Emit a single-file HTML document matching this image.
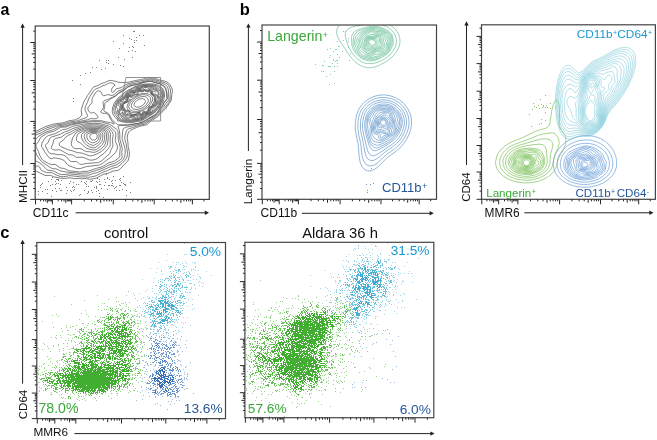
<!DOCTYPE html><html><head><meta charset="utf-8"><title>Figure</title><style>html,body{margin:0;padding:0;background:#fff;width:657px;height:440px;overflow:hidden}svg{display:block}</style></head><body><svg width="657" height="440" viewBox="0 0 657 440" font-family="'Liberation Sans', Arial, Helvetica, sans-serif"><defs><clipPath id="ca"><rect x="35.2" y="26" width="174.1" height="173.4"/></clipPath><clipPath id="cb"><rect x="262" y="25" width="174.5" height="174.3"/></clipPath><clipPath id="cr"><rect x="481.5" y="24.8" width="173.9" height="174.5"/></clipPath><clipPath id="cc"><rect x="36.8" y="242.5" width="188.7" height="176.1"/></clipPath><clipPath id="cd"><rect x="244.9" y="242.3" width="188.9" height="175.4"/></clipPath></defs><rect width="657" height="440" fill="#fff"/><text x="0.4" y="14.5" font-size="16" fill="#000" font-weight="bold" text-anchor="start" >a</text><text x="239.8" y="14.6" font-size="16.5" fill="#000" font-weight="bold" text-anchor="start" >b</text><text x="0.3" y="238.4" font-size="16.5" fill="#000" font-weight="bold" text-anchor="start" >c</text><path d="M94.7 140 92.3 140 90.7 138.9 90.2 138 89.8 136.5 90.4 134.5 92.2 133.7 94.2 133.4 95.7 133.6 97 134.5 97.3 136 96.9 138 96.2 139.1 94.7 140M94.2 142.6 92.7 142.8 91.2 142.4 89.5 141.5 88.2 140.3 87.4 139 86.8 137 86.8 135 87.3 134 89.7 132.9 94.2 132.3 97.2 132.8 98.8 134 99.1 135 99 137 98.2 139.8 96.7 141.5 94.2 142.6M94.7 145.1 93.2 145.4 91.2 145 88.2 143.4 86.1 141.5 84.8 139 84.2 136.5 84.4 134.5 85.6 133 88.7 131.8 94.7 131.4 98.3 132 100.5 133.5 100.9 134.5 100.8 136.5 100 140.5 98.2 142.8 94.7 145.1M95.2 147.6 92.7 147.8 89.9 147 86.7 145.2 84.4 143 82.4 140 81.3 137 81.6 134.5 82.9 133 85.2 131.5 87.2 130.8 93.7 130.4 99.2 131 101.2 131.8 102.2 132.7 102.9 134.5 102.5 139.5 101.8 141.5 99.7 144.1 95.2 147.6M94.7 150 92.7 149.9 86.7 148.4 84.7 147 80.7 143 77.2 141.4 76.6 140.5 76.4 138.5 77.3 135 78.2 133.6 85.2 130.1 88.2 129.4 98.7 129.7 101.7 130.4 103.7 131.7 104.6 133 104.8 134.5 104.5 139.5 103.6 142.5 102.3 144.5 100.7 146.2 96.7 149.3 94.7 150M95.7 152 93.2 152.4 89.7 151.7 86.7 151.7 85.2 151.2 81.2 148.8 79.7 148.5 75.7 148.7 74.2 148.3 73 147.5 71.6 145.5 71.3 143.5 72.5 138 75.8 133 78.2 131.5 85.2 128.8 87.7 128.3 99.7 128.6 102.8 129.5 105.2 131 106.2 132.5 106.6 134.5 106.3 140 105.2 144 104.1 146 102.2 148 98.2 150.8 95.7 152M92.7 155.5 90.7 155.9 89.2 155.7 81.7 153 77.2 152.6 73.2 151.1 68.2 149.8 60.5 146.5 59.2 145 59.4 143.5 60.2 142.3 63.2 140.2 66 137 67.7 135.7 72.2 133.5 76.2 130.8 84.7 127.8 87.7 127.2 97.7 127.3 100.7 127.7 103.7 128.6 106.8 130.5 108.2 133 108.3 138 107.4 145 104.7 148.5 101.7 151.2 97.7 153.6 92.7 155.5M93.2 160 89.7 160.1 85.2 158.1 82.2 157.2 76.7 157.4 75.2 156.7 72.7 154.9 69.7 154.8 68.2 154.4 60.2 149.9 58.7 149.7 55.2 150.1 52.6 149.5 51.4 148.5 51.2 147.5 53 143.5 53.7 140 54.6 139 55.7 138.4 61.2 137.2 65.7 134 70.5 132 74.7 129.7 85.7 126.2 88.7 126 99.2 126.2 102.2 126.8 106.7 128.5 109.1 130.5 110.5 133.5 110.1 141 110.3 144.5 110 146 108.7 148.1 104.2 153.3 100.2 156 97.2 158.6 93.2 160M81.7 164.5 79.7 164.3 77.7 162.2 76.4 161.5 71.7 161.6 70.2 161.2 66.2 156.6 63.7 155.2 61.2 154.6 57.7 154.7 54.2 153.8 51.2 153.8 49.7 153.2 48.2 151.4 45.8 147 45.4 145.5 45.8 144.5 48.2 142.4 49.7 138.5 51.7 137 60.2 134.3 64.7 131.9 68.9 130.5 72.7 128.5 85.7 125 94.7 124.7 99.7 124.9 106.7 126.9 109.2 128.2 112.4 132 113.2 134.5 112.4 140.5 113 146 111.2 149.5 109.7 153.5 102 160.5 99.2 162.2 97.2 162.7 86.2 163.5 81.7 164.5M80.2 168.6 77.2 168.7 69.2 165.8 67.2 164.4 64.2 160.5 60.7 159 55.2 157.9 53.7 158 51.2 158.7 49.7 158.3 45.8 153.5 42.1 147.5 41.5 146 41.8 143.5 44.3 139 46.1 137 48.2 135.6 54.7 133.8 59.3 131.5 62.2 129.7 66.7 129.1 72.2 126.5 84.7 123.9 93.7 123.3 99.7 123.5 108.2 125.8 110.2 126.8 115.1 131.5 115.8 133 115.9 134.5 115.2 140.5 115.6 142 117.1 145 117.5 147 117.2 149.1 115.7 152.3 112.1 156 102.7 163.3 100.7 164.5 97.7 165.3 86.7 166.5 80.2 168.6M83.2 171.5 79.7 172 68.7 170.7 64.7 168.6 60.2 167.9 55.2 164.3 51.7 164.6 48.7 163.7 43.2 160.5 41.9 159 39.8 155.5 38.4 151.5 36.3 147.5 35.9 146 36.2 144.5 38.6 141.5 40.6 137.5 46.7 133.3 48.7 132.5 53.7 131.4 60.7 127.4 62.2 127.1 66.2 127 71.2 124.9 85.2 122.3 93.2 121.7 99.2 121.7 101.7 122.1 110.2 124.5 116.7 129.3 117.6 130.5 118.1 132 118.2 139.5 120.3 147.5 119.8 152 119.8 156 119.3 157.5 114.5 161 108.2 163.1 102.2 166.8 96.2 168.4 88.2 171.2 83.2 171.5M139.2 107 136.7 107.2 134.7 106.3 134.2 105.5 134.1 104.5 134.9 102.5 136.8 100.5 139.6 99 142.2 98.6 144.2 99.1 145.4 100.5 145.4 101.5 144.9 103 142.5 105.5 139.2 107M136.2 109.5 133.2 108.9 132.1 108 131.5 107 131.3 105.5 131.7 104 133.6 101 136.7 98.4 140.7 96.7 144.4 96.5 146.1 97 147.2 97.8 148.1 99 148.3 101 147.8 102.5 146.4 104.5 144.2 106.5 141.7 108 138.7 109.2 136.2 109.5M138.2 111 135.7 111.4 133.2 111.2 131.3 110.5 130 109.5 129 108 128.8 106.5 129.3 104.5 130.4 102.5 132.5 100 134.7 98.1 137.2 96.5 139.7 95.4 142.2 94.7 144.2 94.7 146.7 95.1 148.7 96 150.2 97.5 150.8 99 150.6 101 149.4 103.5 147.2 106 144.2 108.4 141.2 110 138.2 111M137.2 112.6 134.2 112.8 131.7 112.4 129.6 111.5 127.9 110 127.1 108.5 127 106.5 127.9 104 129.4 101.5 131.9 99 134.7 96.8 137.7 95.1 141.2 93.7 143.7 93.4 146.2 93.6 149.4 94.5 151.1 95.5 152.5 97.5 152.6 100 151.9 102 149.8 105 147.2 107.7 144.7 109.6 140.7 111.5 137.2 112.6M129.7 124.6 127.2 124.9 118.7 124.8 117.2 124.4 115.7 123.2 112 119.5 108.7 113.9 107.7 113 104.7 111.6 104 111 103.8 110 104.8 106.5 104.7 103.5 105.2 102.6 108.2 101 110.9 98.5 115.7 96.1 118.7 93.3 123.7 90.5 127.7 87.3 132.2 85.5 137.2 84.7 142.2 82.9 147.2 81.7 149.7 81.4 151.7 81.7 159.7 84 163.9 86.5 165.2 88.3 166.2 91 166.9 98.5 166.4 99.5 164.1 102 162.3 106 159.7 108.8 156.8 113 154.2 115.2 149.1 118 143.2 121.7 138.2 123.3 129.7 124.6M88.7 173 84.7 173 80.2 173.4 66.2 172 60.2 170.8 56.7 169 52.6 168.5 50.2 167.5 41.7 161.8 37.2 155.9 34.7 150.1 32.3 146.5 32.2 145 33.2 142.6 37.3 137.5 39 136 46.7 131.7 52.7 130 58.7 127 60.7 126.4 65.7 126 71.2 124 75.7 123.4 83.7 121.7 91.7 120.7 101.7 120.7 106 122 110.7 122.5 114.2 124.1 113.7 123 110.7 119.5 109.1 116 108 114.5 106.2 113.5 102.2 113.1 101.2 112.6 100.8 112 101 111 102.7 109.1 103.5 107.5 103.6 106 103 102.5 103.4 101.5 104.2 100.7 108.2 99.3 115.2 96 118.7 92.8 123.2 90.5 127.2 87.3 128.7 86.4 132.7 85.1 137.2 84.4 141.2 83 146.2 81.7 149.2 81.2 152.2 81.5 160.2 83.9 164.2 86.1 165.4 87.5 166.6 90.5 167.4 97.5 167.2 99 166.7 100 164.3 102.5 162.7 106 160.2 108.7 157.5 112.5 155.7 114.4 153.7 115.8 148.8 118.5 144.7 121.4 142.7 122.2 138.7 123.4 133.2 124.4 127.7 125.2 120.3 125.5 118.3 126 117.9 126.5 119.4 130.5 119.8 134 119.8 139 122.3 148.5 121.8 152.5 122.2 157 121.3 159 115.5 163 109.2 164.9 102.7 168.2 95.2 170.8 91.7 171.7 88.7 173M89.2 175.1 81.7 175.2 69.7 173.9 61.7 174.7 58.7 173.8 53.7 171 48.2 170.2 46.7 169.5 45.2 168.1 42.6 165 39.2 162.7 35.7 161 35.1 160 33.6 153 32.7 151.5 30.2 149 29.7 148.1 29.4 146.5 29.7 144.5 32.6 137.5 33.4 136.5 34.8 135.5 41.7 132.6 46.7 129.8 57.7 125.9 65.2 124.8 70.7 122.9 75.7 122.4 83.2 120.6 87.2 119.9 90.7 118.6 95.2 118.8 97.6 118 98 117.5 97.9 116.5 95.7 113.7 93.7 112.4 91.2 113.1 90.2 112.7 88.6 111 87.8 109 88.1 107.5 88.6 106.5 91.8 103 92.1 102 91.9 99.5 92.6 97.5 95.7 92.4 97.2 91.2 98.7 90.9 100.2 91.2 101 92 102.2 94.8 103.2 95.6 105.2 95.5 107.7 94.5 110.7 95.3 112.7 95.3 114.7 94.4 117.7 91.3 122.3 89.5 126.2 86.4 128.2 85.2 133.2 83.7 137.2 83.1 148.7 80.2 151.2 80.2 153.2 80.5 161.7 83.1 164.7 84.4 166.2 85.3 167.4 87 168.5 90 168.4 94.5 168.9 98 168.8 99.5 168.1 101 165.8 103.5 163.7 106.9 161 109.5 157.5 114 154.7 116.3 149.8 119 146.2 122 144.7 122.8 133.2 125.8 125.7 127.3 124 128 123.2 129 122.7 130.9 122 138.5 124.8 147.5 125.3 152 124.6 157 122.9 160 121.2 161.6 116.2 165 111.2 166.4 96.7 172.8 92.7 173.5 89.2 175.1M90.7 177 89.2 177.3 85.7 176.9 81.7 177 69.7 175.6 63.7 176.7 60.7 176.6 56.2 175 52.7 173 51.2 172.6 46.7 172.7 41.8 170.5 40.6 169.5 39.7 167 38.7 166.2 37.2 166 34.7 166.5 33.7 166.2 31.4 164 30.2 162 30.2 160 31.4 156.5 31.6 155 30.7 153.1 28.2 150.6 27.5 148.5 27.5 144.5 28.4 141 29.4 139 31.4 136 33 134.5 46.7 127.9 56.2 124.9 64.2 123.8 70.2 121.8 76.7 121 86.6 117.5 87.3 116.5 87.4 115 85.2 110.5 85 108.5 85.9 105.5 87.6 102 88.5 99 89.9 96.5 93.7 90.7 95.2 89.2 99.2 87.7 102.2 86 105.7 84.8 108.7 83.2 110.2 82.8 112.1 83 114.1 84 114.8 85 114.5 86 112.7 87.3 111.7 89 111.6 91.5 112.2 92.2 112.7 92.4 113.7 92 116.2 88.8 121.2 87.7 124.7 85.2 126.7 84.2 134.2 82.1 142.9 80.5 147.7 79.2 150.7 79.1 153.7 79.4 165.2 82.8 167.4 84 169 86 170.7 90 170.1 94.5 170.3 99 169.4 101.5 164.6 108 156.7 116 154.7 117.5 150.3 120 146.2 123.5 144.7 124.1 138.5 125.5 132.2 127.8 128.7 128.7 127.3 129.5 126.5 130.5 124.9 136 124.6 138.5 126.1 143.5 127.6 153.5 127 157 125.4 160 122.2 163.3 117.2 167.2 112.7 168.2 107.2 170.7 101.7 172.7 96.2 175.8 90.7 177M92.2 179 89.7 179.3 85.2 178.5 81.7 178.8 78.2 178.4 74.7 178.6 70.2 177.8 65.2 178.3 60.7 178.2 53.7 176.8 50.7 175.4 45.2 175.5 36.7 171.4 31.7 170.1 29.2 167.1 26.2 165.5 25.7 164.2 26 157.5 24.4 153 24.2 151 24.8 148 25.3 143 26.5 139 31.1 134 32.2 133.2 44.7 126.9 53.2 124.2 56.7 123.5 62.5 123 69.7 120.6 75.2 119.9 79 118 80.8 116.5 81.7 115 81.8 114 81.2 111 81.5 109 83.7 102 87.6 95.5 93.2 87.3 94.2 86.7 97.8 85.5 101.2 83.6 104.7 82.6 108.2 80.9 110.2 80.4 112.2 80.5 119.2 82.4 124.2 82.6 129.7 82 134.7 80.6 141.5 79.5 146.2 78.1 148.2 77.9 154.7 78.3 158.7 79.7 165.7 81.4 168.2 82.6 169.9 84.5 171.5 87.5 172.3 89.5 172.4 91.5 171.7 95 171.4 99 170.9 101 165.7 108.7 157.2 117 151.2 120.8 147.2 124.3 145.2 125.2 140.7 126 136.5 127.5 130.1 130.5 128.6 132 127.6 135 127.2 138 127.9 142 128.2 146.9 129.3 151.5 129.5 153.5 128.7 159 127.9 161 125.2 163.5 121.2 168 118.2 170.4 113.2 171 109.2 172.9 102.7 174.6 96.7 178 92.2 179M133.2 114.5 132.2 114.5 131.4 114 130.1 112.5 129.2 110.3 128.2 110.3 126.7 110.8 126.2 110.6 124.2 108 123.2 106 123.4 104.5 124.2 103.5 127.2 102.2 130.4 100 130.5 99.5 130.2 99.1 128.4 99 128.2 98.5 128.7 97.1 129.7 96.7 131.7 97.4 132.2 97.3 134.2 95 138.2 94.6 138.1 92.5 139.2 91.6 142.2 91.8 144.7 90.8 147.2 92 150.2 91.7 151 94 153.7 96.2 154.4 97.5 154.4 100 154 102 152.8 103.5 152.2 105.3 150.7 106.4 149.2 106.3 147.5 110.5 146.7 111.4 145.7 111.8 143.7 111.3 143 111.5 142.2 114.1 141.2 114.2 139.7 112.2 138.7 111.8 136.7 113.9 133.2 114.5M132.7 115 131.2 114.5 129.4 112.5 128.7 111 126.7 111.6 123.4 108.5 122.8 106 122.8 105 124.2 103.1 126.9 102 128 101 128.2 100.5 127.6 99 128.2 97 129.2 96.3 131.7 96.7 132.2 96.5 133.3 95 134.2 94.3 137.2 94 137.2 92.5 138.7 91.3 140.2 91.1 142.2 91.3 144.7 90.4 147.7 91.6 149.7 90.8 150.8 91 151.2 91.5 151 93 151.4 94 154 96 154.5 96.5 154.8 97.5 154.8 102.5 153.6 103.5 152.7 105.5 151.2 106.7 149.2 107.6 147.8 111 147.2 111.7 145.7 112.3 143.5 112 142.7 114 142.2 114.6 141.2 114.7 139.7 112.9 138.7 112.5 136.7 114.4 132.7 115M142.2 115 141.7 115.2 140.7 114.8 139.2 113.2 138.7 113.3 137.6 114.5 136.7 114.9 131.7 115.3 130.9 115 128.2 112.7 126.2 114.5 125.7 114.4 125.4 114 126 112.5 125.8 111.5 124.7 110.2 122.6 109 122.4 105 124.2 102.7 126.7 101.7 127.5 101 127.2 98.5 128.2 96.1 131.7 96.1 133.2 94.1 137.7 91.1 139.7 90.6 142.2 90.8 144.7 90 147.2 90.8 149.7 90.3 151.2 90.5 151.7 91 151.5 93 151.9 94 155.7 96.5 155.3 98.5 155.7 103 154.2 104 152.7 106 149.2 108.4 148.3 111 147.6 112 145.7 112.9 144.2 112.6 142.2 115M142.2 115.5 140.7 115.3 139.2 114.1 137.2 115.5 134.2 115.8 131.2 115.7 128.2 114.1 126.2 115.3 125.2 115.2 124.3 114 125.2 112.3 125.2 111.5 124.2 110.4 122.6 110 122 109.5 122.2 107.5 121.9 105 123.7 102.5 127 101 127 100 126.5 99 127.7 95.8 128.2 95.5 131.4 95.5 132.7 93.5 134.7 92.6 137.2 90.7 140.2 89.9 142.7 90.1 145.2 89.2 147.2 90.1 149.7 89.7 151.7 89.9 152.4 90.5 152 92.5 152.2 93.6 154.7 95.1 156.5 95.5 157 96 157 97.5 156.2 98.5 156.4 103 155.7 103.9 154.2 104.9 153.2 106.1 149.7 108.6 149.2 109.5 149 111 148.3 112 146.2 113.3 144.2 113.6 142.2 115.5M136.2 117.2 135.7 117.4 133.7 116.4 129.2 115.8 128.2 115.2 126.2 116.1 125.2 116.1 123.6 115 123.4 114 124.5 112 124.5 111.5 123.7 110.8 122.2 110.7 121.4 110 121.7 107.5 121.1 105.5 121.3 104.5 123.2 102 126.3 101 126.5 100.5 126.4 100 124.7 99.4 124.5 99 124.7 98.5 126.6 97.5 127.2 95.6 127.7 95.1 130.7 94.7 131 93.5 131.4 93 134.2 92.3 136.4 90.5 137.7 89.9 142.7 88.9 144.7 87.5 147.2 87.4 147.9 88 148.2 89 151.2 88.7 155.5 90.5 156.1 91.5 155.8 92 155.2 92.2 153.7 91.2 153.2 91.2 152.6 92 152.5 93 153.2 93.7 155.2 94.4 156.7 94.3 157.4 95 158 99.5 156.8 103.5 153.7 106.3 150.1 109 149.6 111.5 148.5 112.5 145.7 114 144.2 114.3 142.2 116.2 141.2 116.1 139.2 115.2 136.2 117.2M135.7 118.6 132.7 116.9 130.2 116.7 128.2 117.3 124.2 117 123.2 116.1 122.4 114.5 122.3 113.5 122.9 112 122.2 112 121.2 113.6 120.2 113.5 119.5 113 119.3 112 120.3 111 121.2 107.5 120.3 105.5 120.3 104 119.6 102.5 119.7 101.9 120.2 101.4 122.2 101.3 123.2 100.6 123.8 98.5 126.2 97 127.2 94.8 129.7 94.1 130.9 92.5 134.2 91.8 136.7 89.7 140.8 88.5 143.2 87.2 147.2 86.8 148.3 87 149.7 87.7 151.7 87.6 155.7 89.7 158.1 92 158.4 97 159.1 100 157.6 103.5 154.5 106.5 151.2 109 150.8 109.5 150.9 111 150.2 112 145.7 114.6 144.2 115 142.7 116.7 141.7 116.9 139.7 116.6 135.7 118.6M136.2 119.1 134.7 119 130.7 117.4 128.2 118.4 124.2 118.1 123.2 117.5 121.2 115 119 113.5 118.1 112 120.3 107.5 119.7 106.7 118.6 106 118.4 105.5 118.9 104.5 118.7 102.5 119 101.5 119.7 100.7 122.2 100.1 123.6 98 125.7 96.6 127.2 94.2 129.2 93.5 130.7 92 134.2 91.2 136.7 89 140.2 88.2 142.7 86.7 143.7 86.4 148.2 86.3 153.2 87.2 158.5 91 159.1 92 158.9 93.5 159.2 94.4 159.7 95 161.4 96 161.2 96.6 160.7 96.7 159.7 96.2 159.2 96.8 160.1 99.5 159.9 101 157.7 104.5 153 109.5 152 111.5 151.5 112 144.7 115.6 142.7 117.4 140.2 117.6 136.2 119.1M136.2 119.6 131.7 119.5 130.2 119.1 127.7 119.6 124.2 119.2 122.2 118.5 120.8 116 117.7 113.5 117 112.5 117.8 109.5 116.7 107.8 116.5 106.5 118.6 101 119.7 99.9 121.7 99.2 123.7 97.2 125.2 96.2 126.7 93.9 128.7 93.1 130.7 91.4 134.2 90.5 136.2 88.4 139.7 87.7 142.2 86.3 143.7 86 148.7 85.8 154.1 86.5 158.4 90 160.7 91.1 161.4 92 161.3 94 162.3 96 162 97 161.1 98.5 160.7 101 160.3 102 157.2 107 152.2 112.2 147.4 114.5 143.2 117.7 136.2 119.6M132.2 120.6 127.2 120.6 121.7 119.7 120.7 119 116.5 114 116 113 115.8 110.5 115.2 109.1 115.5 106.5 117.1 102.5 118.7 99.8 121.7 98.1 125.2 95.2 126.7 93 128.2 92.4 130 91 133.7 89.9 135.7 87.9 139.7 86.9 142.2 85.7 148.7 85.2 153.7 85.6 155 86 158.7 88.8 160.7 89.4 162.4 92 162.8 96.5 161.1 102 159.7 103.9 158.5 106.5 157.7 107.6 152.7 112.5 150.7 113.8 147.7 114.9 143.2 118.3 135.7 120.2 132.2 120.6M132.7 121.5 127.2 121.7 121.7 120.7 117.7 118 115.1 114.5 114.4 113 113.7 109 114.4 106 116 102.5 118.2 99.2 124.2 94.5 126.7 92 135.2 87.4 141.7 85.1 143.7 84.8 148.7 84.6 154.2 84.9 157.7 86.4 161.2 88.3 162.1 89.5 163.2 92 163.6 94.5 163.5 96.5 161.7 102.5 158.3 108 153.2 112.9 151.2 114.3 148.4 115.5 143.7 118.7 140.7 119.8 132.7 121.5M132.7 122.5 126.7 122.7 121.2 121.6 116.1 118.5 113.7 115.5 112.9 114 112.3 111.5 112.5 108 114.1 103.5 117.6 98.5 124.6 92.5 127.2 90.7 134.7 86.8 141.7 84.4 149.2 83.8 154.2 84.1 158.2 85.3 161.7 87.5 162.9 89 163.8 91 164.5 93.5 164.5 96 163.9 99.5 162.9 102 159.2 108 156.2 111.2 153.7 113.3 144.2 119.2 140.7 120.6 132.7 122.5" fill="none" stroke="#555" stroke-width="0.75" stroke-opacity="1" clip-path="url(#ca)"/><path d="M126 77.5H160.6V121H117.4Z" fill="none" stroke="#777" stroke-width="0.8"/><path d="M38 191.5h1M38 194.5h1M40 185.5h1M40 187.5h1M41 184.5h1M42 183.5h1M42 191.5h1M45 189.5h1M47 189.5h1M47 193.5h1M48 181.5h1M50 185.5h1M51 179.5h1M51 196.5h1M52 177.5h1M52 184.5h1M52 190.5h1M55 181.5h1M55 184.5h1M55 188.5h1M56 179.5h1M56 183.5h1M56 191.5h1M57 179.5h1M58 179.5h1M58 180.5h1M58 183.5h1M59 188.5h1M60 184.5h1M60 190.5h1M61 180.5h1M61 190.5h1M66 187.5h1M66 193.5h1M67 190.5h1M69 183.5h1M70 181.5h1M70 190.5h1M71 191.5h1M72 80.5h1M72 187.5h1M73 98.5h1M73 101.5h1M73 182.5h1M73 186.5h1M73 190.5h1M74 187.5h1M74 189.5h1M76 184.5h1M78 184.5h1M79 195.5h1M80 75.5h1M80 84.5h1M80 194.5h1M81 181.5h1M84 182.5h1M84 190.5h1M85 73.5h1M85 183.5h1M86 181.5h1M86 184.5h1M86 186.5h1M87 193.5h1M88 186.5h1M88 191.5h1M88 192.5h1M90 72.5h1M90 181.5h1M91 181.5h1M91 190.5h1M92 67.5h1M92 180.5h1M92 192.5h1M94 187.5h1M96 67.5h1M96 181.5h1M96 186.5h1M96 187.5h1M96 188.5h1M96 191.5h1M97 178.5h1M97 182.5h1M98 190.5h1M99 60.5h1M99 179.5h1M99 181.5h1M99 184.5h1M99 193.5h1M99 196.5h1M100 184.5h1M101 69.5h1M101 188.5h1M103 197.5h1M104 179.5h1M104 185.5h1M105 68.5h1M105 182.5h1M106 60.5h1M106 62.5h1M106 174.5h1M107 177.5h1M107 178.5h1M107 189.5h1M108 60.5h1M108 63.5h1M108 185.5h1M109 179.5h1M109 185.5h1M111 181.5h1M111 185.5h1M112 180.5h1M112 183.5h1M112 185.5h1M113 41.5h1M113 64.5h1M113 176.5h1M113 186.5h1M114 188.5h1M115 180.5h1M115 187.5h1M116 186.5h1M116 190.5h1M118 57.5h1M119 48.5h1M119 179.5h1M119 185.5h1M119 190.5h1M120 65.5h1M120 178.5h1M120 180.5h1M120 185.5h1M121 182.5h1M122 189.5h1M123 35.5h1M123 43.5h1M123 66.5h1M123 176.5h1M123 183.5h1M124 59.5h1M124 184.5h1M125 184.5h1M125 185.5h1M126 190.5h1M126 195.5h1M128 51.5h1M129 38.5h1M129 47.5h1M130 182.5h1M130 192.5h1M131 39.5h1M132 46.5h1M132 50.5h1M132 57.5h1M133 31.5h1M133 47.5h1M134 31.5h1M134 40.5h1M134 42.5h1M135 51.5h1M136 37.5h1M136 40.5h1M139 35.5h1M143 35.5h1M144 45.5h1" stroke="#555" stroke-width="1.0" stroke-opacity="0.75" clip-path="url(#ca)"/><path d="M373 45.1 371.2 45 369.9 44 368.9 41.5 369 40.7 369.5 40.1 371 39.8 373 39.9 375.1 41 375.6 42 375.3 43.5 374.5 44.4 373 45.1M372.5 46.5 370.5 46.3 369 45 367.8 41.5 367.9 40.5 368.6 39.5 370.5 39 373.5 39.2 375.5 39.9 376.5 41 376.8 42.5 376.2 44 374.5 45.7 372.5 46.5M373.5 47.6 372 47.8 370.5 47.6 369 46.9 368.1 46 367.2 43.5 366.8 41.5 367.1 40 368 39 369.5 38.4 372 38.4 376.5 38.8 377.5 39.5 378.4 42 378.2 43.5 375 46.8 373.5 47.6M374 48.5 372 49 370.5 48.8 368.5 48 367 46.8 366.5 45.5 366 41.5 366.5 39.5 367.5 38.5 369.5 37.8 374.5 37.8 377.5 37.2 378.4 37.5 378.9 38 380.3 43.5 380.1 44.5 377.5 45.9 375.5 47.7 374 48.5M372 50.1 370.5 50 369 49.4 367 48.4 366 47.5 365.5 46.2 365.1 42.5 365.6 39.5 367 38 369 37.2 374 37 377.5 36.3 379 36.6 380.2 38 380.7 41 381.8 44 381.6 45.5 381 46.1 378 47 374.5 49.2 372 50.1M372.5 51.1 371 51.4 369.5 50.9 366.5 49.4 365.1 48 364.5 46.5 364 42.5 364.6 39.5 366 37.8 369 36.4 374 36.1 377.5 35.5 379.6 36 381.1 37 381.6 38 381.9 41 383.2 44 383 45.7 381.5 47.2 378 48.2 372.5 51.1M371.5 52.6 369.5 52.4 367.5 51.6 365.5 49.9 364 48 363.4 46.5 362.5 42 362.7 40.5 363.5 39 365.5 36.9 371 34.3 374 35 378.5 34.8 382.1 36 383.3 37.5 383.4 41 384.7 43.5 384.6 45 383.9 46.5 382 48.2 377.5 49.4 371.5 52.6M372 53.5 370.5 53.9 369 53.7 367.5 53.1 366 51.9 362 47 360.7 41.5 361.1 40 363.5 36.8 368 34 370 32.2 371 31.7 372.2 32 374.5 33.8 380 34.1 382 34.6 383.5 35.4 384.8 37 385.2 40 386.5 43 386.1 45 385.5 46.5 383 49 381.5 49.7 376.5 50.8 372 53.5M371 55.1 369 55 366.5 53.8 363.5 50.5 360.7 48 359.3 42 360 39.5 363.2 35 367.5 32.8 370.5 30.8 372.5 30.9 375.5 32.8 379.5 32.7 383.5 34.1 385 35.2 386.1 36.5 387.8 41.5 387.7 44 386.5 47.3 385.5 48.6 383.5 50.2 381.5 50.9 376.5 52 371 55.1M372 56.1 370 56.3 366.5 55.1 364.7 54 362.5 52 360.5 50.9 359.4 49 357.8 42.5 358.7 39 361.9 34.5 363.5 33.3 367 31.9 369.5 30.3 371.5 29.8 373 30.1 376 31.6 380 31.5 385.2 34 386.5 35 387.6 36.5 388.7 39.5 389 41.5 388.9 43.5 388.2 46 387 48.5 385.4 50.5 384 51.5 380.8 52.5 378 54 375 54.5 372 56.1M371.5 57.5 369.5 57.4 363.5 55.5 360.4 53.5 358.6 51 357.5 46.6 356 44 355.8 43 357.5 37.5 360.5 34 364 31.8 367 30.7 369.5 29.4 371.5 29 376 30.2 380 30.3 386.5 33.5 387.8 34.5 388.9 36 389.7 38.5 390.1 41 389.9 43.5 389.3 45.5 387.5 49.5 385.9 51.5 384.5 52.5 381 53.8 377.5 56 371.5 57.5M372.5 58.6 370 58.7 364.5 57.2 362.5 56.5 360.5 55.1 358.8 53.5 357.5 51.5 356.1 47.5 354.7 45 354.3 43 355.6 37 356.5 35.6 359 33 363.5 30.7 369.5 28.5 371.5 28.2 380 29.2 387.5 32.9 389 34.1 390.1 35.5 391.1 40 391 43 390.5 45 388.2 50 386.8 52 385 53.4 381.5 54.8 378 57.1 372.5 58.6M373.5 59.6 371 59.9 368.5 59.6 363 57.9 360.5 56.5 358 54 355.8 51 353.7 46.5 353 43.5 353.8 36.5 354.5 35 356.8 32 358.5 31 363 29.4 371 27.3 379.5 28 387 31.4 389.4 33 390.8 34.5 391.5 36 392.2 39.5 392.2 42.5 391.8 44.5 389 50.5 387.5 52.5 385.5 54.2 381.6 56 378.5 58 373.5 59.6M374 60.6 371 61 368.5 60.8 366 60.2 362 58.6 360 57.3 357.9 55.5 354.2 51 352.7 48 351.8 45 351.6 36.5 352 35 352.8 33.5 354.6 31.5 356 30.4 363 28.1 369.5 26.5 372 26.2 378.5 26.7 381 27.4 386.5 29.7 390 32.3 391.9 34.5 393.2 39 393.4 43 392.7 45.5 389.6 51.5 387.5 53.8 384.5 55.9 378.5 59.1 374 60.6M373 63.6 367.5 63.6 365 63.1 362 62 357 58.6 352.7 54 348.8 47 346.7 41.5 345.4 37 345.2 34.5 345.4 32.5 346.5 30.5 348 29 351.5 27.2 356 26 368 24 376 23.9 381.5 24.7 386.5 26.5 390.5 29.1 393.7 32.5 394.9 34.5 395.8 37 396.3 39.5 396.5 42 395.7 46 393.2 51 390 54.8 385 58.7 379 61.8 373 63.6M372.5 67.5 369.5 67.8 366.5 67.5 363.5 66.8 360.5 65.5 357.5 63.7 355 61.7 349.8 56 339.3 40 337 35 336.6 32 337 29 338.5 26.1 340.6 24 342.5 22.8 345 21.8 350 20.9 372.5 20.8 378.5 21.2 384 22.3 389 24.3 393.5 27.4 396.8 31 398.3 33.5 399.3 36 399.8 38.5 400 41.5 399.7 44 398.9 47 396.4 52 392.1 57 386 61.7 378.5 65.8 372.5 67.5" fill="none" stroke="#6cc29a" stroke-width="0.7" stroke-opacity="1" clip-path="url(#cb)"/><path d="M384.5 125 382.5 125.2 381.5 124.7 380.8 124 380.5 123 380.6 122 381.2 121 382 120.4 383 120 384 120 385.5 121.1 385.8 122 385.7 123.5 385.2 124.5 384.5 125M386 126.3 382 126.3 380.7 126 380.1 125.5 379.5 124 379.4 122.5 379.8 121 380.5 120.2 382 119.3 383.5 119 385 119.4 386 120.2 386.6 121 386.9 122.5 386.6 125.5 386 126.3M386.5 128.1 385.5 128.4 383 127.8 380 127.8 379 127.3 378.6 126 378.4 122 378.9 120.5 379.7 119.5 382 118.4 384 118.1 385.5 118.6 387.3 120 388 121.5 388 125.5 387.5 127 386.5 128.1M385.5 130.7 384.5 130.7 381.5 129.7 378.5 129.5 377.6 129 377.1 128 377.5 125 377.5 121.5 378 119.8 379.5 118.4 383.5 116.9 385.5 117.3 389 119.5 389.8 120.5 388.7 127 386.5 130 385.5 130.7M387.5 132.7 386.5 132.8 381 131.2 377 130.8 376 130 375.4 128.5 375.6 127 376.5 124.5 376.7 120.5 377.5 118.7 379 117.4 383.5 115.4 385 115 386.5 115.3 390.5 119.1 391.3 120.5 391.3 121.5 390.4 124 390.2 126.5 388.3 129.5 388.1 132 387.5 132.7M387 134 376 131.7 374.7 130.5 374.3 128 375.3 124 375.7 120 377.5 117 382.2 114 385 113.2 387.5 112.9 388.5 113 389.1 113.5 389.7 116.5 392 119.5 392.5 121.5 391.6 126.5 389.5 130 389.6 132.5 388.5 133.6 387 134M382.5 137.6 381.5 137.9 380.6 137.5 380.2 136.5 380.2 135 379.6 134 378.5 133.4 375 132.5 373.9 131.5 373.4 130 373.4 128 374.6 120 376.6 116 380 112.7 381 112.3 389 111.8 390 112.3 390.5 113 391 116.5 392.7 119 393.3 120.5 393.5 123 392.8 127 391.5 130 391.3 132 390.7 133 388 134.7 384 135.4 382.5 137.6M382.5 139 381 139.4 379.7 139 378.8 138 378.2 135.5 377.5 134.6 374 133.7 373 132.9 372.4 130.5 372.9 124.5 372.8 120 375.5 114.3 379 110.9 380.5 110.4 384 111.1 389 110.7 390.5 111.3 391.7 112.5 392.2 116 393.6 118.5 394.4 121 394.8 123.5 393.7 130.5 393.1 132 391.8 133.5 389 135.2 385.5 136.6 382.5 139M382 140.6 380.5 140.9 379.5 140.8 376 139.3 372 135 371.4 131 371.8 125 371.5 123.3 370.3 120.5 370.3 119 370.8 118 372.2 116.5 374.4 112.5 379 109.4 380.5 109.1 384 109.8 387.5 109.4 389 109.6 391.2 110.5 392.8 112 395 117.5 396.3 123.5 395.1 130.5 394.1 132.5 392.5 134.3 386 137.9 382 140.6M381 142.5 378.5 142.7 374.3 141.5 372.9 140.5 371.5 138.3 370.3 134.5 370 129.5 370.5 126 368.9 121.5 368.8 118.5 369.5 117 373.4 111.5 378.5 108.4 380.5 107.9 384 108.5 387 108.1 388.5 108.3 391 109.2 392.5 110.1 394.3 112 395.7 114 397.5 118.5 398.1 123 398 125 396.9 127.5 395.9 131.5 393.7 134.5 388.5 138.4 381 142.5M378.5 145.1 376.5 145.2 372.5 143.6 371.5 142.7 370.5 140.7 368.9 135 367.8 128.5 367.5 122.5 367.9 117.5 368.6 116 372.5 110.7 374 109.6 378 107.4 380.5 106.7 384 107.1 387 106.9 389 107.2 393 109.1 395.5 111.5 397.1 113.5 398.8 117 399.6 119.5 399.4 125.5 396.6 132.5 394 135.8 390.6 139 389 140.2 383 143.5 378.5 145.1M376.5 148.1 374.5 147.6 371.5 145.3 370.2 143.5 369.2 141 367.1 133.5 366.1 127.5 366 123 367 117 368.5 113.9 371 110.5 373 108.7 376.5 106.7 379 105.8 381 105.5 387 105.6 389.5 106.1 392 107.2 395 109.5 397.5 112 399.1 114.5 400.2 117 401 120 401 123.5 400.5 126.5 397.7 133 394.5 137.1 391.7 140 388.5 142.4 384 144.9 378.5 147.5 376.5 148.1M376.5 150.6 374 150.8 372.3 150 370 147.1 368.6 144 365.7 133.5 364.8 128 364.7 123 365.7 117 366.9 114 369 110.7 371.5 108.2 374.5 106.2 378 104.7 381 104.1 385.5 104.1 389 104.7 392 105.9 395 107.8 397.9 110.5 400 113.5 401.4 116.5 402.2 120 402.3 123.5 401.7 127 399 133.5 396.1 137.5 393.8 140 388 144.4 380.5 148.7 376.5 150.6M374.5 155.6 372 155.7 370 154.6 368.2 152 367 148.5 363.5 134 362.6 128.5 362.6 122.5 363.7 116.5 365.2 112.5 367.2 109.5 370 106.7 373.5 104.3 377 102.9 381 102 385 102 389.5 102.8 393 104.2 396.5 106.4 399.5 109.3 401.8 112.5 403.4 116 404.3 120 404.4 124 403.6 128 402.2 132 400.3 135.5 398.2 138.5 395.5 141.5 391.5 144.8 378.5 153.6 374.5 155.6M372.5 160.6 370 160.3 367.9 159 366.2 156.5 364.9 152.5 363 141.5 361.1 133 360.4 128 360.5 121.5 361.7 115.5 363.4 111.5 366 107.7 369 104.8 373 102.2 377 100.7 381.5 99.9 385.5 99.9 390 100.8 394 102.4 398 105 401.2 108 403.6 111.5 405.3 115 406.4 119.5 406.5 124 405.7 128.5 404.3 132.5 402.3 136.5 399.9 140 397 143.2 393.5 146.2 384.5 152.5 377.5 158.3 375 159.8 372.5 160.6M370.5 166 368 165.6 365.5 163.8 363.7 161 362.3 157 360.7 143.5 358.6 134 357.9 128.5 357.9 122 359.2 115 360.8 111 363.7 106.5 367.5 102.7 371.5 100.2 376.5 98.2 381 97.5 385.5 97.5 390.5 98.4 395 100.1 399 102.6 402.7 106 405.7 110 407.8 114.5 408.9 119 409.1 124 408.2 129 406.6 133.5 404.4 138 401.7 142 398.5 145.5 394.5 148.9 386.5 154.5 377 163.3 373.5 165.3 370.5 166M371.5 170.6 369.5 171 367.5 170.8 364.5 169.5 362 166.5 360.1 162 359.2 157 358.2 144.5 355.9 133.5 355.3 129 355.3 122.5 356.3 116 358.2 110.5 360.8 106 364.5 102 369 98.7 374 96.4 379 95.2 384.5 94.9 390 95.7 395.5 97.6 400 100.3 404.3 104 407.7 108.5 410.1 113.5 411.4 118.5 411.6 123.5 410.8 129 409.2 134 407.1 138.5 404.2 143 401.3 146.5 396.5 150.9 387.3 157.5 377.5 167.3 374.5 169.3 371.5 170.6" fill="none" stroke="#5a8fc8" stroke-width="0.65" stroke-opacity="1" clip-path="url(#cb)"/><path d="M315 64.5h1M321 71.5h1M322 65.5h1M323 65.5h1M323 71.5h1M324 61.5h1M326 76.5h1M327 49.5h1M328 66.5h1M329 57.5h1M329 66.5h1M329 84.5h1M330 48.5h1M330 55.5h1M330 66.5h1M330 74.5h1M332 63.5h1M333 51.5h1M333 59.5h1M333 60.5h1M334 66.5h1M334 71.5h1M334 83.5h1M335 49.5h1M335 61.5h1M336 49.5h1M336 60.5h1M337 41.5h1M337 54.5h1M337 60.5h1M337 63.5h1M337 66.5h1M338 46.5h1M339 46.5h1M339 57.5h1M342 51.5h1M343 31.5h1M343 40.5h1M345 31.5h1M348 38.5h1M348 41.5h1M348 47.5h1M349 60.5h1M350 53.5h1" stroke="#7ccaa6" stroke-width="1.0" stroke-opacity="0.9" clip-path="url(#cb)"/><path d="M366 184.5h1M367 190.5h1M367 192.5h1M370 184.5h1M371 168.5h1M373 183.5h1" stroke="#5a8fc8" stroke-width="1.0" stroke-opacity="0.9" clip-path="url(#cb)"/><path d="M527.5 165.4 525.4 165.3 524.5 164.8 523.5 163.5 523.3 162.8 523.5 161.5 525 160.1 526 159.8 527.5 160 528.5 160.5 529.3 161.3 529.6 162.3 529.4 163.8 528.6 164.8 527.5 165.4M528 166 526.5 166.2 524.7 165.8 523.5 165 522.5 163.8 522.2 162.8 522.4 161.3 523 160.1 524 159.2 525.5 158.7 527.4 158.8 529.1 159.3 530.5 160.3 530.8 161.8 530.4 163.8 529.3 165.3 528 166M529 166.3 527 166.8 525 166.6 523.5 166 522 164.8 521.1 163.3 521 161.8 521.6 160.3 522.7 158.8 524 158.1 526 157.8 529 158.3 531 159.3 531.8 160.8 531.6 162.8 530.5 165.1 529 166.3M528 167.3 525.5 167.4 523.5 166.9 521.6 165.8 520 164 519.6 162.8 519.9 160.8 520.8 159.3 522.5 157.8 525 157.1 528.5 157.4 530.9 158.3 532.3 159.8 532.7 161.8 531.9 164.3 530 166.6 528 167.3M529 167.9 526 168.1 523.5 167.8 521.5 167 519.7 165.8 518.8 164.8 518.3 163.3 518.2 160.3 518.6 159.3 522 157.1 524 156.5 529 156.9 530.5 157.3 532 158.3 533.4 160.3 533.6 161.3 533.4 162.8 531.4 166.3 530.3 167.3 529 167.9M528.5 168.8 525 168.8 522.5 168.4 519.7 167.3 518 166.1 516.9 164.3 516.4 159.8 517 158.3 522 156.1 524 155.8 529.5 156.3 531.5 157 533 158.1 534.4 160.3 534.6 161.8 534.4 162.8 532.7 165.8 531.2 167.8 530 168.6 528.5 168.8M529.5 169.8 522.5 169.3 519 168.2 516.9 166.8 516 165.8 515.5 164.3 515.3 159.3 516 157.6 517.5 156.7 521.5 155.2 523 155 530 155.5 532.1 156.3 533.7 157.3 535.3 159.8 535.8 161.3 535.8 162.8 531.7 168.8 530.5 169.6 529.5 169.8M530.5 170.8 523.5 170.3 520 169.6 518 168.9 516 167.3 515 166.2 514.5 164.8 514.3 159.3 515 157.3 517.5 155.4 521.5 153.9 532 154.6 534.5 154 535.5 154.3 536.1 155.3 536 157.3 536.4 158.8 537 160.1 538.6 161.8 538.9 162.8 538.7 163.8 538 164.9 535 166.5 532 170.1 530.5 170.8M530 171.8 522.5 171 518.5 170.3 517 169.5 514.5 167.2 513.9 166.3 513.5 164.8 513.2 159.3 513.8 157.3 515.5 155.5 518.5 153.4 521.5 152.6 526.5 153.2 529.5 152.4 534 152.2 535.5 152.5 537 153.5 537.9 155.3 538.3 158.3 540 159.9 540.6 160.8 540.8 162.8 540.4 164.8 539 166.5 535 168.9 532.5 171 530 171.8M531.5 172.4 529 172.7 519.5 171.7 517.5 171.1 516.2 170.3 513.2 167.3 511.8 162.8 511.7 161.3 512 158.8 513.3 156.3 517 152.9 519 152 521.5 151.4 526.5 151.4 530 150.7 535 151.2 537.6 152.3 538.5 153.3 540 156.5 542 159.3 542.4 161.8 541.9 164.8 541.1 166.3 539.5 167.7 533 171.8 531.5 172.4M531.5 173.3 528.5 173.7 518.5 172.6 516 171.5 512.3 168.3 511 165.2 509.7 163.3 509.5 161.8 511.4 156.8 515.5 152.7 518 151.2 521.5 150.2 529 149.4 536 150.2 538 150.9 539.5 152.2 542.6 156.8 543.5 158.8 543.7 162.3 543 165.3 541.8 167.3 539 169.6 533.5 172.6 531.5 173.3M530.5 174.4 528 174.6 524 174.4 518.5 173.6 515 172.1 512.4 170.3 510.9 168.8 508.2 163.8 508.1 161.3 509.4 157.8 510.5 155.8 513 153.3 515.5 151.4 518 150.1 522 148.9 529.5 148.1 538 149 540 150.1 541.9 152.3 543.7 155.8 544.8 159.3 544.7 162.8 543.7 166.3 542 168.6 539 171 533.5 173.5 530.5 174.4M528.5 176.3 523.5 176.3 518.5 175.4 514 173.7 510 171.2 507.1 167.8 505.7 164.3 505.6 160.8 506.7 157.3 508.6 154.3 511.5 151.5 515.5 149 519 147.6 525.5 145.9 535 144.5 540 144.2 543 144.8 544.5 145.8 545.3 146.8 546.3 149.8 547.3 160.3 547.1 163.3 546.2 166.3 545.1 168.3 543.5 170.2 539.5 173.2 534.5 175.2 528.5 176.3M531 177.8 524.5 178.1 518 177.2 512.5 175.2 508 172.4 504.8 168.8 503.1 164.8 502.9 160.8 504.4 156.3 506.5 153.1 509.5 150.2 513.5 147.6 518 145.6 540.5 139.1 545.5 138.8 548 139.2 549.8 139.8 551 140.6 552 141.8 552.6 143.3 552.8 145.3 552.4 147.8 550.6 154.3 549.8 163.8 548.6 167.3 546 170.9 542 174.1 536.5 176.6 531 177.8M532 179.8 525 180.3 518 179.4 514.5 178.5 511 177.1 506 174.1 502.3 170.3 500.8 167.8 500.1 165.8 499.7 163.3 499.8 160.8 500.3 158.3 501.2 155.8 503.4 152.3 506 149.6 509.5 146.9 514 144.5 525.8 140.3 539 135 543 134 551.5 132.8 554 133.1 556 134.6 557.8 137.3 558.9 140.3 559.1 143.3 558.1 147.8 554.5 155.8 552.9 164.3 551.9 167.3 550.8 169.3 548.9 171.8 544.5 175.4 539 178.1 532 179.8M530 182.8 523 182.9 515 181.6 508 179 503 175.9 498.9 171.8 497.3 169.3 496.3 166.8 495.7 164.3 495.6 161.8 496.6 156.8 498.2 153.3 501.2 149.3 504.5 146.3 508.5 143.6 513 141.4 523.2 137.3 535 131.6 539.5 129.9 545.6 128.3 548 126.9 549.2 125.3 550 122.9 551.6 111.3 553.2 104.8 555 100.9 556 100 557 100 558 101.3 558.5 102.6 559.3 107.3 559.5 112.8 559.1 122.8 559.4 125.8 560.5 129 564.1 133.8 565.5 136.8 566 140.8 565.2 145.3 563.3 149.8 559 157.4 558 160.2 556.8 165.3 555.7 168.3 554.2 170.8 552.2 173.3 548.5 176.5 543 179.6 537 181.7 530 182.8" fill="none" stroke="#7cc25a" stroke-width="0.7" stroke-opacity="1" clip-path="url(#cr)"/><path d="M585.5 166.9 583.5 166.9 582.3 165.8 582.2 163.8 582.7 162.8 583.5 162.2 584.5 162 586 162.3 586.8 162.8 587.5 163.8 587.5 164.8 587.1 165.8 585.5 166.9M586 167.9 583.5 167.9 581.5 166.8 581.1 165.8 581 164.3 581.3 161.8 581.9 160.8 586 160.7 588 160.3 589 160.6 589.7 161.3 590.2 162.8 590 164.3 587.9 166.8 586 167.9M586 168.8 584.1 168.8 582.2 168.3 581 167.8 580.1 166.8 579.5 161.3 579.6 160.3 580.5 159.3 581.5 159.1 585 159.6 587.5 158.9 588.5 159 590 159.7 591 160.8 591.8 163.3 591.5 165.3 588.5 168 586 168.8M588 169.8 584 169.5 579.5 168.5 578.6 167.8 577.8 161.8 578 160.3 579 158.8 581 158 584.5 158.5 588 157.9 590.2 158.8 591.9 160.3 592.9 162.8 592.9 165.3 589.5 169.1 588 169.8M588.5 171.3 587 171.2 582 169.7 578.5 169.8 577.3 169.3 576.8 168.3 576.7 165.8 576 162.3 576.1 159.8 576.9 158.8 580 157.1 584.5 157.4 587.5 156.9 589.5 157.6 592.9 159.8 593.8 161.8 594.1 164.3 594 165.8 590.4 170.3 588.5 171.3M589 172.4 586.5 172.5 582 170.5 580.5 170.5 578 171.4 576.5 170.7 575.3 168.8 574.8 165.8 573.5 162.8 573.6 159.8 574.4 158.3 576 157.3 579 156.2 587 155.6 588.5 156.1 593.9 159.3 594.7 160.3 594.9 161.3 595.2 165.8 595 167 593.2 170.3 591.7 171.3 589 172.4M589 173.4 585.5 173.4 582.9 171.8 581.5 171.5 580.3 171.8 578 173.5 577 173.3 576.4 172.8 573.3 169.3 570.9 164.3 571 161.8 572.1 159.3 573.2 157.8 575 156.4 577.5 155.2 582 154.8 586.5 153.9 588 154.4 591 156.7 595.2 158.8 596.1 160.3 596.1 163.8 597 167.3 596.9 168.3 595.8 170.3 594.5 171.6 589 173.4M579.5 175 578 175.1 576 174.3 571.5 170 569.7 165.3 569.6 162.8 570.1 160.3 571 158.8 572.5 157.1 576.5 154.4 578.5 153.7 581.2 153.3 585 151.7 587.5 151.8 589 152.8 591.5 155.7 596.6 157.8 597.8 158.8 598.1 160.3 597.4 163.8 599.1 166.8 599.1 168.3 595.9 171.8 593.5 173.2 590 174.2 586.5 174.6 584.5 174.4 582 173.4 581.5 173.5 579.5 175M580.5 176.3 578 176.2 575.6 175.3 570 170.8 569.3 169.3 568.5 166.3 568.9 160.3 569.5 158.8 570.5 157.5 575.5 153.7 582.7 150.3 585 149.6 586.5 149.6 589.5 150.9 593 154.3 598 156.6 598.8 157.3 599.5 158.8 600 162.8 601.1 166.3 601.2 168.3 600.2 169.8 595.5 173.2 592 174.9 590 175.4 580.5 176.3M585.5 177.3 582 177.6 579.5 177.4 576.5 176.7 573.5 175.3 570 172.7 568.7 171.3 567.5 168.8 567.1 165.8 567.8 159.3 568.5 157.8 569.5 156.7 572 154.6 579.5 150.1 584 148.4 586 148.1 589.5 149.1 593 150.9 594.5 151.9 596.5 154 599.5 155.9 600.3 157.3 601.2 160.8 602.3 163.8 602.9 167.8 602.6 169.3 601.5 170.6 593.5 175.7 591 176.7 585.5 177.3M585 178.8 581.5 178.8 577.5 178 573.5 176.5 571 175 568.5 173 566.9 170.8 565.8 167.8 565.5 164.8 566.8 157.8 567.7 156.3 570 153.9 579.5 148.7 584 147.2 586.5 147 590.5 147.8 593.5 149 600.5 154.7 601.7 156.8 602.5 159.8 604.1 162.8 604.3 167.8 603.8 169.8 602.7 171.3 594.5 176.7 591.5 177.8 585 178.8M586.5 179.9 582.5 180 578 179.2 574 178 570.5 176.2 567.5 173.8 565.6 171.3 564.2 168.3 563.7 164.8 564.1 161.3 565.3 157.3 566.5 155.2 569 152.3 573 150 579 147.5 583 146.3 586 145.9 590 146.4 593.5 147.4 596.9 149.3 601 152.4 602.9 154.8 604.4 158.8 606 161.3 606.3 162.8 605.4 169.3 604.3 171.3 603 172.7 597.3 176.8 595 178 592 179 586.5 179.9M589.5 181.8 585 182.2 581 182 576 181 572 179.6 568.5 177.8 565.5 175.5 563.2 172.8 561.4 169.8 560.5 166.8 560.3 163.3 560.9 159.8 562.2 156.3 564.1 153.3 566.8 150.3 570.5 147.5 574 145.7 579 144.1 584 143.3 589 143.4 594 144.5 598.5 146.5 602.5 149.3 605.8 152.8 607.8 156.3 609.2 160.8 609.5 164.8 608.7 168.8 606.8 172.3 603.7 175.8 599.5 178.6 595 180.6 589.5 181.8M588.5 184.3 583.5 184.5 578 183.9 573 182.6 568 180.5 564 177.8 561 174.8 558.7 171.3 557.3 167.3 557 163.3 557.8 158.8 559.4 154.8 562 150.8 565.5 147.3 569.5 144.5 574.5 142 579.5 140.6 585 139.9 590.5 140.2 596 141.6 600.5 143.6 604.5 146.4 608.2 150.3 610.9 154.8 612.4 159.3 612.8 163.8 612.2 168.3 610.4 172.3 607.7 175.8 604 178.9 599.5 181.5 594 183.4 588.5 184.3M591 186.8 585 187.3 579 186.9 573 185.7 567.5 183.6 562.5 180.6 558.7 177.3 555.7 173.3 553.8 168.8 553.1 164.3 553.6 159.3 555.3 154.3 558 149.8 561.5 145.7 566 142 571 139.2 576.5 137 583 135.7 589 135.6 595 136.5 600.5 138.5 605.5 141.5 610 145.6 613.3 150.3 615.7 155.8 616.7 161.3 616.5 166.8 614.8 171.8 612.2 175.8 608 179.9 603 183.1 597 185.5 591 186.8" fill="none" stroke="#6a9fd8" stroke-width="0.7" stroke-opacity="1" clip-path="url(#cr)"/><path d="M592 87.8 591.5 87.9 591 87.5 590.7 85.3 591.3 83.3 591.8 82.8 592.5 82.6 593.6 83.3 594 84.8 593.5 86.3 592 87.8M591.5 120.4 589.5 120.5 587.9 119.3 585.3 113.8 585 111.8 585.5 108.3 586.5 105.6 588.5 102.9 591 100.7 592 101.1 593.5 103.3 594.6 105.3 594.9 106.8 594.6 116.3 593.4 118.8 591.5 120.4M591 93.4 590.5 93.4 589.5 92.8 588.8 91.3 589 83.3 589.3 81.8 589.9 80.8 591 80.1 592 80.1 593.9 80.8 595 81.7 595.5 82.8 595.6 84.3 594.5 87.9 592 92.2 591 93.4M591.5 121.8 589 121.8 587.9 121.3 586.8 120.3 584.4 114.3 584 111.8 584.5 107.8 585.5 104.6 588.4 99.8 590.5 95.1 591 94.6 591.5 94.6 594 95.6 594.9 96.3 595.1 97.3 594.7 100.8 596.6 105.3 597.1 107.8 596.2 111.8 596.3 116.3 596 117.8 593.5 120.7 591.5 121.8M592 122.9 590.5 123.1 588.5 122.9 587 122.3 585.8 121.3 585.2 120.3 583.5 114.3 583.2 112.3 583.6 107.8 584.4 104.3 585.1 102.3 586.9 99.3 587.4 97.8 587.4 96.3 586.6 92.8 587.5 87.3 587.9 81.8 588.5 80.4 589.5 79.3 591.5 78.6 593 79 595 80 596.1 80.8 596.7 81.8 596.8 83.8 595.6 89.8 595.9 90.8 597.2 92.8 597.7 94.3 597.7 96.8 596.6 100.8 598.1 105.8 598.4 107.8 597.4 112.8 597.6 117.3 597.3 118.8 595.5 120.9 592 122.9M592 123.9 590 124.1 588 123.8 586 123 584.6 121.8 583.9 120.3 582.5 112.3 582.7 107.8 583.4 103.8 585.6 97.8 585.1 93.8 586.4 87.3 586.8 81.8 587.5 80.3 588.7 78.8 590 77.9 591.5 77.5 593 77.8 596.2 79.3 597.5 80.3 598 81.3 598.1 82.8 597.2 87.8 597.5 89.3 598.6 91.3 599 92.8 599.1 96.3 598.3 101.3 599.4 107.8 598.3 112.8 598.5 117.8 598 119.8 597 121.3 595.9 122.3 594 123.3 592 123.9M592 124.9 589.5 125.1 587.5 124.7 585 123.5 583.7 122.3 582.8 120.3 581.7 112.3 582.1 104.8 582.7 101.8 583.9 98.3 583.9 93.8 585.1 88.8 586 81.8 586.9 79.8 588.1 78.3 590 76.9 591.5 76.5 593 76.7 597 78.3 599 79.9 599.5 81.8 598.7 87.3 600.2 90.3 600.4 91.8 600.3 96.8 599.8 101.8 600.3 107.8 599.2 112.8 599.3 117.3 599 119.3 598 121.5 596.5 123.2 595 124.1 592 124.9M592 125.8 589.5 126.2 587.5 125.7 584.5 124.3 582.5 122.3 581.7 120.3 581 115.8 580.8 108.3 581.2 103.3 582.4 98.3 582.8 94.3 584.1 89.3 585.4 81.3 586.4 79.3 588.1 77.3 590 76 592 75.5 597.5 77 599.6 78.3 600.8 79.8 601.3 81.3 600.9 84.8 601.2 86.3 602 86.9 604.5 87.8 604.9 88.3 604.5 89.3 602.5 91.3 601.8 93.3 601.6 98.3 601 102.8 601.2 107.3 600 112.8 599.9 117.8 599.3 120.3 598 122.8 596.5 124.2 595 125 592 125.8M592 126.8 590 127.2 588.5 127.1 584 125 581.5 122.3 580.1 118.3 579.7 104.3 581.2 98.3 581.8 94.3 583.1 89.8 584.6 81.3 585.9 78.8 587.5 76.9 589.5 75.4 591.5 74.6 593 74.6 599 75.6 603 79.2 604 79.8 605 79.3 606.5 76.7 607.5 75.7 609 75.2 610.5 75.4 611.4 76.3 611.7 77.3 611.8 80.3 611 81.8 608.5 84.3 608.4 85.3 608.8 88.3 608.1 90.3 607 91.5 604.5 93.2 603.8 94.3 603.6 97.8 602.4 102.3 602 107.3 600.8 112.3 600.4 118.3 599.8 120.8 598.5 123.2 597 124.8 595 125.9 592 126.8M591.5 127.9 589.5 128.3 588 128 585 126.7 583 125.3 580.1 121.8 578.9 119.3 578.4 117.3 578.5 109.8 578 104.3 580 98.4 580.8 94.3 582.2 89.8 583.9 81.3 585.1 78.8 586.7 76.8 589 74.9 591 73.8 599 73 603 74.4 606.5 72.6 610.5 71.5 612 71.4 613 72.3 613.7 73.8 615 81.3 614.9 82.8 612 85.8 610.4 91.3 607 95.9 604 101.6 602.9 107.3 601.6 112.3 600.8 119.3 599.7 122.3 598.4 124.3 596.5 126 591.5 127.9M591.5 128.9 589.5 129.3 588 129 585 127.8 583 126.6 581.2 124.8 578.1 120.8 576.8 118.3 576.1 116.3 576.2 108.3 575.1 103.8 575.6 102.8 577.5 100.6 578.5 98.8 581 90.3 583.1 81.3 584.4 78.8 585.8 76.8 588 74.8 590.5 73.1 598.5 70.8 602 70.8 603.5 70.5 609 68.7 612.5 66.4 614.2 66.3 616 67.8 617.3 70.8 617 75.3 617.8 80.3 617.5 82.8 616.5 84.7 614.2 87.8 611.9 92.8 607 99.2 605.5 101.8 602.5 111.6 601.4 119.3 600.1 122.8 598.7 124.8 597 126.4 595 127.5 591.5 128.9M591 130 588 130 583 127.8 575.5 120.3 573 117.3 572.1 115.8 571.3 112.3 570.1 109.3 567.2 104.3 566.8 101.8 567.2 99.8 568.5 97.6 570 96.5 571.5 96.7 575 98 576 98 577 97.1 579.5 91.2 581.7 83.3 582.8 80.3 585.4 76.3 589 73.1 591.5 71.7 597 69.5 602.5 68.2 608 66.3 612.5 63.8 614.5 63.4 616.7 63.8 618 64.5 619.2 65.8 620.7 68.3 621.3 69.8 621.3 71.8 620.7 75.3 620.7 78.8 620.1 80.8 618.7 83.8 615.9 88.3 613.9 92.8 608.4 99.8 606.5 103 603.5 110.8 601.8 119.8 600.3 123.3 598.9 125.3 597 127.1 594.5 128.5 591 130M590.5 130.9 587.5 130.8 583.5 129.3 581.3 127.8 577 123.8 575 122.7 570.8 121.3 568.8 119.8 567.5 118.3 566 115.5 565.1 112.8 564.2 102.3 564.3 99.8 565.5 95.8 566.1 91.8 568 89.5 569.5 88.7 570.5 88.6 571.5 88.8 572.5 89.6 574.5 92.3 575 92.7 576 92.3 577.5 90.5 579 87.9 581.8 80.8 583.8 77.3 587 73.8 591.5 70.5 596 68.4 602.5 66.3 613 61.7 616 61.3 619 61.8 620.5 62.7 622 64.3 623.5 66.5 624.1 68.3 623.9 74.3 622.4 80.3 618 87.7 615.3 93.3 609 101.4 606.5 105.6 604 111.8 602.2 120.3 600.3 124.3 598.5 126.5 596.5 128.2 593 130.1 590.5 130.9M591.5 131.4 588.5 131.8 585 131 582 129.6 576 125.4 574 125.1 570.5 125.3 569 124.8 567.5 123.8 565.7 121.8 563.4 115.8 562.5 110.8 561.9 100.3 562.9 92.3 563.6 89.8 566 86.2 568.5 84.4 571 84.4 575.5 86.7 576.5 86.7 577.5 86.1 579 84.3 582.3 78.3 584.5 75.2 589 71 593 68.3 602.1 64.8 613.5 59.5 618.5 58.6 621.5 59.1 623.3 60.3 624.6 61.8 625.9 64.3 626.5 66.8 626.5 69.8 625.9 74.3 624 80.8 616.6 93.8 609.5 102.9 606.5 107.7 604.6 112.3 602.7 120.3 600.9 124.3 599 126.7 597 128.5 594.5 130.1 591.5 131.4M591 132.3 588.5 132.6 585.5 132.2 582.5 131 578 128.6 576 128 574 128 570.5 128.6 568.5 128.4 566.5 127.1 564.5 124.5 562.8 120.8 561.2 114.8 560.3 101.8 561.1 91.8 562 87.8 563 84.8 565.3 80.8 566.5 79.7 568 79.2 570.5 79.7 575.5 82.7 576.5 83 577.5 82.7 579.5 81 583.1 75.8 585.5 73 589.5 69.3 592.5 67.1 602 63.2 614 57.1 619.5 55.9 621.5 56 623 56.5 625.3 57.8 626.7 59.3 627.9 61.8 628.6 65.3 628.5 68.8 627.6 73.8 625.3 81.3 623.5 84.8 617.8 94.3 610 104.2 607 108.7 605.2 112.8 602.9 121.3 600.8 125.3 599 127.5 596.5 129.6 594 131.1 591 132.3M590 133.3 588 133.5 585.5 133.2 579 130.8 577 130.4 575 130.6 571 131.5 568.5 131.4 567 130.8 565.5 129.7 563 126.2 561.2 121.8 559.7 115.3 559.3 111.3 558.9 101.3 559.2 95.3 560 89.3 561 84.8 562.5 80.6 563.7 78.3 565 76.7 566.5 75.6 568 75.2 569.5 75.4 571 76.1 576 79.6 578 79.8 580 78.3 584.1 73.3 588.5 68.8 591 66.7 593.5 65.1 602.5 61.3 611.5 56.2 615 54.7 618.5 53.8 621 53.5 623 53.7 625 54.4 627.3 55.8 629 57.8 630.1 60.8 630.6 64.3 630.3 68.3 629.3 73.3 628.2 77.3 626.3 82.3 623.9 86.8 618.9 94.8 615.6 99.3 610 106.1 607.5 109.7 606 112.9 603.2 121.8 601 125.8 598.9 128.3 596 130.7 593 132.4 590 133.3M589.5 134.3 585.5 134.3 578 132.4 576 132.6 571 134.1 568 134.1 566 133.1 564.5 131.8 561.8 127.8 559.9 122.8 558.4 115.8 557.9 110.8 557.7 100.8 558 93.8 559 86.8 560.3 81.8 561.9 77.3 563.5 74.6 565 73 567 71.8 568.5 71.5 571 72.4 576.2 76.8 577.5 77.3 578.5 77.2 580.5 75.9 589.5 66.5 594 63.4 602 60 611.5 54.5 616 52.6 619.5 51.7 622 51.4 624.5 51.6 626.7 52.3 629.1 53.8 631 56.3 632 59.3 632.4 62.8 632.2 66.8 631.3 71.8 629.8 76.8 627.6 82.3 624.7 87.8 620.3 94.8 608 110.6 606.4 113.8 603.8 121.8 601.3 126.3 599 128.9 596 131.4 592.5 133.4 589.5 134.3M571.5 136.4 569 136.7 566.5 136.2 564.5 134.8 562.5 132.5 560.7 129.3 559.3 125.8 558.3 121.8 557.3 116.3 556.8 110.8 556.5 102.3 557.2 90.8 558.1 84.8 559.4 79.8 561 75.3 562.6 72.3 564 70.5 565.5 69.2 567 68.5 569 68.4 571.5 69.5 577 74.5 578 74.8 579.5 74.6 581.5 73.3 588.5 66.1 592 63.2 595 61.5 602.5 58.2 613 52.2 618 50.2 622.5 49.3 626.5 49.7 629.5 50.9 631.5 52.7 632.8 54.8 633.6 57.3 634.2 60.8 634.1 64.3 633.6 67.8 631.1 76.8 627.4 85.3 622.3 93.8 618 99.8 610.5 108.8 608 112.4 606.5 115.6 604.3 121.8 602.2 125.8 599.8 128.8 597 131.3 593.5 133.7 590.5 135 586.5 135.6 580 134.4 578 134.3 571.5 136.4M570.5 138.9 568 139 565.5 138.2 563.5 136.6 561.3 133.8 559.6 130.3 558.1 126.3 557.1 121.8 556.2 115.8 555.7 109.3 555.5 101.3 555.7 94.8 556.4 88.3 557.3 82.8 558.9 76.8 560.5 72.6 562.4 69.3 564 67.3 565.5 66.1 567 65.5 569 65.4 570.5 65.9 572 66.9 577.5 72.2 578.5 72.6 580 72.5 582.5 70.8 589 64.3 592.5 61.6 602.4 56.8 614.5 49.9 619.5 48.1 624 47.3 628 47.7 631 49.1 633 50.9 634.5 53.3 635.3 55.8 635.8 59.3 635.7 63.3 635.2 67.3 632.6 76.3 628.6 85.3 623.3 94.3 618.2 101.3 610.5 110.4 608.5 113.2 607 116.2 604.6 122.3 602.4 126.3 600.5 128.8 597.5 131.7 594 134.2 591 135.7 588.5 136.5 586.5 136.7 580.5 136 578.5 136.1 570.5 138.9" fill="none" stroke="#62bfd2" stroke-width="0.6" stroke-opacity="0.8" clip-path="url(#cr)"/><path d="M529 114.5h1M531 126.5h1M532 109.5h1M533 103.5h1M534 106.5h1M536 107.5h1M538 105.5h1M539 108.5h1M539 124.5h1M540 99.5h1M541 104.5h1M541 119.5h1M541 123.5h1M542 107.5h1M543 105.5h1M543 106.5h1M545 95.5h1M545 107.5h1M545 112.5h1M545 120.5h1M546 105.5h1M547 107.5h1M550 103.5h1M550 108.5h1M555 107.5h1" stroke="#7cc25a" stroke-width="1.0" stroke-opacity="0.9" clip-path="url(#cr)"/><path d="M6 395.5h1M13 396.5h1M14 383.5h1M16 394.5h1M17 383.5h1M17 406.5h1M21 382.5h1M23 338.5h1M26 377.5h1M27 388.5h1M28 387.5h1M28 388.5h1M30 381.5h1M30 382.5h1M31 375.5h1M31 377.5h1M32 388.5h1M32 392.5h1M33 380.5h1M33 381.5h1M34 367.5h1M34 368.5h1M34 372.5h1M34 373.5h1M34 379.5h1M34 384.5h1M35 387.5h1M36 367.5h1M36 382.5h1M36 388.5h1M37 372.5h1M37 377.5h1M37 384.5h1M37 393.5h1M38 348.5h1M38 368.5h1M38 370.5h1M38 373.5h1M38 374.5h1M38 382.5h1M39 366.5h1M39 369.5h1M39 378.5h1M39 382.5h1M39 387.5h1M39 390.5h1M39 391.5h1M40 375.5h1M41 366.5h1M41 388.5h1M42 321.5h1M42 349.5h1M42 372.5h1M42 374.5h1M43 343.5h1M43 364.5h1M43 384.5h1M43 390.5h1M44 344.5h1M44 363.5h1M44 367.5h1M44 368.5h1M44 371.5h1M44 386.5h1M46 370.5h1M46 385.5h1M46 389.5h1M47 346.5h1M47 356.5h1M47 403.5h1M48 348.5h1M48 359.5h1M48 365.5h1M49 388.5h1M50 351.5h1M50 358.5h1M50 361.5h1M50 394.5h1M51 337.5h1M51 370.5h1M51 392.5h1M51 394.5h1M52 315.5h1M52 322.5h1M52 363.5h1M52 367.5h1M53 327.5h1M53 345.5h1M53 346.5h1M53 407.5h1M54 296.5h1M55 337.5h1M55 365.5h1M55 368.5h1M56 314.5h1M56 335.5h1M56 338.5h1M56 361.5h1M56 366.5h1M56 367.5h1M56 392.5h1M57 360.5h1M57 362.5h1M57 392.5h1M58 316.5h1M58 344.5h1M58 345.5h1M58 404.5h1M59 349.5h1M59 351.5h1M59 360.5h1M59 364.5h1M59 367.5h1M59 391.5h1M59 395.5h1M59 411.5h1M60 335.5h1M61 328.5h1M61 337.5h1M61 360.5h1M61 394.5h1M61 397.5h1M62 331.5h1M62 398.5h1M63 343.5h1M63 348.5h1M63 350.5h1M63 353.5h1M63 362.5h1M63 365.5h1M63 397.5h1M63 401.5h1M65 340.5h1M65 398.5h1M66 325.5h1M66 327.5h1M66 353.5h1M67 330.5h1M67 343.5h1M67 346.5h1M67 393.5h1M68 330.5h1M68 334.5h1M68 338.5h1M68 340.5h1M69 349.5h1M69 352.5h1M70 327.5h1M70 335.5h1M70 352.5h1M70 355.5h1M70 394.5h1M71 304.5h1M71 340.5h1M71 341.5h1M71 348.5h1M72 326.5h1M72 338.5h1M72 348.5h1M73 326.5h1M73 334.5h1M73 357.5h1M73 393.5h1M74 334.5h1M74 337.5h1M74 341.5h1M74 394.5h1M75 329.5h1M75 342.5h1M75 345.5h1M76 325.5h1M77 331.5h1M77 344.5h1M77 399.5h1M78 338.5h1M78 395.5h1M78 397.5h1M79 319.5h1M79 332.5h1M79 335.5h1M79 396.5h1M79 400.5h1M80 345.5h1M81 313.5h1M81 338.5h1M81 396.5h1M82 323.5h1M82 399.5h1M83 323.5h1M83 396.5h1M84 300.5h1M84 327.5h1M84 342.5h1M84 398.5h1M85 310.5h1M85 395.5h1M85 400.5h1M86 314.5h1M86 327.5h1M86 331.5h1M87 325.5h1M88 316.5h1M88 323.5h1M88 329.5h1M91 329.5h1M92 323.5h1M94 321.5h1M94 324.5h1M94 397.5h1M95 316.5h1M95 324.5h1M95 328.5h1M95 329.5h1M95 398.5h1M96 400.5h1M97 295.5h1M98 306.5h1M98 309.5h1M98 328.5h1M99 396.5h1M100 317.5h1M100 328.5h1M101 310.5h1M101 323.5h1M102 303.5h1M102 317.5h1M102 320.5h1M102 394.5h1M103 317.5h1M104 303.5h1M104 309.5h1M106 309.5h1M107 306.5h1M107 312.5h1M108 299.5h1M108 309.5h1M108 396.5h1M109 313.5h1M110 307.5h1M110 391.5h1M111 393.5h1M111 398.5h1M112 311.5h1M112 314.5h1M115 309.5h1M116 297.5h1M116 301.5h1M116 306.5h1M116 308.5h1M116 313.5h1M116 393.5h1M117 393.5h1M117 395.5h1M118 301.5h1M118 308.5h1M119 304.5h1M120 305.5h1M120 309.5h1M120 391.5h1M121 303.5h1M121 309.5h1M121 310.5h1M122 308.5h1M122 389.5h1M123 303.5h1M124 311.5h1M125 302.5h1M125 310.5h1M125 311.5h1M126 295.5h1M126 304.5h1M126 306.5h1M127 316.5h1M127 317.5h1M127 387.5h1M127 388.5h1M128 291.5h1M128 307.5h1M128 309.5h1M128 313.5h1M128 392.5h1M129 302.5h1M129 390.5h1M130 310.5h1M130 311.5h1M130 318.5h1M130 391.5h1M131 314.5h1M131 319.5h1M132 315.5h1M132 374.5h1M132 375.5h1M132 378.5h1M132 379.5h1M132 383.5h1M132 384.5h1M133 293.5h1M133 316.5h1M133 326.5h1M133 363.5h1M133 390.5h1M134 310.5h1M134 315.5h1M134 319.5h1M134 330.5h1M134 370.5h1M134 374.5h1M134 390.5h1M135 298.5h1M135 309.5h1M135 311.5h1M135 373.5h1M135 377.5h1M135 388.5h1M136 311.5h1M136 316.5h1M136 345.5h1M136 354.5h1M136 363.5h1M136 366.5h1M136 380.5h1M137 300.5h1M137 307.5h1M137 314.5h1M137 316.5h1M137 320.5h1M137 323.5h1M137 328.5h1M137 331.5h1M137 344.5h1M137 346.5h1M137 351.5h1M137 352.5h1M137 358.5h1M137 391.5h1M138 323.5h1M138 326.5h1M138 332.5h1M138 337.5h1M138 351.5h1M138 355.5h1M138 358.5h1M138 369.5h1M139 316.5h1M139 317.5h1M139 329.5h1M139 333.5h1M139 338.5h1M139 339.5h1M139 361.5h1M140 320.5h1M140 321.5h1M140 323.5h1M140 340.5h1M140 342.5h1M140 344.5h1M140 347.5h1M140 352.5h1M140 369.5h1M140 373.5h1M140 377.5h1M140 392.5h1M141 315.5h1M141 328.5h1M141 342.5h1M141 343.5h1M141 349.5h1M141 351.5h1M141 356.5h1M141 375.5h1M141 381.5h1M141 387.5h1M142 335.5h1M142 347.5h1M142 356.5h1M142 370.5h1M142 381.5h1M143 329.5h1M143 336.5h1M143 395.5h1M144 342.5h1M144 354.5h1M144 356.5h1M144 373.5h1M145 306.5h1M145 327.5h1M146 325.5h1M146 329.5h1M148 337.5h1M148 355.5h1M149 317.5h1M149 334.5h1M150 328.5h1M150 362.5h1M150 385.5h1M151 329.5h1M153 374.5h1M154 315.5h1M154 333.5h1M155 354.5h1M159 369.5h1M165 315.5h1M177 351.5h1" stroke="#97d68b" stroke-width="1.0" stroke-opacity="1.0" clip-path="url(#cc)"/><path d="M33 379.5h1M35 381.5h1M40 379.5h1M41 378.5h1M41 379.5h1M42 378.5h1M42 381.5h1M43 374.5h1M43 378.5h1M43 380.5h1M43 382.5h1M44 378.5h1M44 380.5h1M45 373.5h1M45 375.5h1M45 376.5h1M45 381.5h1M45 384.5h1M45 388.5h1M45 389.5h1M45 390.5h1M46 373.5h1M46 377.5h1M47 374.5h1M47 377.5h1M47 381.5h1M47 382.5h1M47 386.5h1M47 388.5h1M48 372.5h1M48 377.5h1M48 382.5h1M48 385.5h1M49 373.5h1M49 375.5h1M49 377.5h1M49 385.5h1M50 372.5h1M50 373.5h1M50 374.5h1M50 377.5h1M50 378.5h1M51 372.5h1M51 376.5h1M51 385.5h1M51 386.5h1M51 387.5h1M52 372.5h1M52 375.5h1M52 379.5h1M52 385.5h1M53 380.5h1M53 388.5h1M53 390.5h1M54 367.5h1M54 373.5h1M54 375.5h1M54 376.5h1M54 379.5h1M54 380.5h1M54 391.5h1M55 372.5h1M55 384.5h1M55 388.5h1M55 391.5h1M56 384.5h1M56 387.5h1M56 388.5h1M56 389.5h1M57 371.5h1M57 372.5h1M57 387.5h1M57 389.5h1M59 369.5h1M59 370.5h1M59 371.5h1M59 385.5h1M59 388.5h1M60 386.5h1M60 388.5h1M61 359.5h1M61 367.5h1M61 370.5h1M61 390.5h1M62 357.5h1M62 359.5h1M62 368.5h1M62 369.5h1M62 389.5h1M63 354.5h1M63 356.5h1M63 357.5h1M64 354.5h1M64 356.5h1M64 360.5h1M64 367.5h1M64 368.5h1M64 372.5h1M64 385.5h1M64 386.5h1M65 356.5h1M65 358.5h1M65 361.5h1M65 363.5h1M65 368.5h1M65 389.5h1M65 390.5h1M65 391.5h1M65 392.5h1M66 359.5h1M66 361.5h1M66 365.5h1M66 390.5h1M67 360.5h1M67 361.5h1M67 362.5h1M67 366.5h1M68 358.5h1M68 359.5h1M68 364.5h1M68 390.5h1M68 396.5h1M68 397.5h1M68 398.5h1M69 354.5h1M69 358.5h1M69 361.5h1M69 364.5h1M69 365.5h1M69 366.5h1M69 389.5h1M69 396.5h1M70 356.5h1M70 358.5h1M70 363.5h1M70 365.5h1M70 397.5h1M70 398.5h1M71 355.5h1M71 360.5h1M71 361.5h1M71 366.5h1M71 390.5h1M72 359.5h1M72 361.5h1M72 390.5h1M72 391.5h1M72 392.5h1M73 347.5h1M73 348.5h1M73 352.5h1M73 353.5h1M73 354.5h1M73 366.5h1M74 349.5h1M74 351.5h1M74 352.5h1M75 336.5h1M75 349.5h1M75 352.5h1M75 358.5h1M76 336.5h1M76 337.5h1M76 348.5h1M76 349.5h1M76 352.5h1M76 392.5h1M77 349.5h1M77 353.5h1M77 355.5h1M77 356.5h1M77 359.5h1M78 337.5h1M78 355.5h1M78 356.5h1M78 357.5h1M78 393.5h1M79 329.5h1M79 331.5h1M79 343.5h1M79 349.5h1M79 353.5h1M79 356.5h1M80 329.5h1M80 333.5h1M80 338.5h1M80 342.5h1M80 349.5h1M80 350.5h1M80 351.5h1M80 353.5h1M80 358.5h1M80 359.5h1M80 393.5h1M81 328.5h1M81 329.5h1M81 330.5h1M81 336.5h1M81 341.5h1M81 342.5h1M81 343.5h1M81 346.5h1M81 348.5h1M81 354.5h1M81 357.5h1M81 359.5h1M82 331.5h1M82 335.5h1M82 337.5h1M82 339.5h1M82 343.5h1M82 354.5h1M82 360.5h1M83 329.5h1M83 331.5h1M83 334.5h1M83 344.5h1M83 345.5h1M83 346.5h1M83 354.5h1M83 360.5h1M83 393.5h1M84 333.5h1M84 334.5h1M84 336.5h1M84 338.5h1M84 339.5h1M85 333.5h1M85 393.5h1M86 337.5h1M86 338.5h1M86 342.5h1M86 345.5h1M86 351.5h1M86 354.5h1M86 362.5h1M86 394.5h1M87 334.5h1M87 335.5h1M87 338.5h1M87 340.5h1M87 341.5h1M87 343.5h1M87 345.5h1M87 351.5h1M87 354.5h1M88 332.5h1M88 335.5h1M88 337.5h1M88 339.5h1M88 340.5h1M88 342.5h1M88 344.5h1M88 394.5h1M89 332.5h1M89 333.5h1M89 336.5h1M89 395.5h1M90 332.5h1M90 343.5h1M90 345.5h1M90 347.5h1M90 394.5h1M91 330.5h1M91 331.5h1M91 332.5h1M91 333.5h1M91 336.5h1M91 340.5h1M91 341.5h1M91 344.5h1M91 345.5h1M91 395.5h1M92 332.5h1M92 335.5h1M92 340.5h1M93 331.5h1M93 336.5h1M93 337.5h1M93 338.5h1M93 345.5h1M93 346.5h1M93 393.5h1M94 333.5h1M94 335.5h1M94 339.5h1M94 342.5h1M94 343.5h1M94 346.5h1M95 334.5h1M95 338.5h1M95 339.5h1M95 393.5h1M96 331.5h1M96 333.5h1M96 334.5h1M96 338.5h1M96 342.5h1M96 343.5h1M96 346.5h1M96 394.5h1M97 320.5h1M97 321.5h1M97 330.5h1M97 333.5h1M97 336.5h1M97 337.5h1M97 341.5h1M97 343.5h1M97 393.5h1M98 320.5h1M98 322.5h1M98 332.5h1M98 334.5h1M98 338.5h1M98 339.5h1M98 360.5h1M98 363.5h1M99 319.5h1M99 321.5h1M99 332.5h1M99 334.5h1M99 342.5h1M99 360.5h1M100 322.5h1M100 331.5h1M100 342.5h1M100 362.5h1M100 363.5h1M101 321.5h1M101 331.5h1M101 361.5h1M101 363.5h1M101 393.5h1M102 328.5h1M102 331.5h1M102 342.5h1M102 343.5h1M102 393.5h1M103 324.5h1M103 331.5h1M103 361.5h1M104 317.5h1M104 320.5h1M104 321.5h1M104 323.5h1M104 324.5h1M104 325.5h1M104 327.5h1M104 328.5h1M104 329.5h1M104 330.5h1M104 331.5h1M104 360.5h1M105 319.5h1M105 324.5h1M105 325.5h1M105 334.5h1M105 349.5h1M105 351.5h1M105 357.5h1M105 392.5h1M106 316.5h1M106 318.5h1M106 322.5h1M106 329.5h1M106 354.5h1M106 358.5h1M106 361.5h1M107 314.5h1M107 318.5h1M107 322.5h1M107 325.5h1M107 328.5h1M107 330.5h1M107 332.5h1M107 352.5h1M107 361.5h1M107 390.5h1M108 314.5h1M108 316.5h1M108 319.5h1M108 322.5h1M108 329.5h1M108 332.5h1M108 349.5h1M108 350.5h1M108 362.5h1M109 322.5h1M109 329.5h1M109 361.5h1M110 308.5h1M110 310.5h1M110 325.5h1M111 309.5h1M111 315.5h1M111 318.5h1M111 321.5h1M111 322.5h1M111 325.5h1M111 362.5h1M111 388.5h1M111 390.5h1M112 308.5h1M112 310.5h1M112 316.5h1M112 317.5h1M112 356.5h1M112 359.5h1M112 360.5h1M112 387.5h1M113 317.5h1M113 319.5h1M113 322.5h1M113 323.5h1M113 356.5h1M113 363.5h1M113 390.5h1M114 320.5h1M114 324.5h1M114 325.5h1M114 361.5h1M114 362.5h1M114 389.5h1M115 317.5h1M115 319.5h1M115 359.5h1M115 386.5h1M115 387.5h1M115 388.5h1M116 311.5h1M116 317.5h1M116 321.5h1M116 322.5h1M116 323.5h1M116 362.5h1M116 391.5h1M117 310.5h1M117 311.5h1M117 316.5h1M117 317.5h1M117 318.5h1M117 322.5h1M117 359.5h1M117 389.5h1M118 312.5h1M118 318.5h1M118 321.5h1M118 322.5h1M118 323.5h1M118 359.5h1M118 383.5h1M118 384.5h1M118 388.5h1M118 390.5h1M119 319.5h1M119 324.5h1M119 381.5h1M119 388.5h1M119 389.5h1M120 314.5h1M120 315.5h1M120 317.5h1M120 318.5h1M120 324.5h1M120 386.5h1M121 313.5h1M121 316.5h1M121 320.5h1M121 384.5h1M121 385.5h1M121 386.5h1M122 313.5h1M122 314.5h1M122 322.5h1M122 380.5h1M122 381.5h1M122 383.5h1M123 313.5h1M123 316.5h1M123 317.5h1M123 318.5h1M123 321.5h1M123 322.5h1M123 356.5h1M123 384.5h1M123 386.5h1M123 387.5h1M124 314.5h1M124 315.5h1M124 317.5h1M124 318.5h1M124 319.5h1M124 322.5h1M124 358.5h1M124 384.5h1M124 386.5h1M125 347.5h1M125 358.5h1M125 361.5h1M125 383.5h1M125 387.5h1M126 314.5h1M126 321.5h1M126 332.5h1M126 354.5h1M126 355.5h1M126 357.5h1M126 375.5h1M126 383.5h1M126 384.5h1M127 313.5h1M127 321.5h1M127 326.5h1M127 354.5h1M127 355.5h1M127 356.5h1M127 358.5h1M127 383.5h1M127 386.5h1M128 315.5h1M128 320.5h1M128 321.5h1M128 322.5h1M128 323.5h1M128 325.5h1M128 328.5h1M128 349.5h1M128 353.5h1M128 354.5h1M128 358.5h1M128 359.5h1M128 360.5h1M128 374.5h1M128 375.5h1M128 378.5h1M128 379.5h1M128 380.5h1M128 382.5h1M129 324.5h1M129 327.5h1M129 331.5h1M129 346.5h1M129 349.5h1M129 352.5h1M129 355.5h1M129 360.5h1M129 362.5h1M129 363.5h1M129 373.5h1M129 375.5h1M129 376.5h1M129 378.5h1M129 379.5h1M129 384.5h1M129 385.5h1M130 319.5h1M130 325.5h1M130 327.5h1M130 330.5h1M130 333.5h1M130 339.5h1M130 346.5h1M130 352.5h1M130 359.5h1M130 360.5h1M130 364.5h1M130 366.5h1M130 383.5h1M131 317.5h1M131 322.5h1M131 323.5h1M131 325.5h1M131 327.5h1M131 329.5h1M131 331.5h1M131 336.5h1M131 339.5h1M131 342.5h1M131 351.5h1M131 355.5h1M131 356.5h1M131 359.5h1M131 366.5h1M131 369.5h1M131 370.5h1M131 371.5h1M131 379.5h1M132 322.5h1M132 330.5h1M132 333.5h1M132 336.5h1M132 337.5h1M132 338.5h1M132 342.5h1M132 345.5h1M132 346.5h1M132 349.5h1M132 351.5h1M132 352.5h1M132 355.5h1M132 356.5h1M132 363.5h1M132 366.5h1M132 371.5h1M132 377.5h1M133 321.5h1M133 325.5h1M133 334.5h1M133 345.5h1M133 346.5h1M133 352.5h1M133 353.5h1M133 355.5h1M133 357.5h1M133 365.5h1M133 368.5h1M134 321.5h1M134 322.5h1M134 324.5h1M134 333.5h1M134 334.5h1M134 338.5h1M134 343.5h1M134 348.5h1M134 349.5h1M134 356.5h1M134 358.5h1M134 359.5h1M134 378.5h1M135 323.5h1M135 332.5h1M135 335.5h1M135 336.5h1M135 337.5h1M135 338.5h1M135 339.5h1M135 341.5h1M135 342.5h1M135 347.5h1M135 348.5h1M135 361.5h1M135 367.5h1M135 368.5h1M135 369.5h1M135 375.5h1M136 335.5h1M136 340.5h1M136 341.5h1M136 342.5h1M136 350.5h1M136 359.5h1M137 334.5h1M137 336.5h1M137 341.5h1M137 363.5h1M137 364.5h1M137 368.5h1M137 373.5h1M137 375.5h1M138 363.5h1M138 371.5h1M138 373.5h1M139 362.5h1M139 363.5h1M139 372.5h1M140 370.5h1" stroke="#68c258" stroke-width="1.0" stroke-opacity="1.0" clip-path="url(#cc)"/><path d="M45 380.5h1M46 378.5h1M46 380.5h1M47 379.5h1M47 380.5h1M48 378.5h1M49 378.5h1M49 380.5h1M49 381.5h1M49 383.5h1M50 381.5h1M50 383.5h1M51 379.5h1M51 381.5h1M51 382.5h1M52 381.5h1M52 382.5h1M52 383.5h1M53 374.5h1M53 381.5h1M53 385.5h1M54 374.5h1M54 383.5h1M54 384.5h1M54 386.5h1M55 375.5h1M55 376.5h1M55 383.5h1M55 387.5h1M55 389.5h1M56 373.5h1M56 375.5h1M56 378.5h1M56 381.5h1M56 383.5h1M56 385.5h1M57 374.5h1M57 375.5h1M57 376.5h1M57 378.5h1M57 380.5h1M57 381.5h1M57 382.5h1M57 383.5h1M58 373.5h1M58 375.5h1M58 376.5h1M58 377.5h1M58 378.5h1M58 379.5h1M58 380.5h1M58 383.5h1M59 373.5h1M59 374.5h1M59 378.5h1M59 379.5h1M59 380.5h1M59 381.5h1M59 382.5h1M60 373.5h1M60 374.5h1M60 375.5h1M60 377.5h1M60 380.5h1M60 381.5h1M60 382.5h1M60 383.5h1M61 373.5h1M61 375.5h1M61 378.5h1M61 383.5h1M61 384.5h1M61 385.5h1M61 386.5h1M61 387.5h1M62 373.5h1M62 375.5h1M62 376.5h1M62 377.5h1M62 378.5h1M62 380.5h1M62 381.5h1M62 383.5h1M62 387.5h1M63 369.5h1M63 370.5h1M63 371.5h1M63 374.5h1M63 375.5h1M63 376.5h1M63 377.5h1M63 379.5h1M63 380.5h1M63 381.5h1M63 382.5h1M63 385.5h1M63 386.5h1M63 388.5h1M64 370.5h1M64 375.5h1M64 376.5h1M64 380.5h1M64 381.5h1M64 382.5h1M64 383.5h1M64 384.5h1M65 369.5h1M65 372.5h1M65 373.5h1M65 374.5h1M65 375.5h1M65 376.5h1M65 377.5h1M65 378.5h1M65 380.5h1M65 382.5h1M65 383.5h1M65 386.5h1M65 388.5h1M66 368.5h1M66 371.5h1M66 374.5h1M66 375.5h1M66 377.5h1M66 378.5h1M66 379.5h1M66 380.5h1M66 381.5h1M66 382.5h1M66 385.5h1M66 388.5h1M67 369.5h1M67 370.5h1M67 371.5h1M67 373.5h1M67 375.5h1M67 376.5h1M67 377.5h1M67 380.5h1M67 381.5h1M67 382.5h1M67 383.5h1M67 384.5h1M67 385.5h1M67 386.5h1M67 388.5h1M67 390.5h1M68 367.5h1M68 368.5h1M68 370.5h1M68 371.5h1M68 374.5h1M68 375.5h1M68 376.5h1M68 377.5h1M68 378.5h1M68 379.5h1M68 380.5h1M68 381.5h1M68 382.5h1M68 383.5h1M68 384.5h1M68 385.5h1M68 386.5h1M68 387.5h1M69 368.5h1M69 369.5h1M69 372.5h1M69 373.5h1M69 374.5h1M69 375.5h1M69 377.5h1M69 378.5h1M69 379.5h1M69 381.5h1M69 382.5h1M69 383.5h1M69 384.5h1M69 385.5h1M69 386.5h1M69 388.5h1M70 368.5h1M70 369.5h1M70 370.5h1M70 374.5h1M70 375.5h1M70 376.5h1M70 377.5h1M70 379.5h1M70 380.5h1M70 381.5h1M70 382.5h1M70 383.5h1M70 385.5h1M70 386.5h1M71 371.5h1M71 372.5h1M71 373.5h1M71 374.5h1M71 375.5h1M71 376.5h1M71 377.5h1M71 378.5h1M71 379.5h1M71 380.5h1M71 381.5h1M71 382.5h1M71 388.5h1M72 367.5h1M72 369.5h1M72 370.5h1M72 371.5h1M72 372.5h1M72 373.5h1M72 374.5h1M72 375.5h1M72 376.5h1M72 377.5h1M72 378.5h1M72 379.5h1M72 380.5h1M72 381.5h1M72 383.5h1M72 384.5h1M72 385.5h1M72 386.5h1M72 387.5h1M72 388.5h1M73 360.5h1M73 361.5h1M73 368.5h1M73 370.5h1M73 373.5h1M73 374.5h1M73 375.5h1M73 376.5h1M73 377.5h1M73 378.5h1M73 379.5h1M73 380.5h1M73 381.5h1M73 382.5h1M73 383.5h1M73 384.5h1M73 386.5h1M73 387.5h1M73 388.5h1M73 389.5h1M73 390.5h1M74 360.5h1M74 361.5h1M74 362.5h1M74 363.5h1M74 365.5h1M74 366.5h1M74 367.5h1M74 369.5h1M74 370.5h1M74 371.5h1M74 373.5h1M74 374.5h1M74 376.5h1M74 377.5h1M74 378.5h1M74 379.5h1M74 380.5h1M74 382.5h1M74 383.5h1M74 384.5h1M74 385.5h1M74 386.5h1M74 389.5h1M75 360.5h1M75 362.5h1M75 363.5h1M75 365.5h1M75 366.5h1M75 367.5h1M75 368.5h1M75 370.5h1M75 371.5h1M75 373.5h1M75 374.5h1M75 375.5h1M75 376.5h1M75 378.5h1M75 379.5h1M75 380.5h1M75 381.5h1M75 382.5h1M75 383.5h1M75 385.5h1M75 386.5h1M75 387.5h1M75 388.5h1M75 389.5h1M75 390.5h1M76 350.5h1M76 360.5h1M76 362.5h1M76 363.5h1M76 365.5h1M76 367.5h1M76 369.5h1M76 370.5h1M76 372.5h1M76 373.5h1M76 374.5h1M76 375.5h1M76 376.5h1M76 377.5h1M76 378.5h1M76 379.5h1M76 380.5h1M76 381.5h1M76 382.5h1M76 383.5h1M76 385.5h1M76 386.5h1M76 387.5h1M76 388.5h1M76 389.5h1M77 350.5h1M77 351.5h1M77 358.5h1M77 360.5h1M77 362.5h1M77 363.5h1M77 366.5h1M77 367.5h1M77 368.5h1M77 371.5h1M77 372.5h1M77 373.5h1M77 374.5h1M77 375.5h1M77 376.5h1M77 377.5h1M77 378.5h1M77 379.5h1M77 380.5h1M77 381.5h1M77 382.5h1M77 383.5h1M77 384.5h1M77 385.5h1M77 386.5h1M77 387.5h1M77 389.5h1M77 390.5h1M78 349.5h1M78 351.5h1M78 362.5h1M78 363.5h1M78 364.5h1M78 365.5h1M78 366.5h1M78 367.5h1M78 368.5h1M78 369.5h1M78 370.5h1M78 371.5h1M78 372.5h1M78 373.5h1M78 374.5h1M78 375.5h1M78 376.5h1M78 377.5h1M78 378.5h1M78 379.5h1M78 380.5h1M78 381.5h1M78 382.5h1M78 383.5h1M78 384.5h1M78 385.5h1M78 386.5h1M78 387.5h1M78 388.5h1M78 389.5h1M78 391.5h1M79 358.5h1M79 360.5h1M79 362.5h1M79 363.5h1M79 364.5h1M79 366.5h1M79 367.5h1M79 368.5h1M79 369.5h1M79 371.5h1M79 374.5h1M79 375.5h1M79 376.5h1M79 377.5h1M79 378.5h1M79 379.5h1M79 380.5h1M79 381.5h1M79 382.5h1M79 383.5h1M79 384.5h1M79 385.5h1M79 386.5h1M79 387.5h1M79 389.5h1M79 390.5h1M79 391.5h1M80 364.5h1M80 368.5h1M80 369.5h1M80 370.5h1M80 372.5h1M80 373.5h1M80 375.5h1M80 376.5h1M80 377.5h1M80 378.5h1M80 379.5h1M80 380.5h1M80 381.5h1M80 382.5h1M80 383.5h1M80 384.5h1M80 385.5h1M80 386.5h1M80 387.5h1M80 388.5h1M80 390.5h1M80 391.5h1M81 351.5h1M81 361.5h1M81 362.5h1M81 366.5h1M81 367.5h1M81 369.5h1M81 371.5h1M81 372.5h1M81 374.5h1M81 375.5h1M81 376.5h1M81 377.5h1M81 378.5h1M81 379.5h1M81 380.5h1M81 381.5h1M81 382.5h1M81 383.5h1M81 384.5h1M81 385.5h1M81 386.5h1M81 387.5h1M81 389.5h1M81 390.5h1M81 391.5h1M82 348.5h1M82 350.5h1M82 352.5h1M82 363.5h1M82 364.5h1M82 365.5h1M82 366.5h1M82 367.5h1M82 368.5h1M82 370.5h1M82 372.5h1M82 373.5h1M82 375.5h1M82 376.5h1M82 377.5h1M82 378.5h1M82 379.5h1M82 380.5h1M82 381.5h1M82 382.5h1M82 383.5h1M82 384.5h1M82 385.5h1M82 386.5h1M82 387.5h1M82 388.5h1M82 389.5h1M82 390.5h1M82 391.5h1M83 348.5h1M83 349.5h1M83 350.5h1M83 351.5h1M83 352.5h1M83 353.5h1M83 355.5h1M83 356.5h1M83 357.5h1M83 359.5h1M83 363.5h1M83 364.5h1M83 365.5h1M83 366.5h1M83 367.5h1M83 368.5h1M83 370.5h1M83 371.5h1M83 372.5h1M83 373.5h1M83 374.5h1M83 375.5h1M83 376.5h1M83 377.5h1M83 378.5h1M83 379.5h1M83 380.5h1M83 381.5h1M83 382.5h1M83 383.5h1M83 384.5h1M83 385.5h1M83 386.5h1M83 387.5h1M83 388.5h1M83 389.5h1M83 390.5h1M83 391.5h1M83 392.5h1M84 348.5h1M84 349.5h1M84 350.5h1M84 353.5h1M84 354.5h1M84 357.5h1M84 358.5h1M84 359.5h1M84 361.5h1M84 364.5h1M84 365.5h1M84 366.5h1M84 367.5h1M84 368.5h1M84 369.5h1M84 370.5h1M84 371.5h1M84 372.5h1M84 373.5h1M84 374.5h1M84 375.5h1M84 376.5h1M84 377.5h1M84 378.5h1M84 379.5h1M84 380.5h1M84 381.5h1M84 382.5h1M84 383.5h1M84 384.5h1M84 385.5h1M84 386.5h1M84 387.5h1M84 388.5h1M84 389.5h1M84 390.5h1M85 347.5h1M85 348.5h1M85 351.5h1M85 356.5h1M85 357.5h1M85 358.5h1M85 360.5h1M85 363.5h1M85 365.5h1M85 368.5h1M85 369.5h1M85 370.5h1M85 371.5h1M85 372.5h1M85 373.5h1M85 374.5h1M85 375.5h1M85 376.5h1M85 377.5h1M85 378.5h1M85 379.5h1M85 380.5h1M85 381.5h1M85 382.5h1M85 383.5h1M85 384.5h1M85 385.5h1M85 386.5h1M85 387.5h1M85 388.5h1M85 389.5h1M85 391.5h1M85 392.5h1M86 340.5h1M86 346.5h1M86 347.5h1M86 348.5h1M86 349.5h1M86 352.5h1M86 355.5h1M86 357.5h1M86 358.5h1M86 359.5h1M86 360.5h1M86 364.5h1M86 365.5h1M86 366.5h1M86 367.5h1M86 369.5h1M86 371.5h1M86 372.5h1M86 373.5h1M86 374.5h1M86 375.5h1M86 376.5h1M86 377.5h1M86 378.5h1M86 379.5h1M86 380.5h1M86 381.5h1M86 382.5h1M86 383.5h1M86 384.5h1M86 386.5h1M86 387.5h1M86 388.5h1M86 389.5h1M86 390.5h1M86 391.5h1M87 346.5h1M87 348.5h1M87 357.5h1M87 359.5h1M87 365.5h1M87 367.5h1M87 368.5h1M87 369.5h1M87 370.5h1M87 371.5h1M87 372.5h1M87 373.5h1M87 374.5h1M87 375.5h1M87 376.5h1M87 377.5h1M87 378.5h1M87 379.5h1M87 380.5h1M87 381.5h1M87 382.5h1M87 383.5h1M87 384.5h1M87 385.5h1M87 386.5h1M87 387.5h1M87 388.5h1M87 389.5h1M87 390.5h1M87 391.5h1M88 347.5h1M88 348.5h1M88 351.5h1M88 352.5h1M88 353.5h1M88 355.5h1M88 356.5h1M88 359.5h1M88 362.5h1M88 364.5h1M88 365.5h1M88 366.5h1M88 368.5h1M88 369.5h1M88 370.5h1M88 371.5h1M88 372.5h1M88 373.5h1M88 374.5h1M88 375.5h1M88 376.5h1M88 377.5h1M88 378.5h1M88 379.5h1M88 380.5h1M88 381.5h1M88 382.5h1M88 383.5h1M88 384.5h1M88 385.5h1M88 386.5h1M88 387.5h1M88 388.5h1M88 389.5h1M88 390.5h1M88 391.5h1M88 392.5h1M89 342.5h1M89 347.5h1M89 348.5h1M89 350.5h1M89 351.5h1M89 355.5h1M89 358.5h1M89 359.5h1M89 361.5h1M89 362.5h1M89 363.5h1M89 366.5h1M89 368.5h1M89 370.5h1M89 371.5h1M89 372.5h1M89 373.5h1M89 374.5h1M89 375.5h1M89 376.5h1M89 377.5h1M89 378.5h1M89 379.5h1M89 380.5h1M89 381.5h1M89 382.5h1M89 383.5h1M89 384.5h1M89 385.5h1M89 386.5h1M89 387.5h1M89 388.5h1M89 389.5h1M89 390.5h1M89 392.5h1M90 349.5h1M90 350.5h1M90 352.5h1M90 354.5h1M90 356.5h1M90 357.5h1M90 359.5h1M90 360.5h1M90 361.5h1M90 362.5h1M90 364.5h1M90 365.5h1M90 368.5h1M90 369.5h1M90 370.5h1M90 371.5h1M90 372.5h1M90 373.5h1M90 374.5h1M90 375.5h1M90 376.5h1M90 377.5h1M90 378.5h1M90 379.5h1M90 380.5h1M90 381.5h1M90 382.5h1M90 383.5h1M90 384.5h1M90 385.5h1M90 386.5h1M90 387.5h1M90 388.5h1M90 390.5h1M90 391.5h1M90 393.5h1M91 334.5h1M91 343.5h1M91 346.5h1M91 348.5h1M91 349.5h1M91 351.5h1M91 352.5h1M91 354.5h1M91 356.5h1M91 357.5h1M91 358.5h1M91 361.5h1M91 362.5h1M91 363.5h1M91 364.5h1M91 365.5h1M91 366.5h1M91 367.5h1M91 368.5h1M91 369.5h1M91 370.5h1M91 371.5h1M91 372.5h1M91 373.5h1M91 374.5h1M91 375.5h1M91 376.5h1M91 377.5h1M91 378.5h1M91 379.5h1M91 380.5h1M91 381.5h1M91 382.5h1M91 383.5h1M91 384.5h1M91 385.5h1M91 386.5h1M91 387.5h1M91 388.5h1M91 389.5h1M91 390.5h1M91 392.5h1M91 393.5h1M92 341.5h1M92 350.5h1M92 351.5h1M92 352.5h1M92 353.5h1M92 355.5h1M92 357.5h1M92 358.5h1M92 360.5h1M92 361.5h1M92 362.5h1M92 363.5h1M92 364.5h1M92 365.5h1M92 366.5h1M92 367.5h1M92 368.5h1M92 369.5h1M92 370.5h1M92 372.5h1M92 373.5h1M92 374.5h1M92 375.5h1M92 376.5h1M92 377.5h1M92 378.5h1M92 379.5h1M92 380.5h1M92 381.5h1M92 382.5h1M92 383.5h1M92 384.5h1M92 385.5h1M92 386.5h1M92 387.5h1M92 388.5h1M92 389.5h1M92 390.5h1M92 391.5h1M92 393.5h1M93 333.5h1M93 341.5h1M93 342.5h1M93 344.5h1M93 348.5h1M93 350.5h1M93 351.5h1M93 353.5h1M93 356.5h1M93 360.5h1M93 363.5h1M93 364.5h1M93 365.5h1M93 366.5h1M93 367.5h1M93 368.5h1M93 370.5h1M93 371.5h1M93 372.5h1M93 373.5h1M93 374.5h1M93 375.5h1M93 376.5h1M93 377.5h1M93 378.5h1M93 379.5h1M93 380.5h1M93 381.5h1M93 382.5h1M93 383.5h1M93 384.5h1M93 385.5h1M93 386.5h1M93 387.5h1M93 388.5h1M93 390.5h1M93 391.5h1M93 392.5h1M94 340.5h1M94 349.5h1M94 350.5h1M94 353.5h1M94 354.5h1M94 355.5h1M94 356.5h1M94 357.5h1M94 358.5h1M94 361.5h1M94 362.5h1M94 364.5h1M94 366.5h1M94 367.5h1M94 369.5h1M94 370.5h1M94 371.5h1M94 372.5h1M94 373.5h1M94 374.5h1M94 375.5h1M94 376.5h1M94 377.5h1M94 378.5h1M94 379.5h1M94 380.5h1M94 381.5h1M94 382.5h1M94 383.5h1M94 384.5h1M94 385.5h1M94 386.5h1M94 387.5h1M94 388.5h1M94 389.5h1M94 390.5h1M94 391.5h1M95 335.5h1M95 341.5h1M95 345.5h1M95 348.5h1M95 349.5h1M95 351.5h1M95 353.5h1M95 354.5h1M95 355.5h1M95 356.5h1M95 357.5h1M95 358.5h1M95 359.5h1M95 360.5h1M95 361.5h1M95 363.5h1M95 364.5h1M95 365.5h1M95 366.5h1M95 367.5h1M95 368.5h1M95 369.5h1M95 370.5h1M95 371.5h1M95 372.5h1M95 373.5h1M95 374.5h1M95 375.5h1M95 376.5h1M95 377.5h1M95 378.5h1M95 379.5h1M95 380.5h1M95 381.5h1M95 382.5h1M95 383.5h1M95 384.5h1M95 385.5h1M95 386.5h1M95 387.5h1M95 388.5h1M95 389.5h1M95 390.5h1M95 392.5h1M96 347.5h1M96 349.5h1M96 351.5h1M96 352.5h1M96 357.5h1M96 360.5h1M96 361.5h1M96 364.5h1M96 365.5h1M96 366.5h1M96 367.5h1M96 369.5h1M96 371.5h1M96 372.5h1M96 373.5h1M96 374.5h1M96 375.5h1M96 376.5h1M96 377.5h1M96 378.5h1M96 379.5h1M96 380.5h1M96 381.5h1M96 382.5h1M96 383.5h1M96 384.5h1M96 385.5h1M96 386.5h1M96 387.5h1M96 388.5h1M96 392.5h1M97 346.5h1M97 347.5h1M97 348.5h1M97 349.5h1M97 351.5h1M97 352.5h1M97 353.5h1M97 355.5h1M97 356.5h1M97 357.5h1M97 360.5h1M97 362.5h1M97 364.5h1M97 365.5h1M97 368.5h1M97 369.5h1M97 370.5h1M97 371.5h1M97 372.5h1M97 373.5h1M97 374.5h1M97 375.5h1M97 376.5h1M97 377.5h1M97 378.5h1M97 379.5h1M97 380.5h1M97 381.5h1M97 382.5h1M97 383.5h1M97 384.5h1M97 385.5h1M97 386.5h1M97 387.5h1M97 390.5h1M97 391.5h1M97 392.5h1M98 341.5h1M98 346.5h1M98 347.5h1M98 348.5h1M98 350.5h1M98 352.5h1M98 353.5h1M98 355.5h1M98 357.5h1M98 358.5h1M98 366.5h1M98 367.5h1M98 368.5h1M98 369.5h1M98 370.5h1M98 371.5h1M98 372.5h1M98 373.5h1M98 374.5h1M98 375.5h1M98 376.5h1M98 377.5h1M98 378.5h1M98 379.5h1M98 380.5h1M98 381.5h1M98 382.5h1M98 383.5h1M98 384.5h1M98 385.5h1M98 386.5h1M98 387.5h1M98 388.5h1M98 389.5h1M98 390.5h1M99 339.5h1M99 341.5h1M99 345.5h1M99 346.5h1M99 348.5h1M99 350.5h1M99 351.5h1M99 352.5h1M99 353.5h1M99 354.5h1M99 355.5h1M99 356.5h1M99 358.5h1M99 367.5h1M99 368.5h1M99 369.5h1M99 370.5h1M99 371.5h1M99 372.5h1M99 373.5h1M99 375.5h1M99 376.5h1M99 377.5h1M99 378.5h1M99 379.5h1M99 380.5h1M99 381.5h1M99 382.5h1M99 383.5h1M99 384.5h1M99 385.5h1M99 386.5h1M99 387.5h1M99 388.5h1M99 389.5h1M99 390.5h1M99 391.5h1M99 392.5h1M100 335.5h1M100 336.5h1M100 337.5h1M100 338.5h1M100 339.5h1M100 343.5h1M100 346.5h1M100 347.5h1M100 348.5h1M100 349.5h1M100 350.5h1M100 352.5h1M100 353.5h1M100 355.5h1M100 356.5h1M100 357.5h1M100 358.5h1M100 359.5h1M100 366.5h1M100 367.5h1M100 368.5h1M100 369.5h1M100 370.5h1M100 371.5h1M100 372.5h1M100 373.5h1M100 374.5h1M100 375.5h1M100 376.5h1M100 377.5h1M100 378.5h1M100 379.5h1M100 380.5h1M100 381.5h1M100 382.5h1M100 383.5h1M100 384.5h1M100 385.5h1M100 386.5h1M100 387.5h1M100 389.5h1M100 390.5h1M101 332.5h1M101 334.5h1M101 336.5h1M101 337.5h1M101 338.5h1M101 339.5h1M101 341.5h1M101 342.5h1M101 345.5h1M101 346.5h1M101 347.5h1M101 348.5h1M101 349.5h1M101 351.5h1M101 354.5h1M101 357.5h1M101 358.5h1M101 364.5h1M101 365.5h1M101 366.5h1M101 367.5h1M101 368.5h1M101 370.5h1M101 371.5h1M101 373.5h1M101 374.5h1M101 375.5h1M101 376.5h1M101 377.5h1M101 378.5h1M101 379.5h1M101 380.5h1M101 381.5h1M101 382.5h1M101 383.5h1M101 384.5h1M101 385.5h1M101 387.5h1M101 388.5h1M101 389.5h1M101 390.5h1M101 391.5h1M102 330.5h1M102 332.5h1M102 333.5h1M102 334.5h1M102 335.5h1M102 337.5h1M102 341.5h1M102 346.5h1M102 348.5h1M102 349.5h1M102 350.5h1M102 351.5h1M102 353.5h1M102 355.5h1M102 356.5h1M102 357.5h1M102 358.5h1M102 362.5h1M102 363.5h1M102 367.5h1M102 369.5h1M102 370.5h1M102 371.5h1M102 372.5h1M102 373.5h1M102 374.5h1M102 375.5h1M102 376.5h1M102 377.5h1M102 378.5h1M102 379.5h1M102 380.5h1M102 381.5h1M102 382.5h1M102 383.5h1M102 384.5h1M102 385.5h1M102 386.5h1M102 387.5h1M102 389.5h1M102 390.5h1M102 391.5h1M103 336.5h1M103 339.5h1M103 340.5h1M103 341.5h1M103 344.5h1M103 345.5h1M103 346.5h1M103 349.5h1M103 350.5h1M103 351.5h1M103 353.5h1M103 354.5h1M103 355.5h1M103 356.5h1M103 357.5h1M103 362.5h1M103 364.5h1M103 366.5h1M103 369.5h1M103 370.5h1M103 371.5h1M103 372.5h1M103 373.5h1M103 374.5h1M103 375.5h1M103 376.5h1M103 377.5h1M103 378.5h1M103 379.5h1M103 380.5h1M103 381.5h1M103 382.5h1M103 383.5h1M103 384.5h1M103 385.5h1M103 386.5h1M103 387.5h1M103 388.5h1M103 389.5h1M103 390.5h1M103 391.5h1M103 392.5h1M104 334.5h1M104 335.5h1M104 336.5h1M104 337.5h1M104 338.5h1M104 340.5h1M104 346.5h1M104 348.5h1M104 349.5h1M104 350.5h1M104 353.5h1M104 354.5h1M104 358.5h1M104 362.5h1M104 364.5h1M104 365.5h1M104 366.5h1M104 367.5h1M104 369.5h1M104 370.5h1M104 371.5h1M104 372.5h1M104 373.5h1M104 374.5h1M104 375.5h1M104 376.5h1M104 377.5h1M104 378.5h1M104 379.5h1M104 380.5h1M104 381.5h1M104 382.5h1M104 383.5h1M104 384.5h1M104 385.5h1M104 386.5h1M104 387.5h1M104 388.5h1M104 390.5h1M104 391.5h1M105 335.5h1M105 337.5h1M105 338.5h1M105 341.5h1M105 342.5h1M105 343.5h1M105 344.5h1M105 345.5h1M105 346.5h1M105 347.5h1M105 348.5h1M105 355.5h1M105 356.5h1M105 363.5h1M105 364.5h1M105 365.5h1M105 367.5h1M105 369.5h1M105 371.5h1M105 372.5h1M105 373.5h1M105 374.5h1M105 375.5h1M105 376.5h1M105 377.5h1M105 378.5h1M105 379.5h1M105 380.5h1M105 381.5h1M105 382.5h1M105 383.5h1M105 384.5h1M105 386.5h1M105 387.5h1M105 388.5h1M105 389.5h1M105 391.5h1M106 325.5h1M106 327.5h1M106 333.5h1M106 334.5h1M106 336.5h1M106 339.5h1M106 340.5h1M106 342.5h1M106 343.5h1M106 345.5h1M106 346.5h1M106 359.5h1M106 360.5h1M106 365.5h1M106 367.5h1M106 368.5h1M106 369.5h1M106 371.5h1M106 372.5h1M106 373.5h1M106 374.5h1M106 375.5h1M106 377.5h1M106 378.5h1M106 379.5h1M106 380.5h1M106 381.5h1M106 382.5h1M106 383.5h1M106 384.5h1M106 385.5h1M106 387.5h1M106 388.5h1M106 389.5h1M107 326.5h1M107 336.5h1M107 337.5h1M107 341.5h1M107 343.5h1M107 346.5h1M107 354.5h1M107 355.5h1M107 357.5h1M107 362.5h1M107 364.5h1M107 365.5h1M107 367.5h1M107 368.5h1M107 369.5h1M107 370.5h1M107 371.5h1M107 372.5h1M107 373.5h1M107 374.5h1M107 376.5h1M107 377.5h1M107 378.5h1M107 379.5h1M107 380.5h1M107 381.5h1M107 382.5h1M107 383.5h1M107 384.5h1M107 385.5h1M107 386.5h1M107 387.5h1M107 388.5h1M107 389.5h1M108 317.5h1M108 318.5h1M108 320.5h1M108 326.5h1M108 327.5h1M108 333.5h1M108 334.5h1M108 335.5h1M108 336.5h1M108 338.5h1M108 341.5h1M108 342.5h1M108 344.5h1M108 345.5h1M108 347.5h1M108 348.5h1M108 354.5h1M108 355.5h1M108 356.5h1M108 357.5h1M108 358.5h1M108 361.5h1M108 364.5h1M108 365.5h1M108 366.5h1M108 367.5h1M108 368.5h1M108 369.5h1M108 371.5h1M108 373.5h1M108 374.5h1M108 375.5h1M108 377.5h1M108 378.5h1M108 379.5h1M108 380.5h1M108 381.5h1M108 382.5h1M108 383.5h1M108 384.5h1M108 385.5h1M108 386.5h1M108 387.5h1M109 319.5h1M109 324.5h1M109 326.5h1M109 328.5h1M109 333.5h1M109 335.5h1M109 337.5h1M109 338.5h1M109 339.5h1M109 341.5h1M109 342.5h1M109 343.5h1M109 345.5h1M109 346.5h1M109 347.5h1M109 348.5h1M109 349.5h1M109 351.5h1M109 352.5h1M109 353.5h1M109 354.5h1M109 355.5h1M109 356.5h1M109 357.5h1M109 358.5h1M109 359.5h1M109 363.5h1M109 365.5h1M109 367.5h1M109 368.5h1M109 370.5h1M109 371.5h1M109 373.5h1M109 374.5h1M109 375.5h1M109 376.5h1M109 377.5h1M109 378.5h1M109 379.5h1M109 380.5h1M109 381.5h1M109 382.5h1M109 383.5h1M109 384.5h1M109 385.5h1M109 386.5h1M109 387.5h1M109 388.5h1M110 316.5h1M110 317.5h1M110 318.5h1M110 319.5h1M110 328.5h1M110 329.5h1M110 332.5h1M110 333.5h1M110 334.5h1M110 336.5h1M110 337.5h1M110 338.5h1M110 339.5h1M110 340.5h1M110 343.5h1M110 344.5h1M110 345.5h1M110 347.5h1M110 348.5h1M110 350.5h1M110 353.5h1M110 356.5h1M110 357.5h1M110 358.5h1M110 359.5h1M110 363.5h1M110 365.5h1M110 366.5h1M110 367.5h1M110 368.5h1M110 369.5h1M110 370.5h1M110 371.5h1M110 372.5h1M110 373.5h1M110 374.5h1M110 375.5h1M110 376.5h1M110 377.5h1M110 378.5h1M110 379.5h1M110 380.5h1M110 382.5h1M110 383.5h1M111 317.5h1M111 324.5h1M111 326.5h1M111 328.5h1M111 330.5h1M111 331.5h1M111 333.5h1M111 334.5h1M111 337.5h1M111 339.5h1M111 340.5h1M111 341.5h1M111 342.5h1M111 344.5h1M111 345.5h1M111 346.5h1M111 348.5h1M111 349.5h1M111 350.5h1M111 352.5h1M111 353.5h1M111 365.5h1M111 367.5h1M111 368.5h1M111 370.5h1M111 371.5h1M111 373.5h1M111 374.5h1M111 375.5h1M111 377.5h1M111 378.5h1M111 379.5h1M111 380.5h1M111 381.5h1M111 382.5h1M111 383.5h1M111 384.5h1M111 385.5h1M111 386.5h1M111 387.5h1M112 324.5h1M112 326.5h1M112 328.5h1M112 330.5h1M112 331.5h1M112 332.5h1M112 334.5h1M112 335.5h1M112 337.5h1M112 340.5h1M112 342.5h1M112 343.5h1M112 346.5h1M112 347.5h1M112 348.5h1M112 349.5h1M112 350.5h1M112 353.5h1M112 355.5h1M112 357.5h1M112 358.5h1M112 365.5h1M112 367.5h1M112 368.5h1M112 369.5h1M112 370.5h1M112 371.5h1M112 372.5h1M112 373.5h1M112 374.5h1M112 375.5h1M112 376.5h1M112 377.5h1M112 378.5h1M112 380.5h1M112 381.5h1M112 382.5h1M112 383.5h1M112 384.5h1M112 385.5h1M113 326.5h1M113 327.5h1M113 331.5h1M113 333.5h1M113 336.5h1M113 337.5h1M113 338.5h1M113 341.5h1M113 342.5h1M113 344.5h1M113 346.5h1M113 348.5h1M113 350.5h1M113 351.5h1M113 352.5h1M113 353.5h1M113 354.5h1M113 364.5h1M113 365.5h1M113 366.5h1M113 367.5h1M113 368.5h1M113 369.5h1M113 370.5h1M113 371.5h1M113 372.5h1M113 373.5h1M113 374.5h1M113 378.5h1M113 379.5h1M113 380.5h1M113 381.5h1M113 383.5h1M113 384.5h1M113 386.5h1M113 388.5h1M114 328.5h1M114 329.5h1M114 330.5h1M114 333.5h1M114 334.5h1M114 337.5h1M114 338.5h1M114 340.5h1M114 342.5h1M114 343.5h1M114 346.5h1M114 348.5h1M114 350.5h1M114 351.5h1M114 352.5h1M114 353.5h1M114 357.5h1M114 358.5h1M114 359.5h1M114 365.5h1M114 366.5h1M114 369.5h1M114 371.5h1M114 372.5h1M114 374.5h1M114 375.5h1M114 376.5h1M114 377.5h1M114 378.5h1M114 380.5h1M114 381.5h1M114 382.5h1M114 383.5h1M114 384.5h1M114 386.5h1M115 327.5h1M115 328.5h1M115 329.5h1M115 331.5h1M115 332.5h1M115 334.5h1M115 335.5h1M115 337.5h1M115 338.5h1M115 340.5h1M115 341.5h1M115 342.5h1M115 344.5h1M115 346.5h1M115 347.5h1M115 350.5h1M115 351.5h1M115 352.5h1M115 353.5h1M115 355.5h1M115 357.5h1M115 358.5h1M115 363.5h1M115 365.5h1M115 366.5h1M115 368.5h1M115 370.5h1M115 371.5h1M115 372.5h1M115 373.5h1M115 374.5h1M115 375.5h1M115 376.5h1M115 377.5h1M115 379.5h1M115 380.5h1M115 381.5h1M115 382.5h1M115 383.5h1M115 384.5h1M116 326.5h1M116 327.5h1M116 330.5h1M116 331.5h1M116 332.5h1M116 336.5h1M116 337.5h1M116 339.5h1M116 340.5h1M116 341.5h1M116 342.5h1M116 343.5h1M116 344.5h1M116 345.5h1M116 346.5h1M116 347.5h1M116 348.5h1M116 349.5h1M116 350.5h1M116 351.5h1M116 353.5h1M116 354.5h1M116 356.5h1M116 358.5h1M116 364.5h1M116 367.5h1M116 368.5h1M116 370.5h1M116 371.5h1M116 372.5h1M116 373.5h1M116 375.5h1M116 376.5h1M116 380.5h1M116 381.5h1M116 382.5h1M117 319.5h1M117 320.5h1M117 325.5h1M117 326.5h1M117 327.5h1M117 328.5h1M117 329.5h1M117 330.5h1M117 331.5h1M117 332.5h1M117 334.5h1M117 335.5h1M117 338.5h1M117 339.5h1M117 341.5h1M117 342.5h1M117 343.5h1M117 346.5h1M117 348.5h1M117 349.5h1M117 352.5h1M117 355.5h1M117 356.5h1M117 358.5h1M117 361.5h1M117 362.5h1M117 363.5h1M117 364.5h1M117 367.5h1M117 368.5h1M117 369.5h1M117 370.5h1M117 371.5h1M117 372.5h1M117 373.5h1M117 374.5h1M117 375.5h1M117 376.5h1M117 377.5h1M117 378.5h1M117 379.5h1M117 380.5h1M117 383.5h1M117 385.5h1M117 386.5h1M118 326.5h1M118 328.5h1M118 331.5h1M118 332.5h1M118 333.5h1M118 335.5h1M118 337.5h1M118 338.5h1M118 340.5h1M118 342.5h1M118 343.5h1M118 344.5h1M118 345.5h1M118 346.5h1M118 347.5h1M118 349.5h1M118 350.5h1M118 351.5h1M118 352.5h1M118 354.5h1M118 356.5h1M118 362.5h1M118 364.5h1M118 365.5h1M118 366.5h1M118 368.5h1M118 376.5h1M118 379.5h1M118 380.5h1M118 381.5h1M118 382.5h1M119 318.5h1M119 326.5h1M119 327.5h1M119 329.5h1M119 331.5h1M119 332.5h1M119 333.5h1M119 334.5h1M119 335.5h1M119 336.5h1M119 337.5h1M119 338.5h1M119 340.5h1M119 342.5h1M119 343.5h1M119 344.5h1M119 345.5h1M119 349.5h1M119 350.5h1M119 351.5h1M119 352.5h1M119 353.5h1M119 355.5h1M119 357.5h1M119 359.5h1M119 361.5h1M119 362.5h1M119 363.5h1M119 364.5h1M119 367.5h1M119 368.5h1M119 369.5h1M119 371.5h1M119 373.5h1M119 374.5h1M119 375.5h1M119 376.5h1M119 378.5h1M119 379.5h1M119 385.5h1M119 386.5h1M119 387.5h1M120 326.5h1M120 327.5h1M120 331.5h1M120 333.5h1M120 334.5h1M120 336.5h1M120 338.5h1M120 343.5h1M120 345.5h1M120 346.5h1M120 347.5h1M120 349.5h1M120 350.5h1M120 351.5h1M120 352.5h1M120 353.5h1M120 354.5h1M120 355.5h1M120 356.5h1M120 358.5h1M120 359.5h1M120 361.5h1M120 364.5h1M120 367.5h1M120 369.5h1M120 371.5h1M120 372.5h1M120 373.5h1M120 374.5h1M120 375.5h1M120 376.5h1M120 378.5h1M120 380.5h1M121 325.5h1M121 329.5h1M121 330.5h1M121 331.5h1M121 332.5h1M121 333.5h1M121 334.5h1M121 335.5h1M121 336.5h1M121 337.5h1M121 339.5h1M121 341.5h1M121 342.5h1M121 343.5h1M121 345.5h1M121 346.5h1M121 348.5h1M121 349.5h1M121 350.5h1M121 351.5h1M121 353.5h1M121 355.5h1M121 356.5h1M121 358.5h1M121 360.5h1M121 363.5h1M121 364.5h1M121 366.5h1M121 367.5h1M121 370.5h1M121 372.5h1M121 374.5h1M121 377.5h1M121 378.5h1M122 325.5h1M122 326.5h1M122 327.5h1M122 328.5h1M122 329.5h1M122 330.5h1M122 331.5h1M122 333.5h1M122 335.5h1M122 336.5h1M122 337.5h1M122 338.5h1M122 339.5h1M122 341.5h1M122 343.5h1M122 344.5h1M122 346.5h1M122 347.5h1M122 348.5h1M122 349.5h1M122 350.5h1M122 352.5h1M122 353.5h1M122 354.5h1M122 355.5h1M122 356.5h1M122 359.5h1M122 360.5h1M122 361.5h1M122 363.5h1M122 364.5h1M122 365.5h1M122 367.5h1M122 369.5h1M122 370.5h1M122 371.5h1M122 373.5h1M122 375.5h1M122 376.5h1M122 377.5h1M122 378.5h1M122 379.5h1M123 315.5h1M123 323.5h1M123 325.5h1M123 327.5h1M123 329.5h1M123 330.5h1M123 331.5h1M123 333.5h1M123 334.5h1M123 335.5h1M123 336.5h1M123 340.5h1M123 341.5h1M123 342.5h1M123 345.5h1M123 346.5h1M123 350.5h1M123 353.5h1M123 354.5h1M123 355.5h1M123 361.5h1M123 362.5h1M123 365.5h1M123 367.5h1M123 369.5h1M123 370.5h1M123 371.5h1M123 373.5h1M123 374.5h1M123 375.5h1M123 376.5h1M123 377.5h1M123 380.5h1M124 324.5h1M124 325.5h1M124 326.5h1M124 327.5h1M124 328.5h1M124 329.5h1M124 332.5h1M124 335.5h1M124 336.5h1M124 337.5h1M124 339.5h1M124 341.5h1M124 343.5h1M124 348.5h1M124 350.5h1M124 351.5h1M124 352.5h1M124 353.5h1M124 359.5h1M124 360.5h1M124 362.5h1M124 364.5h1M124 365.5h1M124 368.5h1M124 369.5h1M124 370.5h1M124 371.5h1M124 375.5h1M124 378.5h1M124 379.5h1M124 380.5h1M124 385.5h1M125 315.5h1M125 323.5h1M125 324.5h1M125 325.5h1M125 328.5h1M125 329.5h1M125 330.5h1M125 332.5h1M125 333.5h1M125 334.5h1M125 335.5h1M125 336.5h1M125 337.5h1M125 338.5h1M125 340.5h1M125 341.5h1M125 342.5h1M125 343.5h1M125 344.5h1M125 346.5h1M125 349.5h1M125 350.5h1M125 351.5h1M125 353.5h1M125 360.5h1M125 362.5h1M125 364.5h1M125 365.5h1M125 366.5h1M125 367.5h1M125 369.5h1M125 371.5h1M125 375.5h1M125 376.5h1M125 378.5h1M125 379.5h1M125 380.5h1M125 381.5h1M125 384.5h1M126 323.5h1M126 327.5h1M126 328.5h1M126 329.5h1M126 330.5h1M126 333.5h1M126 336.5h1M126 340.5h1M126 342.5h1M126 344.5h1M126 345.5h1M126 346.5h1M126 347.5h1M126 350.5h1M126 351.5h1M126 360.5h1M126 364.5h1M126 365.5h1M126 366.5h1M126 368.5h1M126 369.5h1M126 370.5h1M126 371.5h1M126 373.5h1M126 376.5h1M126 378.5h1M127 322.5h1M127 333.5h1M127 334.5h1M127 335.5h1M127 336.5h1M127 337.5h1M127 339.5h1M127 340.5h1M127 343.5h1M127 344.5h1M127 346.5h1M127 349.5h1M127 351.5h1M127 363.5h1M127 364.5h1M127 367.5h1M127 368.5h1M127 370.5h1M127 371.5h1M127 373.5h1M127 375.5h1M127 379.5h1M127 381.5h1M127 382.5h1M128 329.5h1M128 334.5h1M128 335.5h1M128 336.5h1M128 340.5h1M128 341.5h1M128 342.5h1M128 343.5h1M128 347.5h1M128 348.5h1M128 361.5h1M128 363.5h1M128 365.5h1M128 367.5h1M128 369.5h1M128 370.5h1M128 371.5h1M128 373.5h1M129 323.5h1M129 332.5h1M129 334.5h1M129 336.5h1M129 339.5h1M129 341.5h1M129 343.5h1M129 344.5h1M129 366.5h1M129 367.5h1M129 368.5h1M129 370.5h1M130 329.5h1M130 331.5h1M130 334.5h1M130 336.5h1M130 338.5h1M130 340.5h1M130 341.5h1M130 342.5h1M130 343.5h1M130 344.5h1M130 349.5h1M130 361.5h1M130 365.5h1M130 369.5h1M130 371.5h1M131 332.5h1M131 343.5h1M131 347.5h1M131 348.5h1M131 350.5h1M131 354.5h1M132 347.5h1M132 357.5h1M133 348.5h1" stroke="#41ae32" stroke-width="1.0" stroke-opacity="1.0" clip-path="url(#cc)"/><path d="M130 311.5h1M131 320.5h1M132 316.5h1M134 295.5h1M139 293.5h1M139 305.5h1M139 313.5h1M140 307.5h1M140 321.5h1M141 298.5h1M141 314.5h1M142 279.5h1M142 307.5h1M142 311.5h1M143 297.5h1M143 303.5h1M143 309.5h1M143 316.5h1M144 302.5h1M144 315.5h1M144 316.5h1M145 291.5h1M145 312.5h1M145 317.5h1M145 322.5h1M146 305.5h1M146 308.5h1M146 321.5h1M146 328.5h1M147 289.5h1M147 296.5h1M148 298.5h1M149 297.5h1M149 298.5h1M149 301.5h1M150 268.5h1M150 319.5h1M150 322.5h1M150 326.5h1M150 329.5h1M150 333.5h1M150 339.5h1M152 288.5h1M152 291.5h1M152 297.5h1M153 282.5h1M153 329.5h1M153 338.5h1M154 278.5h1M154 293.5h1M154 329.5h1M154 333.5h1M155 285.5h1M155 298.5h1M156 272.5h1M156 285.5h1M156 293.5h1M156 296.5h1M156 297.5h1M156 335.5h1M157 268.5h1M157 330.5h1M158 262.5h1M158 280.5h1M158 282.5h1M158 290.5h1M158 294.5h1M158 333.5h1M159 337.5h1M160 279.5h1M160 339.5h1M161 270.5h1M161 271.5h1M161 281.5h1M162 274.5h1M162 279.5h1M162 292.5h1M163 289.5h1M163 333.5h1M164 288.5h1M164 326.5h1M164 329.5h1M164 336.5h1M165 278.5h1M165 279.5h1M165 328.5h1M165 329.5h1M165 330.5h1M165 337.5h1M166 260.5h1M166 284.5h1M166 285.5h1M166 325.5h1M166 340.5h1M167 254.5h1M167 325.5h1M167 332.5h1M167 337.5h1M168 266.5h1M168 329.5h1M168 330.5h1M168 335.5h1M169 286.5h1M170 271.5h1M170 275.5h1M170 285.5h1M171 266.5h1M171 267.5h1M171 282.5h1M171 299.5h1M171 324.5h1M172 324.5h1M173 262.5h1M173 271.5h1M173 316.5h1M173 321.5h1M173 325.5h1M173 334.5h1M173 338.5h1M174 269.5h1M174 298.5h1M174 299.5h1M174 341.5h1M175 267.5h1M175 270.5h1M175 297.5h1M175 326.5h1M175 330.5h1M176 262.5h1M176 264.5h1M176 293.5h1M176 295.5h1M176 315.5h1M176 319.5h1M176 320.5h1M176 327.5h1M177 322.5h1M178 262.5h1M178 273.5h1M178 277.5h1M178 319.5h1M178 330.5h1M178 332.5h1M179 290.5h1M179 305.5h1M179 316.5h1M179 331.5h1M180 264.5h1M180 275.5h1M180 305.5h1M180 308.5h1M181 276.5h1M181 308.5h1M181 322.5h1M182 263.5h1M182 269.5h1M182 278.5h1M182 279.5h1M182 282.5h1M182 291.5h1M182 313.5h1M182 327.5h1M183 265.5h1M183 267.5h1M183 273.5h1M183 279.5h1M183 301.5h1M183 304.5h1M183 308.5h1M183 317.5h1M183 323.5h1M184 243.5h1M184 254.5h1M184 266.5h1M184 269.5h1M184 272.5h1M185 261.5h1M185 282.5h1M185 291.5h1M185 292.5h1M185 298.5h1M185 322.5h1M186 254.5h1M186 263.5h1M186 266.5h1M186 272.5h1M186 286.5h1M186 302.5h1M187 280.5h1M187 287.5h1M187 292.5h1M187 306.5h1M187 317.5h1M188 271.5h1M188 280.5h1M188 299.5h1M189 272.5h1M189 283.5h1M189 292.5h1M190 274.5h1M190 277.5h1M190 280.5h1M190 283.5h1M190 289.5h1M190 292.5h1M191 269.5h1M191 270.5h1M191 283.5h1M191 287.5h1M191 288.5h1M192 262.5h1M192 299.5h1M192 304.5h1M192 309.5h1M193 251.5h1M193 269.5h1M193 275.5h1M193 279.5h1M194 263.5h1M194 284.5h1M194 285.5h1M194 308.5h1M195 262.5h1M195 266.5h1M195 267.5h1M195 270.5h1M195 288.5h1M196 253.5h1M196 279.5h1M197 274.5h1M198 270.5h1M198 282.5h1M198 295.5h1M199 276.5h1M199 281.5h1M199 285.5h1M200 277.5h1M200 278.5h1M201 256.5h1M201 282.5h1M202 286.5h1M203 283.5h1M206 271.5h1M211 275.5h1" stroke="#9dd5e8" stroke-width="1.0" stroke-opacity="1.0" clip-path="url(#cc)"/><path d="M144 311.5h1M144 313.5h1M145 303.5h1M145 310.5h1M146 312.5h1M147 303.5h1M147 305.5h1M148 307.5h1M148 309.5h1M148 311.5h1M148 314.5h1M149 304.5h1M149 306.5h1M149 308.5h1M149 314.5h1M150 306.5h1M150 309.5h1M150 311.5h1M150 312.5h1M150 314.5h1M150 315.5h1M150 316.5h1M151 300.5h1M151 301.5h1M151 304.5h1M151 305.5h1M151 322.5h1M151 325.5h1M152 300.5h1M152 302.5h1M152 306.5h1M152 307.5h1M152 309.5h1M152 310.5h1M152 315.5h1M152 320.5h1M152 321.5h1M152 325.5h1M153 302.5h1M153 304.5h1M153 309.5h1M153 310.5h1M153 312.5h1M153 313.5h1M153 314.5h1M153 315.5h1M153 316.5h1M153 318.5h1M153 321.5h1M153 326.5h1M154 301.5h1M154 302.5h1M154 305.5h1M154 318.5h1M154 321.5h1M154 326.5h1M154 327.5h1M155 305.5h1M155 306.5h1M155 316.5h1M155 319.5h1M155 321.5h1M155 325.5h1M155 326.5h1M156 299.5h1M156 304.5h1M156 308.5h1M156 313.5h1M156 314.5h1M156 318.5h1M156 321.5h1M156 326.5h1M156 333.5h1M157 303.5h1M157 305.5h1M157 317.5h1M157 321.5h1M157 323.5h1M157 329.5h1M157 331.5h1M158 298.5h1M158 300.5h1M158 301.5h1M158 304.5h1M158 309.5h1M158 316.5h1M158 317.5h1M158 322.5h1M158 323.5h1M158 331.5h1M159 286.5h1M159 288.5h1M159 292.5h1M159 298.5h1M159 307.5h1M159 319.5h1M159 322.5h1M159 323.5h1M159 327.5h1M159 329.5h1M160 281.5h1M160 284.5h1M160 286.5h1M160 287.5h1M160 289.5h1M160 291.5h1M160 297.5h1M160 308.5h1M160 319.5h1M160 323.5h1M160 325.5h1M160 327.5h1M160 328.5h1M161 285.5h1M161 286.5h1M161 290.5h1M161 294.5h1M161 307.5h1M161 310.5h1M161 316.5h1M161 326.5h1M161 328.5h1M162 282.5h1M162 285.5h1M162 295.5h1M162 296.5h1M162 297.5h1M162 307.5h1M162 316.5h1M163 295.5h1M163 315.5h1M163 323.5h1M163 325.5h1M164 280.5h1M164 284.5h1M164 286.5h1M164 291.5h1M164 313.5h1M164 323.5h1M165 291.5h1M165 295.5h1M165 296.5h1M165 297.5h1M165 298.5h1M165 316.5h1M166 278.5h1M166 287.5h1M166 289.5h1M166 291.5h1M166 292.5h1M166 293.5h1M166 294.5h1M166 312.5h1M166 315.5h1M167 278.5h1M167 288.5h1M167 290.5h1M167 294.5h1M167 314.5h1M167 321.5h1M167 322.5h1M167 323.5h1M168 278.5h1M168 280.5h1M168 291.5h1M168 293.5h1M168 295.5h1M168 296.5h1M168 298.5h1M168 300.5h1M168 308.5h1M168 309.5h1M168 313.5h1M168 314.5h1M169 268.5h1M169 276.5h1M169 279.5h1M169 289.5h1M169 290.5h1M169 291.5h1M169 297.5h1M169 309.5h1M169 312.5h1M169 317.5h1M169 318.5h1M169 321.5h1M170 266.5h1M170 267.5h1M170 277.5h1M170 280.5h1M170 292.5h1M170 297.5h1M170 301.5h1M170 310.5h1M170 314.5h1M170 315.5h1M170 319.5h1M170 321.5h1M170 322.5h1M171 273.5h1M171 276.5h1M171 278.5h1M171 284.5h1M171 288.5h1M171 291.5h1M171 292.5h1M171 293.5h1M171 296.5h1M171 302.5h1M171 309.5h1M171 313.5h1M171 317.5h1M171 318.5h1M172 285.5h1M172 286.5h1M172 289.5h1M172 294.5h1M172 302.5h1M172 309.5h1M172 311.5h1M172 313.5h1M172 319.5h1M172 321.5h1M173 274.5h1M173 275.5h1M173 277.5h1M173 285.5h1M173 290.5h1M173 291.5h1M173 292.5h1M173 294.5h1M173 296.5h1M173 301.5h1M173 309.5h1M173 313.5h1M173 314.5h1M173 315.5h1M174 276.5h1M174 277.5h1M174 280.5h1M174 282.5h1M174 284.5h1M174 287.5h1M174 288.5h1M174 290.5h1M174 291.5h1M174 292.5h1M174 305.5h1M174 319.5h1M175 275.5h1M175 278.5h1M175 279.5h1M175 281.5h1M175 282.5h1M175 284.5h1M175 286.5h1M175 301.5h1M175 302.5h1M175 304.5h1M175 310.5h1M175 312.5h1M176 270.5h1M176 272.5h1M176 280.5h1M176 285.5h1M176 288.5h1M176 290.5h1M176 291.5h1M176 303.5h1M176 307.5h1M176 308.5h1M176 311.5h1M176 314.5h1M177 277.5h1M177 300.5h1M177 301.5h1M177 303.5h1M177 305.5h1M177 308.5h1M177 315.5h1M177 317.5h1M178 269.5h1M178 270.5h1M178 271.5h1M178 281.5h1M178 283.5h1M178 284.5h1M178 285.5h1M178 288.5h1M178 289.5h1M178 300.5h1M178 302.5h1M178 311.5h1M179 269.5h1M179 270.5h1M179 277.5h1M179 279.5h1M179 281.5h1M179 285.5h1M179 286.5h1M179 297.5h1M179 300.5h1M179 302.5h1M179 312.5h1M179 313.5h1M180 271.5h1M180 283.5h1M180 284.5h1M180 288.5h1M180 291.5h1M180 295.5h1M180 296.5h1M180 297.5h1M180 300.5h1M180 302.5h1M180 303.5h1M180 311.5h1M180 312.5h1M180 314.5h1M181 287.5h1M181 293.5h1M181 295.5h1M181 298.5h1M181 302.5h1M181 313.5h1M182 285.5h1M182 286.5h1M182 287.5h1M182 293.5h1M182 296.5h1M182 297.5h1M182 305.5h1M182 310.5h1M183 280.5h1M183 295.5h1M183 296.5h1M183 303.5h1M184 287.5h1M184 296.5h1M184 298.5h1M184 303.5h1M185 275.5h1M185 287.5h1M186 274.5h1M186 276.5h1M186 277.5h1M186 287.5h1M186 289.5h1M187 275.5h1M188 275.5h1M188 276.5h1M189 273.5h1" stroke="#72c3de" stroke-width="1.0" stroke-opacity="1.0" clip-path="url(#cc)"/><path d="M150 307.5h1M151 306.5h1M151 313.5h1M151 314.5h1M152 313.5h1M152 324.5h1M153 307.5h1M153 322.5h1M153 323.5h1M154 310.5h1M154 311.5h1M154 320.5h1M154 324.5h1M154 325.5h1M155 308.5h1M155 309.5h1M155 311.5h1M155 323.5h1M156 307.5h1M156 309.5h1M157 307.5h1M157 309.5h1M157 311.5h1M157 312.5h1M157 313.5h1M157 314.5h1M158 305.5h1M158 306.5h1M158 313.5h1M158 314.5h1M159 300.5h1M159 301.5h1M159 311.5h1M159 312.5h1M159 313.5h1M159 315.5h1M159 316.5h1M160 300.5h1M160 301.5h1M160 302.5h1M160 303.5h1M160 304.5h1M160 306.5h1M160 313.5h1M160 314.5h1M160 316.5h1M160 321.5h1M160 322.5h1M161 298.5h1M161 300.5h1M161 302.5h1M161 303.5h1M161 312.5h1M161 313.5h1M161 314.5h1M161 315.5h1M161 318.5h1M161 320.5h1M161 322.5h1M162 298.5h1M162 300.5h1M162 301.5h1M162 303.5h1M162 304.5h1M162 305.5h1M162 306.5h1M162 319.5h1M162 320.5h1M162 321.5h1M162 323.5h1M163 296.5h1M163 300.5h1M163 303.5h1M163 304.5h1M163 305.5h1M163 306.5h1M163 309.5h1M163 310.5h1M163 311.5h1M163 312.5h1M163 314.5h1M163 319.5h1M163 320.5h1M163 321.5h1M164 297.5h1M164 299.5h1M164 301.5h1M164 302.5h1M164 307.5h1M164 309.5h1M164 310.5h1M164 317.5h1M164 319.5h1M164 320.5h1M164 321.5h1M165 299.5h1M165 300.5h1M165 301.5h1M165 302.5h1M165 303.5h1M165 304.5h1M165 305.5h1M165 306.5h1M165 307.5h1M165 308.5h1M165 309.5h1M165 310.5h1M165 311.5h1M165 312.5h1M165 318.5h1M165 319.5h1M165 320.5h1M166 297.5h1M166 302.5h1M166 303.5h1M166 308.5h1M166 309.5h1M166 311.5h1M166 316.5h1M166 317.5h1M166 318.5h1M166 320.5h1M167 299.5h1M167 301.5h1M167 302.5h1M167 303.5h1M167 305.5h1M167 308.5h1M167 309.5h1M167 311.5h1M167 316.5h1M167 319.5h1M167 320.5h1M168 301.5h1M168 303.5h1M168 304.5h1M168 305.5h1M168 306.5h1M168 317.5h1M168 318.5h1M169 302.5h1M169 304.5h1M169 305.5h1M169 306.5h1M170 303.5h1M170 305.5h1M170 307.5h1M171 304.5h1M171 305.5h1M171 306.5h1M171 307.5h1M171 308.5h1M172 304.5h1M172 305.5h1M172 306.5h1M172 308.5h1M173 305.5h1M173 306.5h1M173 308.5h1M174 306.5h1M174 309.5h1M175 307.5h1M176 286.5h1M176 310.5h1M177 283.5h1M177 284.5h1M177 310.5h1M177 312.5h1M178 310.5h1M178 312.5h1" stroke="#45acd1" stroke-width="1.0" stroke-opacity="1.0" clip-path="url(#cc)"/><path d="M133 334.5h1M133 386.5h1M135 350.5h1M136 349.5h1M136 368.5h1M136 400.5h1M138 351.5h1M138 382.5h1M139 358.5h1M139 360.5h1M139 373.5h1M141 341.5h1M141 356.5h1M141 386.5h1M142 331.5h1M142 346.5h1M142 360.5h1M142 378.5h1M142 390.5h1M142 399.5h1M143 342.5h1M143 360.5h1M143 367.5h1M144 344.5h1M144 355.5h1M144 365.5h1M144 367.5h1M144 377.5h1M145 362.5h1M145 371.5h1M145 382.5h1M146 335.5h1M146 355.5h1M146 361.5h1M146 369.5h1M146 374.5h1M146 383.5h1M146 387.5h1M146 389.5h1M147 312.5h1M147 328.5h1M147 336.5h1M147 349.5h1M147 363.5h1M147 364.5h1M147 371.5h1M148 365.5h1M148 380.5h1M148 392.5h1M149 334.5h1M149 340.5h1M149 358.5h1M149 376.5h1M149 389.5h1M149 396.5h1M150 332.5h1M150 337.5h1M150 352.5h1M150 353.5h1M150 364.5h1M150 370.5h1M150 386.5h1M151 326.5h1M151 340.5h1M151 343.5h1M151 344.5h1M151 352.5h1M151 364.5h1M152 362.5h1M153 331.5h1M153 334.5h1M153 369.5h1M153 387.5h1M154 366.5h1M155 333.5h1M155 337.5h1M155 364.5h1M155 365.5h1M155 396.5h1M155 397.5h1M155 404.5h1M156 326.5h1M156 335.5h1M157 403.5h1M158 330.5h1M158 331.5h1M158 353.5h1M158 367.5h1M158 395.5h1M159 336.5h1M160 331.5h1M160 405.5h1M161 335.5h1M162 396.5h1M163 331.5h1M163 335.5h1M163 341.5h1M164 327.5h1M164 329.5h1M164 337.5h1M165 341.5h1M166 332.5h1M166 333.5h1M166 342.5h1M167 396.5h1M167 409.5h1M168 322.5h1M168 333.5h1M168 338.5h1M168 401.5h1M169 338.5h1M169 343.5h1M170 336.5h1M170 341.5h1M170 404.5h1M171 320.5h1M171 341.5h1M171 358.5h1M171 396.5h1M171 401.5h1M172 338.5h1M172 351.5h1M172 399.5h1M173 331.5h1M173 335.5h1M174 322.5h1M174 356.5h1M174 360.5h1M174 363.5h1M174 403.5h1M175 341.5h1M175 356.5h1M175 363.5h1M175 397.5h1M176 333.5h1M176 342.5h1M176 375.5h1M176 400.5h1M177 338.5h1M177 350.5h1M177 352.5h1M177 359.5h1M177 361.5h1M178 345.5h1M178 351.5h1M178 355.5h1M178 360.5h1M178 383.5h1M178 396.5h1M178 397.5h1M179 345.5h1M179 354.5h1M179 360.5h1M179 387.5h1M179 400.5h1M180 339.5h1M180 347.5h1M180 361.5h1M180 364.5h1M180 370.5h1M180 375.5h1M181 336.5h1M181 365.5h1M181 375.5h1M181 387.5h1M182 351.5h1M183 369.5h1M183 382.5h1M184 372.5h1M184 374.5h1M184 377.5h1M184 378.5h1M184 379.5h1M184 385.5h1M184 389.5h1M185 344.5h1M185 367.5h1M186 340.5h1M186 347.5h1M186 366.5h1M186 388.5h1M187 373.5h1M187 374.5h1M187 376.5h1M187 379.5h1M187 388.5h1M190 325.5h1M190 362.5h1M193 393.5h1" stroke="#9bbbe0" stroke-width="1.0" stroke-opacity="1.0" clip-path="url(#cc)"/><path d="M147 382.5h1M147 383.5h1M148 356.5h1M148 383.5h1M148 388.5h1M149 348.5h1M149 377.5h1M149 381.5h1M149 383.5h1M150 338.5h1M150 348.5h1M150 355.5h1M150 357.5h1M150 358.5h1M150 375.5h1M150 376.5h1M150 382.5h1M150 388.5h1M150 389.5h1M151 336.5h1M151 338.5h1M151 347.5h1M151 348.5h1M151 349.5h1M151 355.5h1M151 356.5h1M151 378.5h1M151 379.5h1M151 381.5h1M151 388.5h1M152 345.5h1M152 346.5h1M152 358.5h1M152 373.5h1M152 374.5h1M152 375.5h1M152 378.5h1M152 383.5h1M152 390.5h1M152 392.5h1M153 341.5h1M153 348.5h1M153 349.5h1M153 351.5h1M153 355.5h1M153 362.5h1M153 374.5h1M153 375.5h1M153 382.5h1M153 383.5h1M153 385.5h1M153 390.5h1M153 392.5h1M154 341.5h1M154 342.5h1M154 346.5h1M154 348.5h1M154 350.5h1M154 352.5h1M154 353.5h1M154 355.5h1M154 358.5h1M154 359.5h1M154 361.5h1M154 371.5h1M154 381.5h1M154 383.5h1M154 384.5h1M154 390.5h1M154 394.5h1M155 339.5h1M155 340.5h1M155 343.5h1M155 345.5h1M155 349.5h1M155 351.5h1M155 354.5h1M155 356.5h1M155 357.5h1M155 360.5h1M155 372.5h1M155 375.5h1M155 384.5h1M155 386.5h1M155 389.5h1M155 393.5h1M156 339.5h1M156 342.5h1M156 343.5h1M156 347.5h1M156 353.5h1M156 357.5h1M156 358.5h1M156 360.5h1M156 362.5h1M156 370.5h1M156 371.5h1M156 374.5h1M156 389.5h1M156 393.5h1M157 340.5h1M157 343.5h1M157 346.5h1M157 350.5h1M157 357.5h1M157 384.5h1M157 385.5h1M157 387.5h1M157 388.5h1M157 391.5h1M157 392.5h1M157 394.5h1M158 343.5h1M158 347.5h1M158 348.5h1M158 350.5h1M158 352.5h1M158 357.5h1M158 362.5h1M158 393.5h1M159 341.5h1M159 343.5h1M159 346.5h1M159 347.5h1M159 352.5h1M159 356.5h1M159 358.5h1M159 362.5h1M159 363.5h1M159 365.5h1M159 392.5h1M160 341.5h1M160 348.5h1M160 354.5h1M160 359.5h1M160 361.5h1M160 362.5h1M160 365.5h1M160 388.5h1M160 391.5h1M160 394.5h1M161 337.5h1M161 339.5h1M161 344.5h1M161 349.5h1M161 350.5h1M161 353.5h1M161 355.5h1M161 356.5h1M161 359.5h1M161 365.5h1M161 390.5h1M161 393.5h1M161 394.5h1M162 343.5h1M162 345.5h1M162 347.5h1M162 348.5h1M162 353.5h1M162 354.5h1M162 358.5h1M162 361.5h1M162 362.5h1M162 364.5h1M162 365.5h1M162 388.5h1M162 389.5h1M162 393.5h1M163 337.5h1M163 344.5h1M163 350.5h1M163 352.5h1M163 353.5h1M163 356.5h1M163 358.5h1M163 361.5h1M163 389.5h1M163 393.5h1M164 344.5h1M164 347.5h1M164 348.5h1M164 356.5h1M164 361.5h1M164 366.5h1M164 367.5h1M164 392.5h1M165 345.5h1M165 348.5h1M165 351.5h1M165 354.5h1M165 357.5h1M165 360.5h1M165 361.5h1M165 362.5h1M165 366.5h1M165 367.5h1M165 370.5h1M165 386.5h1M165 388.5h1M165 392.5h1M166 344.5h1M166 345.5h1M166 346.5h1M166 349.5h1M166 352.5h1M166 353.5h1M166 354.5h1M166 355.5h1M166 356.5h1M166 361.5h1M166 364.5h1M166 370.5h1M166 372.5h1M166 384.5h1M166 386.5h1M166 387.5h1M167 346.5h1M167 348.5h1M167 349.5h1M167 351.5h1M167 357.5h1M167 362.5h1M167 363.5h1M167 366.5h1M167 368.5h1M167 387.5h1M167 391.5h1M167 393.5h1M167 394.5h1M167 395.5h1M168 351.5h1M168 355.5h1M168 356.5h1M168 357.5h1M168 358.5h1M168 364.5h1M168 365.5h1M168 368.5h1M168 373.5h1M168 375.5h1M168 385.5h1M168 389.5h1M168 395.5h1M169 348.5h1M169 349.5h1M169 352.5h1M169 353.5h1M169 358.5h1M169 363.5h1M169 369.5h1M169 370.5h1M169 374.5h1M169 384.5h1M169 385.5h1M169 388.5h1M169 392.5h1M170 345.5h1M170 347.5h1M170 348.5h1M170 352.5h1M170 357.5h1M170 363.5h1M170 365.5h1M170 366.5h1M170 367.5h1M170 369.5h1M170 370.5h1M170 372.5h1M170 373.5h1M170 384.5h1M170 388.5h1M170 389.5h1M170 392.5h1M170 393.5h1M170 394.5h1M170 396.5h1M171 340.5h1M171 347.5h1M171 350.5h1M171 354.5h1M171 359.5h1M171 364.5h1M171 365.5h1M171 374.5h1M171 384.5h1M171 387.5h1M171 389.5h1M171 394.5h1M172 344.5h1M172 345.5h1M172 354.5h1M172 360.5h1M172 361.5h1M172 363.5h1M172 368.5h1M172 369.5h1M172 370.5h1M172 371.5h1M172 375.5h1M172 387.5h1M172 390.5h1M172 393.5h1M173 342.5h1M173 344.5h1M173 346.5h1M173 347.5h1M173 353.5h1M173 354.5h1M173 367.5h1M173 369.5h1M173 370.5h1M173 375.5h1M173 378.5h1M173 383.5h1M173 386.5h1M173 389.5h1M173 391.5h1M173 393.5h1M174 343.5h1M174 345.5h1M174 347.5h1M174 353.5h1M174 354.5h1M174 362.5h1M174 374.5h1M174 381.5h1M174 383.5h1M174 385.5h1M174 388.5h1M174 391.5h1M174 393.5h1M174 394.5h1M175 342.5h1M175 344.5h1M175 366.5h1M175 368.5h1M175 376.5h1M175 378.5h1M175 382.5h1M175 384.5h1M175 386.5h1M175 387.5h1M175 394.5h1M175 395.5h1M175 396.5h1M176 345.5h1M176 367.5h1M176 370.5h1M176 380.5h1M176 386.5h1M176 388.5h1M176 392.5h1M177 367.5h1M177 368.5h1M177 369.5h1M177 375.5h1M177 381.5h1M177 382.5h1M177 388.5h1M177 389.5h1M177 390.5h1M177 391.5h1M177 392.5h1M177 396.5h1M178 370.5h1M178 371.5h1M178 373.5h1M178 379.5h1M178 380.5h1M178 388.5h1M178 391.5h1M179 369.5h1M179 375.5h1M179 376.5h1M179 379.5h1M179 390.5h1M180 371.5h1M180 379.5h1M180 382.5h1M180 384.5h1M181 378.5h1M181 379.5h1M181 381.5h1M181 384.5h1M182 380.5h1M182 382.5h1M182 385.5h1M182 387.5h1M183 385.5h1M186 378.5h1" stroke="#6e99ce" stroke-width="1.0" stroke-opacity="1.0" clip-path="url(#cc)"/><path d="M152 376.5h1M152 380.5h1M153 378.5h1M154 377.5h1M154 378.5h1M154 379.5h1M154 380.5h1M154 392.5h1M155 377.5h1M155 378.5h1M155 379.5h1M155 381.5h1M155 390.5h1M155 391.5h1M155 392.5h1M156 345.5h1M156 372.5h1M156 373.5h1M156 378.5h1M156 380.5h1M157 344.5h1M157 371.5h1M157 373.5h1M157 376.5h1M157 378.5h1M157 379.5h1M157 380.5h1M157 381.5h1M157 383.5h1M158 345.5h1M158 370.5h1M158 372.5h1M158 373.5h1M158 374.5h1M158 377.5h1M158 378.5h1M158 380.5h1M158 381.5h1M158 384.5h1M159 369.5h1M159 370.5h1M159 371.5h1M159 374.5h1M159 375.5h1M159 377.5h1M159 378.5h1M159 381.5h1M159 382.5h1M159 383.5h1M159 384.5h1M159 385.5h1M159 386.5h1M160 363.5h1M160 368.5h1M160 370.5h1M160 371.5h1M160 372.5h1M160 373.5h1M160 375.5h1M160 376.5h1M160 378.5h1M160 379.5h1M160 382.5h1M160 383.5h1M160 385.5h1M160 386.5h1M160 387.5h1M161 367.5h1M161 369.5h1M161 370.5h1M161 374.5h1M161 375.5h1M161 376.5h1M161 377.5h1M161 378.5h1M161 379.5h1M161 382.5h1M161 384.5h1M161 385.5h1M161 386.5h1M161 387.5h1M162 360.5h1M162 367.5h1M162 369.5h1M162 370.5h1M162 371.5h1M162 375.5h1M162 377.5h1M162 379.5h1M162 381.5h1M162 383.5h1M162 384.5h1M162 385.5h1M162 386.5h1M163 367.5h1M163 368.5h1M163 371.5h1M163 372.5h1M163 373.5h1M163 374.5h1M163 375.5h1M163 376.5h1M163 377.5h1M163 380.5h1M163 382.5h1M163 384.5h1M163 387.5h1M163 391.5h1M164 360.5h1M164 368.5h1M164 369.5h1M164 371.5h1M164 372.5h1M164 374.5h1M164 376.5h1M164 377.5h1M164 378.5h1M164 379.5h1M164 380.5h1M164 381.5h1M164 382.5h1M164 383.5h1M164 385.5h1M164 391.5h1M165 374.5h1M165 375.5h1M165 376.5h1M165 378.5h1M165 380.5h1M165 381.5h1M165 382.5h1M165 389.5h1M165 390.5h1M166 376.5h1M166 378.5h1M166 381.5h1M166 390.5h1M166 391.5h1M167 376.5h1M167 378.5h1M167 379.5h1M167 381.5h1M167 382.5h1M167 388.5h1M168 347.5h1M168 376.5h1M168 377.5h1M168 379.5h1M168 382.5h1M168 383.5h1M168 390.5h1M168 392.5h1M169 375.5h1M169 380.5h1M169 381.5h1M169 382.5h1M169 394.5h1M170 375.5h1M170 377.5h1M170 378.5h1M170 379.5h1M170 380.5h1M170 382.5h1M170 383.5h1M171 370.5h1M171 375.5h1M171 379.5h1M171 381.5h1M172 376.5h1M172 377.5h1M172 379.5h1M172 380.5h1M172 381.5h1M172 383.5h1M172 391.5h1M173 377.5h1M173 379.5h1M173 381.5h1M176 390.5h1" stroke="#3570b5" stroke-width="1.0" stroke-opacity="1.0" clip-path="url(#cc)"/><path d="M184 348.5h1M206 362.5h1M217 344.5h1M219 339.5h1M220 363.5h1M222 335.5h1M222 336.5h1M223 326.5h1M224 339.5h1M225 349.5h1M226 321.5h1M226 362.5h1M227 336.5h1M227 345.5h1M227 359.5h1M227 371.5h1M229 338.5h1M229 340.5h1M230 349.5h1M230 372.5h1M231 375.5h1M232 356.5h1M232 368.5h1M233 364.5h1M233 408.5h1M234 311.5h1M234 330.5h1M234 348.5h1M234 365.5h1M234 401.5h1M235 329.5h1M235 360.5h1M236 364.5h1M236 368.5h1M237 329.5h1M237 347.5h1M237 364.5h1M237 369.5h1M238 345.5h1M238 350.5h1M238 353.5h1M238 358.5h1M238 363.5h1M238 369.5h1M239 329.5h1M239 351.5h1M239 355.5h1M239 356.5h1M239 360.5h1M239 373.5h1M239 374.5h1M239 384.5h1M239 389.5h1M240 331.5h1M240 348.5h1M240 360.5h1M240 362.5h1M240 363.5h1M240 387.5h1M240 390.5h1M241 307.5h1M241 311.5h1M241 345.5h1M241 351.5h1M241 384.5h1M242 323.5h1M242 326.5h1M242 336.5h1M242 344.5h1M242 356.5h1M242 357.5h1M242 371.5h1M243 336.5h1M243 342.5h1M243 347.5h1M243 348.5h1M243 351.5h1M243 355.5h1M243 365.5h1M243 387.5h1M244 313.5h1M244 322.5h1M244 333.5h1M244 341.5h1M244 365.5h1M245 306.5h1M245 323.5h1M245 328.5h1M245 329.5h1M245 344.5h1M245 348.5h1M246 330.5h1M246 339.5h1M246 344.5h1M246 348.5h1M246 354.5h1M246 355.5h1M246 359.5h1M246 364.5h1M246 376.5h1M246 380.5h1M246 388.5h1M246 390.5h1M247 316.5h1M247 324.5h1M247 327.5h1M247 338.5h1M247 357.5h1M247 359.5h1M247 371.5h1M247 393.5h1M248 327.5h1M248 335.5h1M248 360.5h1M248 382.5h1M249 341.5h1M249 343.5h1M249 365.5h1M249 366.5h1M249 369.5h1M249 374.5h1M249 378.5h1M249 383.5h1M249 384.5h1M249 409.5h1M250 325.5h1M250 329.5h1M250 333.5h1M250 338.5h1M250 347.5h1M250 350.5h1M250 353.5h1M250 354.5h1M250 356.5h1M250 357.5h1M250 367.5h1M250 377.5h1M251 322.5h1M251 335.5h1M251 405.5h1M252 323.5h1M252 329.5h1M252 330.5h1M252 343.5h1M252 370.5h1M252 384.5h1M252 393.5h1M253 302.5h1M253 304.5h1M253 319.5h1M253 329.5h1M253 367.5h1M253 379.5h1M253 391.5h1M254 316.5h1M254 341.5h1M254 382.5h1M254 390.5h1M255 310.5h1M255 324.5h1M255 330.5h1M255 332.5h1M255 333.5h1M255 386.5h1M255 388.5h1M255 400.5h1M256 328.5h1M256 338.5h1M256 375.5h1M256 379.5h1M256 397.5h1M257 319.5h1M257 325.5h1M257 330.5h1M257 338.5h1M257 342.5h1M257 389.5h1M258 309.5h1M258 316.5h1M258 378.5h1M258 386.5h1M258 389.5h1M259 327.5h1M259 333.5h1M259 336.5h1M260 280.5h1M260 314.5h1M260 322.5h1M260 340.5h1M260 377.5h1M260 386.5h1M260 407.5h1M261 323.5h1M261 325.5h1M261 330.5h1M261 343.5h1M261 381.5h1M261 383.5h1M261 391.5h1M261 394.5h1M261 400.5h1M262 321.5h1M262 326.5h1M262 387.5h1M262 388.5h1M262 393.5h1M263 384.5h1M264 317.5h1M264 387.5h1M264 391.5h1M265 322.5h1M265 325.5h1M265 327.5h1M265 328.5h1M266 316.5h1M266 317.5h1M266 322.5h1M266 398.5h1M267 343.5h1M268 310.5h1M268 325.5h1M268 328.5h1M268 329.5h1M268 394.5h1M269 310.5h1M269 317.5h1M269 328.5h1M269 332.5h1M269 402.5h1M269 416.5h1M270 316.5h1M270 317.5h1M270 318.5h1M270 320.5h1M270 332.5h1M270 335.5h1M270 404.5h1M270 411.5h1M271 307.5h1M271 308.5h1M271 315.5h1M271 324.5h1M271 325.5h1M271 394.5h1M272 311.5h1M272 323.5h1M272 392.5h1M273 321.5h1M273 333.5h1M273 405.5h1M274 309.5h1M274 324.5h1M274 333.5h1M274 403.5h1M275 307.5h1M275 330.5h1M275 386.5h1M275 390.5h1M276 302.5h1M276 320.5h1M276 390.5h1M276 391.5h1M277 309.5h1M278 311.5h1M279 306.5h1M279 313.5h1M279 325.5h1M279 389.5h1M279 391.5h1M280 301.5h1M280 312.5h1M280 313.5h1M280 319.5h1M282 301.5h1M282 313.5h1M282 318.5h1M282 390.5h1M282 407.5h1M283 297.5h1M283 310.5h1M283 389.5h1M284 312.5h1M284 316.5h1M284 416.5h1M285 387.5h1M286 298.5h1M286 308.5h1M286 390.5h1M287 311.5h1M287 396.5h1M288 308.5h1M288 311.5h1M288 316.5h1M289 315.5h1M289 316.5h1M289 391.5h1M289 398.5h1M290 314.5h1M290 392.5h1M291 308.5h1M291 319.5h1M291 394.5h1M292 298.5h1M292 305.5h1M292 315.5h1M292 402.5h1M293 307.5h1M294 395.5h1M295 298.5h1M296 396.5h1M296 407.5h1M297 399.5h1M297 403.5h1M297 406.5h1M298 295.5h1M298 296.5h1M298 299.5h1M298 308.5h1M298 312.5h1M299 394.5h1M299 404.5h1M300 309.5h1M301 397.5h1M301 403.5h1M302 302.5h1M302 397.5h1M303 305.5h1M304 299.5h1M304 403.5h1M305 302.5h1M305 389.5h1M305 393.5h1M306 385.5h1M306 389.5h1M306 400.5h1M308 301.5h1M309 306.5h1M309 393.5h1M309 394.5h1M310 302.5h1M310 390.5h1M310 397.5h1M311 390.5h1M311 393.5h1M312 301.5h1M312 307.5h1M312 308.5h1M313 310.5h1M315 309.5h1M316 297.5h1M316 389.5h1M318 302.5h1M318 386.5h1M318 401.5h1M319 390.5h1M320 382.5h1M321 309.5h1M321 387.5h1M321 390.5h1M321 404.5h1M322 375.5h1M322 382.5h1M322 394.5h1M323 379.5h1M324 375.5h1M324 389.5h1M325 374.5h1M325 389.5h1M325 390.5h1M326 378.5h1M326 381.5h1M326 382.5h1M326 386.5h1M327 306.5h1M327 358.5h1M328 373.5h1M328 377.5h1M328 380.5h1M328 383.5h1M329 302.5h1M330 294.5h1M330 300.5h1M330 302.5h1M330 308.5h1M330 406.5h1M331 297.5h1M331 302.5h1M331 350.5h1M331 351.5h1M331 356.5h1M331 375.5h1M332 356.5h1M332 359.5h1M332 364.5h1M332 368.5h1M333 310.5h1M333 334.5h1M333 341.5h1M333 344.5h1M333 348.5h1M333 380.5h1M333 384.5h1M334 344.5h1M334 347.5h1M334 367.5h1M335 303.5h1M335 307.5h1M335 341.5h1M335 344.5h1M335 353.5h1M335 356.5h1M335 367.5h1M335 373.5h1M335 388.5h1M335 391.5h1M336 298.5h1M336 301.5h1M336 308.5h1M336 310.5h1M336 326.5h1M336 332.5h1M336 334.5h1M336 339.5h1M336 354.5h1M336 356.5h1M336 370.5h1M336 375.5h1M336 377.5h1M336 381.5h1M337 302.5h1M337 304.5h1M337 307.5h1M337 329.5h1M337 335.5h1M337 336.5h1M337 349.5h1M337 373.5h1M337 382.5h1M338 346.5h1M338 360.5h1M338 364.5h1M338 381.5h1M339 301.5h1M339 307.5h1M339 309.5h1M339 311.5h1M339 312.5h1M339 332.5h1M339 336.5h1M339 343.5h1M339 344.5h1M339 365.5h1M339 376.5h1M339 383.5h1M340 293.5h1M340 296.5h1M340 303.5h1M340 306.5h1M340 308.5h1M340 325.5h1M340 327.5h1M340 336.5h1M340 340.5h1M340 353.5h1M340 355.5h1M340 358.5h1M340 361.5h1M340 362.5h1M340 380.5h1M340 392.5h1M341 300.5h1M341 347.5h1M341 372.5h1M341 381.5h1M342 303.5h1M342 330.5h1M342 347.5h1M342 358.5h1M342 359.5h1M342 362.5h1M342 382.5h1M343 312.5h1M343 355.5h1M343 368.5h1M343 388.5h1M344 324.5h1M344 325.5h1M344 333.5h1M344 344.5h1M344 354.5h1M344 361.5h1M344 372.5h1M344 377.5h1M344 381.5h1M345 299.5h1M345 336.5h1M345 343.5h1M345 348.5h1M346 304.5h1M346 324.5h1M346 326.5h1M346 332.5h1M346 337.5h1M346 344.5h1M346 349.5h1M346 366.5h1M346 371.5h1M346 375.5h1M347 297.5h1M347 314.5h1M347 340.5h1M347 348.5h1M348 298.5h1M348 345.5h1M348 361.5h1M349 307.5h1M349 339.5h1M349 354.5h1M350 302.5h1M350 307.5h1M350 310.5h1M350 313.5h1M350 347.5h1M350 353.5h1M351 303.5h1M351 313.5h1M351 314.5h1M351 317.5h1M351 337.5h1M351 346.5h1M351 349.5h1M351 350.5h1M351 362.5h1M352 318.5h1M352 332.5h1M352 342.5h1M352 351.5h1M353 346.5h1M353 363.5h1M354 316.5h1M354 352.5h1M354 367.5h1M355 317.5h1M355 350.5h1M355 367.5h1M356 348.5h1M357 350.5h1M357 351.5h1M358 307.5h1M359 341.5h1M359 343.5h1M359 372.5h1M360 339.5h1M361 331.5h1M361 336.5h1M361 391.5h1M362 336.5h1M362 348.5h1M362 389.5h1M364 329.5h1M364 371.5h1M365 314.5h1M365 339.5h1M366 380.5h1M367 331.5h1M367 351.5h1M370 336.5h1M372 335.5h1M372 344.5h1M376 376.5h1M384 366.5h1M385 330.5h1" stroke="#97d68b" stroke-width="1.0" stroke-opacity="1.0" clip-path="url(#cd)"/><path d="M241 350.5h1M245 346.5h1M247 337.5h1M248 337.5h1M248 355.5h1M249 338.5h1M249 345.5h1M249 361.5h1M250 337.5h1M250 343.5h1M250 344.5h1M250 372.5h1M250 375.5h1M250 376.5h1M250 383.5h1M251 346.5h1M251 349.5h1M251 352.5h1M251 359.5h1M251 361.5h1M251 362.5h1M251 374.5h1M251 381.5h1M252 331.5h1M252 339.5h1M252 344.5h1M252 347.5h1M252 350.5h1M252 373.5h1M252 374.5h1M252 381.5h1M252 382.5h1M253 337.5h1M253 338.5h1M253 346.5h1M253 347.5h1M253 351.5h1M253 360.5h1M253 361.5h1M253 364.5h1M253 373.5h1M253 381.5h1M254 337.5h1M254 338.5h1M254 339.5h1M254 347.5h1M254 350.5h1M254 352.5h1M254 354.5h1M254 356.5h1M254 360.5h1M254 365.5h1M254 366.5h1M254 375.5h1M255 341.5h1M255 346.5h1M255 349.5h1M255 350.5h1M255 355.5h1M255 356.5h1M255 358.5h1M255 359.5h1M255 361.5h1M255 363.5h1M255 366.5h1M255 372.5h1M255 373.5h1M256 345.5h1M256 347.5h1M256 348.5h1M256 362.5h1M256 363.5h1M256 365.5h1M256 370.5h1M256 372.5h1M257 341.5h1M257 343.5h1M257 345.5h1M257 346.5h1M257 347.5h1M257 352.5h1M257 363.5h1M257 365.5h1M257 366.5h1M257 367.5h1M257 368.5h1M257 372.5h1M258 345.5h1M258 352.5h1M258 353.5h1M258 359.5h1M258 360.5h1M258 369.5h1M258 371.5h1M259 334.5h1M259 339.5h1M259 343.5h1M259 348.5h1M259 352.5h1M259 356.5h1M259 358.5h1M259 360.5h1M259 362.5h1M259 364.5h1M259 371.5h1M259 374.5h1M260 332.5h1M260 333.5h1M260 339.5h1M260 346.5h1M260 348.5h1M260 351.5h1M260 361.5h1M260 365.5h1M260 366.5h1M260 370.5h1M260 373.5h1M260 387.5h1M261 334.5h1M261 338.5h1M261 346.5h1M261 347.5h1M261 349.5h1M261 350.5h1M261 353.5h1M261 362.5h1M261 371.5h1M261 373.5h1M261 374.5h1M261 378.5h1M262 334.5h1M262 336.5h1M262 337.5h1M262 338.5h1M262 343.5h1M262 349.5h1M262 354.5h1M262 362.5h1M262 365.5h1M262 366.5h1M262 367.5h1M262 369.5h1M262 371.5h1M262 375.5h1M262 378.5h1M263 329.5h1M263 330.5h1M263 331.5h1M263 338.5h1M263 342.5h1M263 343.5h1M263 350.5h1M263 352.5h1M263 362.5h1M263 363.5h1M263 364.5h1M263 366.5h1M263 368.5h1M263 373.5h1M263 376.5h1M263 379.5h1M263 380.5h1M263 383.5h1M264 323.5h1M264 324.5h1M264 331.5h1M264 334.5h1M264 341.5h1M264 342.5h1M264 343.5h1M264 344.5h1M264 346.5h1M264 347.5h1M264 349.5h1M264 353.5h1M264 370.5h1M264 374.5h1M264 377.5h1M264 379.5h1M265 323.5h1M265 330.5h1M265 334.5h1M265 337.5h1M265 338.5h1M265 345.5h1M265 346.5h1M265 347.5h1M265 349.5h1M265 352.5h1M265 353.5h1M265 366.5h1M265 367.5h1M265 372.5h1M265 373.5h1M265 376.5h1M265 377.5h1M265 381.5h1M265 385.5h1M266 333.5h1M266 337.5h1M266 340.5h1M266 345.5h1M266 353.5h1M266 356.5h1M266 363.5h1M266 365.5h1M266 366.5h1M266 371.5h1M266 374.5h1M266 378.5h1M266 379.5h1M266 385.5h1M267 331.5h1M267 333.5h1M267 335.5h1M267 339.5h1M267 347.5h1M267 349.5h1M267 350.5h1M267 351.5h1M267 352.5h1M267 353.5h1M267 355.5h1M267 356.5h1M267 363.5h1M267 364.5h1M267 367.5h1M267 368.5h1M267 369.5h1M267 384.5h1M267 385.5h1M268 336.5h1M268 340.5h1M268 346.5h1M268 348.5h1M268 352.5h1M268 367.5h1M268 370.5h1M268 373.5h1M268 374.5h1M268 377.5h1M268 382.5h1M268 384.5h1M268 385.5h1M268 386.5h1M269 335.5h1M269 344.5h1M269 346.5h1M269 349.5h1M269 354.5h1M269 364.5h1M269 371.5h1M269 374.5h1M269 378.5h1M269 380.5h1M269 382.5h1M270 328.5h1M270 338.5h1M270 339.5h1M270 341.5h1M270 344.5h1M270 352.5h1M270 353.5h1M270 355.5h1M270 367.5h1M270 370.5h1M270 380.5h1M271 330.5h1M271 337.5h1M271 338.5h1M271 339.5h1M271 342.5h1M271 344.5h1M271 347.5h1M271 348.5h1M271 350.5h1M271 351.5h1M271 354.5h1M271 356.5h1M271 366.5h1M271 367.5h1M271 368.5h1M271 369.5h1M271 371.5h1M271 374.5h1M271 382.5h1M271 383.5h1M272 326.5h1M272 327.5h1M272 328.5h1M272 330.5h1M272 339.5h1M272 342.5h1M272 344.5h1M272 347.5h1M272 365.5h1M272 372.5h1M272 374.5h1M272 375.5h1M272 378.5h1M272 381.5h1M272 382.5h1M272 383.5h1M273 338.5h1M273 340.5h1M273 344.5h1M273 347.5h1M273 370.5h1M273 372.5h1M273 377.5h1M273 380.5h1M273 382.5h1M274 327.5h1M274 331.5h1M274 337.5h1M274 353.5h1M274 354.5h1M274 356.5h1M274 369.5h1M274 371.5h1M274 372.5h1M274 375.5h1M274 377.5h1M274 378.5h1M274 379.5h1M274 383.5h1M274 384.5h1M274 385.5h1M275 325.5h1M275 327.5h1M275 334.5h1M275 336.5h1M275 338.5h1M275 341.5h1M275 342.5h1M275 343.5h1M275 353.5h1M275 369.5h1M275 374.5h1M275 383.5h1M276 326.5h1M276 327.5h1M276 328.5h1M276 329.5h1M276 333.5h1M276 336.5h1M276 337.5h1M276 340.5h1M276 375.5h1M276 378.5h1M276 379.5h1M276 385.5h1M277 325.5h1M277 336.5h1M277 337.5h1M277 354.5h1M277 364.5h1M277 378.5h1M277 390.5h1M278 326.5h1M278 329.5h1M278 331.5h1M278 335.5h1M278 338.5h1M278 340.5h1M278 341.5h1M278 352.5h1M278 353.5h1M278 354.5h1M278 364.5h1M278 378.5h1M278 384.5h1M279 328.5h1M279 330.5h1M279 336.5h1M279 337.5h1M279 378.5h1M279 379.5h1M279 385.5h1M280 328.5h1M280 329.5h1M280 330.5h1M280 339.5h1M280 363.5h1M280 383.5h1M280 384.5h1M280 385.5h1M281 321.5h1M281 323.5h1M281 326.5h1M281 332.5h1M281 333.5h1M281 381.5h1M281 383.5h1M281 384.5h1M282 322.5h1M282 323.5h1M282 325.5h1M282 330.5h1M282 331.5h1M282 333.5h1M282 334.5h1M282 336.5h1M282 338.5h1M282 378.5h1M282 379.5h1M282 383.5h1M282 384.5h1M283 319.5h1M283 322.5h1M283 323.5h1M283 326.5h1M283 328.5h1M283 333.5h1M283 335.5h1M283 338.5h1M283 339.5h1M283 377.5h1M283 380.5h1M283 383.5h1M283 384.5h1M284 318.5h1M284 322.5h1M284 325.5h1M284 328.5h1M284 329.5h1M284 330.5h1M284 383.5h1M284 386.5h1M285 320.5h1M285 321.5h1M285 325.5h1M285 328.5h1M285 332.5h1M285 338.5h1M285 378.5h1M285 380.5h1M285 381.5h1M285 382.5h1M285 384.5h1M286 311.5h1M286 312.5h1M286 317.5h1M286 319.5h1M286 322.5h1M286 323.5h1M286 325.5h1M286 335.5h1M286 384.5h1M286 387.5h1M287 313.5h1M287 319.5h1M287 323.5h1M287 326.5h1M287 336.5h1M287 338.5h1M287 383.5h1M287 384.5h1M287 385.5h1M288 319.5h1M288 321.5h1M288 326.5h1M288 381.5h1M288 384.5h1M288 386.5h1M288 389.5h1M289 322.5h1M289 323.5h1M290 321.5h1M290 383.5h1M290 384.5h1M290 385.5h1M290 387.5h1M290 389.5h1M291 320.5h1M291 386.5h1M291 388.5h1M292 318.5h1M292 388.5h1M292 391.5h1M293 316.5h1M293 385.5h1M293 390.5h1M294 317.5h1M294 319.5h1M294 391.5h1M295 316.5h1M295 390.5h1M295 391.5h1M295 392.5h1M296 316.5h1M296 379.5h1M296 393.5h1M297 315.5h1M297 394.5h1M298 388.5h1M298 389.5h1M298 394.5h1M298 395.5h1M299 314.5h1M299 381.5h1M299 391.5h1M300 313.5h1M300 384.5h1M300 391.5h1M301 311.5h1M301 312.5h1M301 314.5h1M301 385.5h1M301 390.5h1M302 308.5h1M302 311.5h1M302 312.5h1M302 313.5h1M302 386.5h1M302 389.5h1M303 306.5h1M303 308.5h1M303 383.5h1M303 385.5h1M303 386.5h1M303 389.5h1M303 390.5h1M304 307.5h1M304 309.5h1M304 311.5h1M304 312.5h1M304 384.5h1M305 307.5h1M305 312.5h1M305 313.5h1M305 314.5h1M305 382.5h1M306 308.5h1M306 383.5h1M307 307.5h1M307 309.5h1M307 310.5h1M307 312.5h1M307 381.5h1M307 391.5h1M308 309.5h1M308 384.5h1M308 386.5h1M308 389.5h1M309 385.5h1M309 387.5h1M309 389.5h1M310 303.5h1M310 306.5h1M310 311.5h1M310 383.5h1M310 385.5h1M311 304.5h1M311 305.5h1M311 311.5h1M311 383.5h1M311 386.5h1M311 387.5h1M311 389.5h1M312 387.5h1M313 382.5h1M313 384.5h1M313 386.5h1M313 387.5h1M314 311.5h1M314 383.5h1M314 384.5h1M314 386.5h1M314 387.5h1M316 305.5h1M316 306.5h1M316 311.5h1M316 312.5h1M316 350.5h1M316 356.5h1M316 382.5h1M316 383.5h1M316 385.5h1M317 304.5h1M317 306.5h1M317 307.5h1M317 312.5h1M317 313.5h1M317 347.5h1M317 349.5h1M317 350.5h1M317 354.5h1M317 380.5h1M317 381.5h1M317 384.5h1M318 305.5h1M318 307.5h1M318 355.5h1M319 373.5h1M319 374.5h1M319 376.5h1M319 380.5h1M320 312.5h1M320 348.5h1M320 375.5h1M320 377.5h1M320 378.5h1M321 312.5h1M321 347.5h1M321 368.5h1M321 369.5h1M321 370.5h1M321 373.5h1M321 379.5h1M321 381.5h1M321 382.5h1M322 308.5h1M322 310.5h1M322 369.5h1M322 371.5h1M323 307.5h1M323 352.5h1M323 356.5h1M323 370.5h1M323 380.5h1M324 308.5h1M324 310.5h1M324 313.5h1M324 343.5h1M324 350.5h1M324 352.5h1M324 355.5h1M324 357.5h1M324 358.5h1M324 359.5h1M324 361.5h1M324 366.5h1M324 371.5h1M325 308.5h1M325 309.5h1M325 342.5h1M325 343.5h1M325 344.5h1M325 349.5h1M325 355.5h1M325 361.5h1M325 364.5h1M325 366.5h1M325 369.5h1M325 370.5h1M326 315.5h1M326 337.5h1M326 338.5h1M326 340.5h1M326 346.5h1M326 353.5h1M326 357.5h1M326 360.5h1M326 361.5h1M326 363.5h1M326 365.5h1M326 367.5h1M326 369.5h1M326 370.5h1M327 310.5h1M327 311.5h1M327 312.5h1M327 314.5h1M327 315.5h1M327 331.5h1M327 334.5h1M327 335.5h1M327 337.5h1M327 338.5h1M327 346.5h1M327 347.5h1M327 349.5h1M327 350.5h1M327 352.5h1M327 354.5h1M327 355.5h1M327 361.5h1M327 362.5h1M327 369.5h1M327 370.5h1M328 327.5h1M328 334.5h1M328 339.5h1M328 341.5h1M328 352.5h1M328 356.5h1M328 367.5h1M329 309.5h1M329 310.5h1M329 315.5h1M329 318.5h1M329 319.5h1M329 334.5h1M329 344.5h1M329 345.5h1M329 347.5h1M329 352.5h1M329 353.5h1M329 355.5h1M329 361.5h1M329 362.5h1M329 367.5h1M329 372.5h1M329 374.5h1M330 329.5h1M330 330.5h1M330 331.5h1M330 332.5h1M330 333.5h1M330 336.5h1M330 337.5h1M330 339.5h1M330 340.5h1M330 343.5h1M330 345.5h1M330 347.5h1M330 368.5h1M330 373.5h1M330 374.5h1M331 311.5h1M331 313.5h1M331 315.5h1M331 316.5h1M331 332.5h1M331 335.5h1M331 337.5h1M331 339.5h1M331 341.5h1M331 345.5h1M331 346.5h1M331 360.5h1M331 363.5h1M331 364.5h1M331 365.5h1M331 367.5h1M332 312.5h1M332 328.5h1M332 329.5h1M332 334.5h1M332 336.5h1M332 338.5h1M332 361.5h1M332 367.5h1M333 314.5h1M333 325.5h1M333 355.5h1M333 361.5h1M333 362.5h1M334 313.5h1M334 314.5h1M334 322.5h1M334 326.5h1M335 312.5h1M335 317.5h1M335 321.5h1M335 324.5h1M335 354.5h1M336 314.5h1M336 324.5h1M336 346.5h1M337 314.5h1M337 316.5h1M337 319.5h1M337 321.5h1M337 323.5h1M337 344.5h1M338 322.5h1M338 323.5h1M338 328.5h1M338 330.5h1M338 335.5h1M338 345.5h1M339 316.5h1M339 319.5h1M339 323.5h1M339 329.5h1M340 314.5h1M340 316.5h1M340 319.5h1M340 320.5h1M340 321.5h1M340 324.5h1M340 328.5h1M340 330.5h1M341 317.5h1M342 307.5h1M342 316.5h1M342 318.5h1M342 320.5h1M342 322.5h1M342 354.5h1M342 355.5h1M343 313.5h1M343 316.5h1M344 305.5h1M344 306.5h1M344 307.5h1M344 314.5h1M344 317.5h1M345 311.5h1M345 313.5h1M345 315.5h1M345 316.5h1M346 305.5h1M346 306.5h1M346 309.5h1M346 311.5h1M346 312.5h1M347 310.5h1M347 311.5h1M348 309.5h1M349 310.5h1M350 309.5h1M352 315.5h1" stroke="#68c258" stroke-width="1.0" stroke-opacity="1.0" clip-path="url(#cd)"/><path d="M256 356.5h1M256 357.5h1M257 355.5h1M257 356.5h1M258 355.5h1M258 357.5h1M258 358.5h1M258 366.5h1M258 368.5h1M258 370.5h1M259 347.5h1M259 353.5h1M259 354.5h1M259 366.5h1M260 353.5h1M260 357.5h1M260 359.5h1M260 367.5h1M260 371.5h1M260 372.5h1M261 348.5h1M261 354.5h1M261 357.5h1M261 365.5h1M262 355.5h1M262 356.5h1M262 358.5h1M262 359.5h1M262 360.5h1M263 348.5h1M263 355.5h1M263 356.5h1M263 357.5h1M263 361.5h1M264 336.5h1M264 356.5h1M264 357.5h1M264 358.5h1M264 360.5h1M264 361.5h1M265 357.5h1M265 358.5h1M265 359.5h1M265 360.5h1M265 363.5h1M265 378.5h1M266 338.5h1M266 354.5h1M266 359.5h1M266 360.5h1M267 337.5h1M267 338.5h1M267 358.5h1M267 361.5h1M267 362.5h1M267 376.5h1M267 378.5h1M268 339.5h1M268 357.5h1M268 359.5h1M268 360.5h1M268 361.5h1M268 376.5h1M269 338.5h1M269 357.5h1M269 358.5h1M269 359.5h1M269 360.5h1M269 363.5h1M269 365.5h1M269 367.5h1M269 369.5h1M269 376.5h1M270 358.5h1M270 360.5h1M270 361.5h1M270 374.5h1M270 375.5h1M270 376.5h1M271 359.5h1M271 361.5h1M271 362.5h1M271 363.5h1M272 350.5h1M272 351.5h1M272 352.5h1M272 359.5h1M272 362.5h1M272 363.5h1M272 373.5h1M273 346.5h1M273 351.5h1M273 352.5h1M273 358.5h1M273 359.5h1M273 360.5h1M273 361.5h1M273 364.5h1M273 365.5h1M273 367.5h1M274 344.5h1M274 346.5h1M274 347.5h1M274 349.5h1M274 350.5h1M274 351.5h1M274 358.5h1M274 359.5h1M274 360.5h1M274 361.5h1M274 362.5h1M274 363.5h1M274 365.5h1M275 345.5h1M275 348.5h1M275 349.5h1M275 351.5h1M275 357.5h1M275 358.5h1M275 359.5h1M275 360.5h1M275 361.5h1M275 366.5h1M275 367.5h1M275 376.5h1M276 344.5h1M276 345.5h1M276 346.5h1M276 347.5h1M276 350.5h1M276 353.5h1M276 357.5h1M276 359.5h1M276 360.5h1M276 361.5h1M276 363.5h1M276 365.5h1M276 366.5h1M276 367.5h1M276 368.5h1M276 369.5h1M276 370.5h1M276 374.5h1M277 343.5h1M277 345.5h1M277 349.5h1M277 350.5h1M277 351.5h1M277 355.5h1M277 357.5h1M277 359.5h1M277 360.5h1M277 361.5h1M277 365.5h1M277 366.5h1M277 370.5h1M277 372.5h1M277 374.5h1M277 376.5h1M278 342.5h1M278 343.5h1M278 347.5h1M278 348.5h1M278 349.5h1M278 355.5h1M278 356.5h1M278 358.5h1M278 359.5h1M278 360.5h1M278 361.5h1M278 363.5h1M278 367.5h1M278 369.5h1M278 370.5h1M278 372.5h1M278 373.5h1M278 374.5h1M279 342.5h1M279 343.5h1M279 344.5h1M279 345.5h1M279 348.5h1M279 349.5h1M279 350.5h1M279 351.5h1M279 355.5h1M279 356.5h1M279 357.5h1M279 358.5h1M279 359.5h1M279 366.5h1M279 367.5h1M279 368.5h1M279 369.5h1M279 370.5h1M279 371.5h1M279 374.5h1M279 375.5h1M279 376.5h1M279 377.5h1M280 337.5h1M280 342.5h1M280 343.5h1M280 344.5h1M280 345.5h1M280 346.5h1M280 347.5h1M280 352.5h1M280 357.5h1M280 358.5h1M280 359.5h1M280 360.5h1M280 361.5h1M280 365.5h1M280 367.5h1M280 368.5h1M280 369.5h1M280 371.5h1M280 373.5h1M280 377.5h1M281 335.5h1M281 339.5h1M281 341.5h1M281 342.5h1M281 344.5h1M281 347.5h1M281 348.5h1M281 349.5h1M281 350.5h1M281 353.5h1M281 354.5h1M281 357.5h1M281 358.5h1M281 359.5h1M281 360.5h1M281 363.5h1M281 364.5h1M281 365.5h1M281 366.5h1M281 367.5h1M281 368.5h1M281 369.5h1M281 370.5h1M281 371.5h1M281 372.5h1M281 373.5h1M281 376.5h1M281 377.5h1M281 378.5h1M282 337.5h1M282 339.5h1M282 342.5h1M282 343.5h1M282 344.5h1M282 345.5h1M282 348.5h1M282 351.5h1M282 352.5h1M282 353.5h1M282 354.5h1M282 355.5h1M282 358.5h1M282 359.5h1M282 365.5h1M282 366.5h1M282 367.5h1M282 368.5h1M282 370.5h1M282 372.5h1M282 373.5h1M282 374.5h1M283 337.5h1M283 340.5h1M283 342.5h1M283 343.5h1M283 344.5h1M283 346.5h1M283 347.5h1M283 351.5h1M283 352.5h1M283 353.5h1M283 354.5h1M283 355.5h1M283 357.5h1M283 358.5h1M283 361.5h1M283 362.5h1M283 363.5h1M283 364.5h1M283 365.5h1M283 366.5h1M283 367.5h1M283 372.5h1M283 373.5h1M283 374.5h1M283 375.5h1M283 379.5h1M284 335.5h1M284 341.5h1M284 342.5h1M284 347.5h1M284 348.5h1M284 349.5h1M284 350.5h1M284 351.5h1M284 352.5h1M284 353.5h1M284 354.5h1M284 355.5h1M284 356.5h1M284 359.5h1M284 360.5h1M284 362.5h1M284 364.5h1M284 366.5h1M284 368.5h1M284 369.5h1M284 370.5h1M284 371.5h1M284 372.5h1M284 373.5h1M284 374.5h1M284 379.5h1M285 333.5h1M285 342.5h1M285 344.5h1M285 345.5h1M285 347.5h1M285 349.5h1M285 350.5h1M285 352.5h1M285 354.5h1M285 355.5h1M285 356.5h1M285 357.5h1M285 358.5h1M285 362.5h1M285 363.5h1M285 364.5h1M285 365.5h1M285 367.5h1M285 368.5h1M285 369.5h1M285 370.5h1M285 371.5h1M285 372.5h1M285 373.5h1M285 374.5h1M285 375.5h1M286 331.5h1M286 332.5h1M286 333.5h1M286 334.5h1M286 340.5h1M286 341.5h1M286 342.5h1M286 344.5h1M286 345.5h1M286 346.5h1M286 347.5h1M286 349.5h1M286 350.5h1M286 353.5h1M286 354.5h1M286 355.5h1M286 356.5h1M286 357.5h1M286 358.5h1M286 359.5h1M286 360.5h1M286 361.5h1M286 362.5h1M286 365.5h1M286 366.5h1M286 367.5h1M286 368.5h1M286 369.5h1M286 370.5h1M286 371.5h1M286 372.5h1M286 374.5h1M286 377.5h1M286 378.5h1M286 379.5h1M287 327.5h1M287 329.5h1M287 330.5h1M287 331.5h1M287 334.5h1M287 335.5h1M287 341.5h1M287 343.5h1M287 347.5h1M287 348.5h1M287 349.5h1M287 350.5h1M287 353.5h1M287 354.5h1M287 356.5h1M287 357.5h1M287 358.5h1M287 359.5h1M287 360.5h1M287 361.5h1M287 362.5h1M287 363.5h1M287 364.5h1M287 366.5h1M287 367.5h1M287 368.5h1M287 369.5h1M287 370.5h1M287 371.5h1M287 373.5h1M287 374.5h1M287 376.5h1M287 378.5h1M288 324.5h1M288 329.5h1M288 330.5h1M288 331.5h1M288 333.5h1M288 334.5h1M288 336.5h1M288 338.5h1M288 339.5h1M288 340.5h1M288 341.5h1M288 342.5h1M288 344.5h1M288 345.5h1M288 346.5h1M288 349.5h1M288 350.5h1M288 351.5h1M288 353.5h1M288 355.5h1M288 356.5h1M288 357.5h1M288 358.5h1M288 359.5h1M288 361.5h1M288 362.5h1M288 363.5h1M288 364.5h1M288 365.5h1M288 366.5h1M288 367.5h1M288 368.5h1M288 369.5h1M288 370.5h1M288 372.5h1M288 374.5h1M288 375.5h1M288 376.5h1M288 378.5h1M288 379.5h1M288 380.5h1M289 325.5h1M289 327.5h1M289 328.5h1M289 329.5h1M289 331.5h1M289 332.5h1M289 333.5h1M289 337.5h1M289 339.5h1M289 341.5h1M289 343.5h1M289 344.5h1M289 347.5h1M289 348.5h1M289 349.5h1M289 350.5h1M289 351.5h1M289 353.5h1M289 354.5h1M289 355.5h1M289 356.5h1M289 357.5h1M289 358.5h1M289 359.5h1M289 360.5h1M289 362.5h1M289 363.5h1M289 364.5h1M289 366.5h1M289 367.5h1M289 368.5h1M289 369.5h1M289 371.5h1M289 372.5h1M289 373.5h1M289 375.5h1M289 376.5h1M289 377.5h1M289 379.5h1M289 380.5h1M289 381.5h1M289 382.5h1M290 323.5h1M290 324.5h1M290 328.5h1M290 330.5h1M290 333.5h1M290 335.5h1M290 338.5h1M290 339.5h1M290 340.5h1M290 344.5h1M290 349.5h1M290 350.5h1M290 351.5h1M290 352.5h1M290 353.5h1M290 354.5h1M290 355.5h1M290 356.5h1M290 357.5h1M290 358.5h1M290 359.5h1M290 360.5h1M290 361.5h1M290 362.5h1M290 363.5h1M290 364.5h1M290 365.5h1M290 366.5h1M290 367.5h1M290 368.5h1M290 369.5h1M290 370.5h1M290 372.5h1M290 374.5h1M290 375.5h1M290 376.5h1M290 378.5h1M290 379.5h1M291 324.5h1M291 325.5h1M291 326.5h1M291 328.5h1M291 329.5h1M291 330.5h1M291 331.5h1M291 332.5h1M291 336.5h1M291 337.5h1M291 339.5h1M291 340.5h1M291 341.5h1M291 342.5h1M291 343.5h1M291 345.5h1M291 346.5h1M291 347.5h1M291 348.5h1M291 349.5h1M291 350.5h1M291 352.5h1M291 354.5h1M291 355.5h1M291 356.5h1M291 358.5h1M291 359.5h1M291 360.5h1M291 361.5h1M291 362.5h1M291 363.5h1M291 365.5h1M291 366.5h1M291 367.5h1M291 368.5h1M291 369.5h1M291 370.5h1M291 371.5h1M291 372.5h1M291 373.5h1M291 374.5h1M291 375.5h1M291 377.5h1M291 378.5h1M291 379.5h1M291 380.5h1M291 381.5h1M292 323.5h1M292 324.5h1M292 325.5h1M292 327.5h1M292 328.5h1M292 329.5h1M292 330.5h1M292 331.5h1M292 334.5h1M292 335.5h1M292 336.5h1M292 337.5h1M292 338.5h1M292 339.5h1M292 341.5h1M292 342.5h1M292 343.5h1M292 344.5h1M292 345.5h1M292 346.5h1M292 347.5h1M292 348.5h1M292 349.5h1M292 350.5h1M292 351.5h1M292 352.5h1M292 353.5h1M292 354.5h1M292 355.5h1M292 356.5h1M292 357.5h1M292 358.5h1M292 359.5h1M292 360.5h1M292 361.5h1M292 362.5h1M292 363.5h1M292 364.5h1M292 365.5h1M292 366.5h1M292 367.5h1M292 368.5h1M292 369.5h1M292 370.5h1M292 371.5h1M292 373.5h1M292 375.5h1M292 376.5h1M292 377.5h1M292 379.5h1M292 381.5h1M292 382.5h1M293 322.5h1M293 324.5h1M293 325.5h1M293 326.5h1M293 327.5h1M293 328.5h1M293 329.5h1M293 331.5h1M293 332.5h1M293 333.5h1M293 334.5h1M293 336.5h1M293 339.5h1M293 340.5h1M293 341.5h1M293 343.5h1M293 345.5h1M293 346.5h1M293 347.5h1M293 348.5h1M293 349.5h1M293 350.5h1M293 351.5h1M293 352.5h1M293 353.5h1M293 354.5h1M293 355.5h1M293 356.5h1M293 357.5h1M293 358.5h1M293 359.5h1M293 360.5h1M293 361.5h1M293 362.5h1M293 363.5h1M293 364.5h1M293 365.5h1M293 366.5h1M293 367.5h1M293 368.5h1M293 369.5h1M293 371.5h1M293 372.5h1M293 374.5h1M293 376.5h1M293 377.5h1M293 378.5h1M293 379.5h1M293 380.5h1M293 381.5h1M293 382.5h1M293 383.5h1M293 386.5h1M293 389.5h1M294 320.5h1M294 321.5h1M294 322.5h1M294 323.5h1M294 324.5h1M294 325.5h1M294 329.5h1M294 331.5h1M294 332.5h1M294 333.5h1M294 334.5h1M294 335.5h1M294 336.5h1M294 338.5h1M294 339.5h1M294 341.5h1M294 342.5h1M294 343.5h1M294 345.5h1M294 346.5h1M294 347.5h1M294 350.5h1M294 351.5h1M294 352.5h1M294 353.5h1M294 354.5h1M294 355.5h1M294 356.5h1M294 358.5h1M294 359.5h1M294 360.5h1M294 361.5h1M294 362.5h1M294 363.5h1M294 364.5h1M294 365.5h1M294 367.5h1M294 368.5h1M294 370.5h1M294 371.5h1M294 372.5h1M294 373.5h1M294 374.5h1M294 375.5h1M294 376.5h1M294 377.5h1M294 380.5h1M294 383.5h1M294 384.5h1M294 387.5h1M294 388.5h1M295 318.5h1M295 322.5h1M295 323.5h1M295 324.5h1M295 325.5h1M295 326.5h1M295 327.5h1M295 328.5h1M295 329.5h1M295 330.5h1M295 331.5h1M295 332.5h1M295 333.5h1M295 334.5h1M295 335.5h1M295 336.5h1M295 337.5h1M295 338.5h1M295 339.5h1M295 340.5h1M295 342.5h1M295 343.5h1M295 344.5h1M295 346.5h1M295 348.5h1M295 351.5h1M295 353.5h1M295 354.5h1M295 355.5h1M295 357.5h1M295 358.5h1M295 359.5h1M295 360.5h1M295 361.5h1M295 362.5h1M295 363.5h1M295 364.5h1M295 365.5h1M295 366.5h1M295 367.5h1M295 368.5h1M295 369.5h1M295 370.5h1M295 371.5h1M295 372.5h1M295 373.5h1M295 374.5h1M295 375.5h1M295 376.5h1M295 379.5h1M295 381.5h1M295 382.5h1M295 385.5h1M295 386.5h1M295 387.5h1M295 388.5h1M296 318.5h1M296 320.5h1M296 321.5h1M296 322.5h1M296 323.5h1M296 325.5h1M296 326.5h1M296 327.5h1M296 328.5h1M296 329.5h1M296 330.5h1M296 331.5h1M296 333.5h1M296 334.5h1M296 335.5h1M296 336.5h1M296 338.5h1M296 339.5h1M296 340.5h1M296 342.5h1M296 343.5h1M296 344.5h1M296 345.5h1M296 346.5h1M296 347.5h1M296 348.5h1M296 349.5h1M296 350.5h1M296 351.5h1M296 353.5h1M296 354.5h1M296 355.5h1M296 356.5h1M296 357.5h1M296 358.5h1M296 359.5h1M296 360.5h1M296 361.5h1M296 362.5h1M296 364.5h1M296 365.5h1M296 366.5h1M296 367.5h1M296 368.5h1M296 369.5h1M296 370.5h1M296 372.5h1M296 373.5h1M296 374.5h1M296 375.5h1M296 376.5h1M296 377.5h1M296 378.5h1M296 380.5h1M296 381.5h1M296 382.5h1M296 383.5h1M296 384.5h1M296 386.5h1M296 387.5h1M296 389.5h1M297 316.5h1M297 317.5h1M297 320.5h1M297 321.5h1M297 322.5h1M297 323.5h1M297 324.5h1M297 325.5h1M297 326.5h1M297 327.5h1M297 328.5h1M297 329.5h1M297 330.5h1M297 331.5h1M297 332.5h1M297 333.5h1M297 334.5h1M297 335.5h1M297 336.5h1M297 338.5h1M297 339.5h1M297 341.5h1M297 342.5h1M297 343.5h1M297 344.5h1M297 345.5h1M297 346.5h1M297 347.5h1M297 349.5h1M297 350.5h1M297 351.5h1M297 353.5h1M297 354.5h1M297 355.5h1M297 356.5h1M297 357.5h1M297 358.5h1M297 359.5h1M297 360.5h1M297 361.5h1M297 362.5h1M297 363.5h1M297 364.5h1M297 365.5h1M297 366.5h1M297 367.5h1M297 368.5h1M297 370.5h1M297 371.5h1M297 372.5h1M297 373.5h1M297 374.5h1M297 375.5h1M297 376.5h1M297 378.5h1M297 382.5h1M297 384.5h1M297 385.5h1M297 386.5h1M297 387.5h1M298 316.5h1M298 317.5h1M298 318.5h1M298 320.5h1M298 322.5h1M298 323.5h1M298 324.5h1M298 326.5h1M298 330.5h1M298 332.5h1M298 333.5h1M298 334.5h1M298 335.5h1M298 336.5h1M298 337.5h1M298 338.5h1M298 339.5h1M298 341.5h1M298 342.5h1M298 344.5h1M298 345.5h1M298 346.5h1M298 347.5h1M298 348.5h1M298 349.5h1M298 350.5h1M298 351.5h1M298 353.5h1M298 355.5h1M298 356.5h1M298 357.5h1M298 358.5h1M298 359.5h1M298 360.5h1M298 361.5h1M298 363.5h1M298 364.5h1M298 365.5h1M298 366.5h1M298 368.5h1M298 370.5h1M298 371.5h1M298 372.5h1M298 373.5h1M298 374.5h1M298 375.5h1M298 376.5h1M298 379.5h1M298 382.5h1M298 383.5h1M298 385.5h1M299 315.5h1M299 317.5h1M299 318.5h1M299 320.5h1M299 321.5h1M299 322.5h1M299 323.5h1M299 324.5h1M299 325.5h1M299 326.5h1M299 327.5h1M299 328.5h1M299 329.5h1M299 330.5h1M299 331.5h1M299 332.5h1M299 334.5h1M299 335.5h1M299 336.5h1M299 337.5h1M299 338.5h1M299 340.5h1M299 341.5h1M299 342.5h1M299 343.5h1M299 344.5h1M299 345.5h1M299 346.5h1M299 347.5h1M299 348.5h1M299 349.5h1M299 350.5h1M299 351.5h1M299 352.5h1M299 353.5h1M299 354.5h1M299 355.5h1M299 356.5h1M299 358.5h1M299 359.5h1M299 360.5h1M299 361.5h1M299 362.5h1M299 363.5h1M299 364.5h1M299 365.5h1M299 366.5h1M299 367.5h1M299 368.5h1M299 369.5h1M299 370.5h1M299 371.5h1M299 372.5h1M299 373.5h1M299 374.5h1M299 375.5h1M299 376.5h1M299 377.5h1M299 378.5h1M299 379.5h1M299 384.5h1M299 388.5h1M300 318.5h1M300 319.5h1M300 321.5h1M300 322.5h1M300 323.5h1M300 324.5h1M300 325.5h1M300 326.5h1M300 327.5h1M300 328.5h1M300 329.5h1M300 330.5h1M300 331.5h1M300 332.5h1M300 334.5h1M300 335.5h1M300 336.5h1M300 337.5h1M300 338.5h1M300 340.5h1M300 341.5h1M300 342.5h1M300 344.5h1M300 345.5h1M300 346.5h1M300 347.5h1M300 348.5h1M300 349.5h1M300 351.5h1M300 352.5h1M300 353.5h1M300 355.5h1M300 356.5h1M300 357.5h1M300 358.5h1M300 359.5h1M300 360.5h1M300 362.5h1M300 363.5h1M300 364.5h1M300 365.5h1M300 366.5h1M300 367.5h1M300 368.5h1M300 369.5h1M300 370.5h1M300 372.5h1M300 373.5h1M300 374.5h1M300 376.5h1M300 377.5h1M300 378.5h1M300 379.5h1M300 381.5h1M300 382.5h1M300 387.5h1M300 388.5h1M300 389.5h1M301 315.5h1M301 317.5h1M301 320.5h1M301 321.5h1M301 322.5h1M301 323.5h1M301 324.5h1M301 325.5h1M301 326.5h1M301 327.5h1M301 328.5h1M301 329.5h1M301 330.5h1M301 332.5h1M301 333.5h1M301 334.5h1M301 335.5h1M301 336.5h1M301 337.5h1M301 338.5h1M301 339.5h1M301 340.5h1M301 341.5h1M301 342.5h1M301 343.5h1M301 345.5h1M301 346.5h1M301 347.5h1M301 349.5h1M301 350.5h1M301 351.5h1M301 352.5h1M301 354.5h1M301 355.5h1M301 356.5h1M301 357.5h1M301 358.5h1M301 359.5h1M301 360.5h1M301 361.5h1M301 362.5h1M301 363.5h1M301 364.5h1M301 365.5h1M301 366.5h1M301 368.5h1M301 369.5h1M301 370.5h1M301 371.5h1M301 372.5h1M301 373.5h1M301 374.5h1M301 376.5h1M301 377.5h1M301 378.5h1M301 380.5h1M301 381.5h1M301 386.5h1M301 387.5h1M301 388.5h1M301 389.5h1M302 316.5h1M302 317.5h1M302 318.5h1M302 319.5h1M302 322.5h1M302 323.5h1M302 324.5h1M302 325.5h1M302 326.5h1M302 327.5h1M302 328.5h1M302 330.5h1M302 331.5h1M302 332.5h1M302 333.5h1M302 334.5h1M302 335.5h1M302 336.5h1M302 337.5h1M302 338.5h1M302 339.5h1M302 340.5h1M302 341.5h1M302 343.5h1M302 345.5h1M302 346.5h1M302 347.5h1M302 348.5h1M302 351.5h1M302 353.5h1M302 354.5h1M302 355.5h1M302 356.5h1M302 358.5h1M302 359.5h1M302 360.5h1M302 361.5h1M302 362.5h1M302 363.5h1M302 364.5h1M302 365.5h1M302 366.5h1M302 367.5h1M302 368.5h1M302 369.5h1M302 370.5h1M302 371.5h1M302 372.5h1M302 374.5h1M302 375.5h1M302 376.5h1M302 380.5h1M302 381.5h1M302 382.5h1M302 383.5h1M303 310.5h1M303 316.5h1M303 317.5h1M303 318.5h1M303 319.5h1M303 321.5h1M303 322.5h1M303 324.5h1M303 326.5h1M303 327.5h1M303 328.5h1M303 329.5h1M303 330.5h1M303 331.5h1M303 332.5h1M303 333.5h1M303 334.5h1M303 336.5h1M303 337.5h1M303 338.5h1M303 339.5h1M303 341.5h1M303 342.5h1M303 343.5h1M303 344.5h1M303 345.5h1M303 346.5h1M303 347.5h1M303 348.5h1M303 350.5h1M303 351.5h1M303 352.5h1M303 353.5h1M303 355.5h1M303 357.5h1M303 358.5h1M303 359.5h1M303 360.5h1M303 361.5h1M303 362.5h1M303 363.5h1M303 364.5h1M303 366.5h1M303 367.5h1M303 368.5h1M303 369.5h1M303 370.5h1M303 372.5h1M303 373.5h1M303 374.5h1M303 375.5h1M303 376.5h1M303 377.5h1M303 378.5h1M303 379.5h1M303 380.5h1M303 382.5h1M304 317.5h1M304 318.5h1M304 320.5h1M304 321.5h1M304 322.5h1M304 323.5h1M304 324.5h1M304 325.5h1M304 326.5h1M304 327.5h1M304 328.5h1M304 329.5h1M304 330.5h1M304 331.5h1M304 332.5h1M304 333.5h1M304 334.5h1M304 335.5h1M304 337.5h1M304 339.5h1M304 340.5h1M304 341.5h1M304 343.5h1M304 344.5h1M304 345.5h1M304 346.5h1M304 347.5h1M304 350.5h1M304 351.5h1M304 352.5h1M304 353.5h1M304 354.5h1M304 356.5h1M304 357.5h1M304 358.5h1M304 359.5h1M304 360.5h1M304 361.5h1M304 362.5h1M304 363.5h1M304 364.5h1M304 365.5h1M304 366.5h1M304 367.5h1M304 368.5h1M304 369.5h1M304 371.5h1M304 372.5h1M304 374.5h1M304 375.5h1M304 376.5h1M304 377.5h1M304 378.5h1M304 379.5h1M304 381.5h1M305 310.5h1M305 316.5h1M305 317.5h1M305 319.5h1M305 320.5h1M305 321.5h1M305 322.5h1M305 323.5h1M305 324.5h1M305 325.5h1M305 326.5h1M305 327.5h1M305 328.5h1M305 329.5h1M305 330.5h1M305 331.5h1M305 332.5h1M305 333.5h1M305 334.5h1M305 335.5h1M305 336.5h1M305 337.5h1M305 338.5h1M305 339.5h1M305 340.5h1M305 342.5h1M305 343.5h1M305 344.5h1M305 346.5h1M305 347.5h1M305 348.5h1M305 351.5h1M305 353.5h1M305 354.5h1M305 355.5h1M305 356.5h1M305 358.5h1M305 359.5h1M305 360.5h1M305 361.5h1M305 362.5h1M305 363.5h1M305 364.5h1M305 365.5h1M305 366.5h1M305 367.5h1M305 368.5h1M305 370.5h1M305 372.5h1M305 373.5h1M305 374.5h1M305 375.5h1M305 377.5h1M305 379.5h1M305 380.5h1M306 311.5h1M306 315.5h1M306 317.5h1M306 318.5h1M306 319.5h1M306 321.5h1M306 322.5h1M306 323.5h1M306 324.5h1M306 325.5h1M306 326.5h1M306 327.5h1M306 328.5h1M306 329.5h1M306 330.5h1M306 331.5h1M306 332.5h1M306 333.5h1M306 334.5h1M306 335.5h1M306 337.5h1M306 338.5h1M306 339.5h1M306 340.5h1M306 341.5h1M306 343.5h1M306 344.5h1M306 346.5h1M306 347.5h1M306 350.5h1M306 351.5h1M306 352.5h1M306 353.5h1M306 354.5h1M306 356.5h1M306 357.5h1M306 358.5h1M306 359.5h1M306 360.5h1M306 361.5h1M306 362.5h1M306 363.5h1M306 364.5h1M306 365.5h1M306 366.5h1M306 368.5h1M306 369.5h1M306 371.5h1M306 372.5h1M306 373.5h1M306 374.5h1M306 376.5h1M307 313.5h1M307 315.5h1M307 316.5h1M307 318.5h1M307 319.5h1M307 320.5h1M307 321.5h1M307 322.5h1M307 323.5h1M307 324.5h1M307 325.5h1M307 326.5h1M307 327.5h1M307 328.5h1M307 329.5h1M307 330.5h1M307 332.5h1M307 334.5h1M307 335.5h1M307 336.5h1M307 337.5h1M307 338.5h1M307 340.5h1M307 341.5h1M307 342.5h1M307 343.5h1M307 345.5h1M307 348.5h1M307 349.5h1M307 350.5h1M307 351.5h1M307 352.5h1M307 353.5h1M307 354.5h1M307 355.5h1M307 356.5h1M307 357.5h1M307 358.5h1M307 359.5h1M307 360.5h1M307 361.5h1M307 363.5h1M307 365.5h1M307 366.5h1M307 367.5h1M307 368.5h1M307 369.5h1M307 370.5h1M307 371.5h1M307 372.5h1M307 373.5h1M307 374.5h1M307 377.5h1M307 378.5h1M307 379.5h1M308 314.5h1M308 316.5h1M308 318.5h1M308 319.5h1M308 320.5h1M308 321.5h1M308 322.5h1M308 323.5h1M308 324.5h1M308 325.5h1M308 326.5h1M308 327.5h1M308 328.5h1M308 329.5h1M308 330.5h1M308 331.5h1M308 332.5h1M308 333.5h1M308 335.5h1M308 336.5h1M308 337.5h1M308 338.5h1M308 340.5h1M308 341.5h1M308 342.5h1M308 344.5h1M308 345.5h1M308 346.5h1M308 347.5h1M308 348.5h1M308 349.5h1M308 351.5h1M308 354.5h1M308 355.5h1M308 357.5h1M308 358.5h1M308 359.5h1M308 360.5h1M308 361.5h1M308 362.5h1M308 363.5h1M308 364.5h1M308 365.5h1M308 366.5h1M308 368.5h1M308 369.5h1M308 370.5h1M308 371.5h1M308 372.5h1M308 373.5h1M308 374.5h1M308 375.5h1M308 378.5h1M308 379.5h1M309 313.5h1M309 314.5h1M309 315.5h1M309 316.5h1M309 317.5h1M309 318.5h1M309 319.5h1M309 321.5h1M309 322.5h1M309 324.5h1M309 325.5h1M309 327.5h1M309 328.5h1M309 329.5h1M309 330.5h1M309 331.5h1M309 332.5h1M309 333.5h1M309 334.5h1M309 335.5h1M309 337.5h1M309 338.5h1M309 339.5h1M309 340.5h1M309 341.5h1M309 342.5h1M309 343.5h1M309 344.5h1M309 345.5h1M309 347.5h1M309 348.5h1M309 349.5h1M309 350.5h1M309 351.5h1M309 353.5h1M309 354.5h1M309 355.5h1M309 356.5h1M309 357.5h1M309 359.5h1M309 360.5h1M309 361.5h1M309 362.5h1M309 363.5h1M309 364.5h1M309 365.5h1M309 366.5h1M309 367.5h1M309 370.5h1M309 371.5h1M309 372.5h1M309 373.5h1M309 374.5h1M309 375.5h1M309 377.5h1M309 378.5h1M309 379.5h1M309 380.5h1M309 381.5h1M310 315.5h1M310 316.5h1M310 318.5h1M310 319.5h1M310 320.5h1M310 321.5h1M310 322.5h1M310 323.5h1M310 324.5h1M310 325.5h1M310 326.5h1M310 327.5h1M310 328.5h1M310 330.5h1M310 331.5h1M310 332.5h1M310 333.5h1M310 334.5h1M310 335.5h1M310 336.5h1M310 337.5h1M310 339.5h1M310 340.5h1M310 341.5h1M310 342.5h1M310 343.5h1M310 345.5h1M310 346.5h1M310 348.5h1M310 349.5h1M310 350.5h1M310 352.5h1M310 354.5h1M310 356.5h1M310 357.5h1M310 358.5h1M310 359.5h1M310 360.5h1M310 361.5h1M310 362.5h1M310 363.5h1M310 364.5h1M310 365.5h1M310 366.5h1M310 369.5h1M310 370.5h1M310 371.5h1M310 373.5h1M310 374.5h1M310 375.5h1M310 377.5h1M310 378.5h1M310 379.5h1M310 380.5h1M311 313.5h1M311 314.5h1M311 317.5h1M311 319.5h1M311 321.5h1M311 323.5h1M311 324.5h1M311 325.5h1M311 327.5h1M311 328.5h1M311 329.5h1M311 330.5h1M311 331.5h1M311 332.5h1M311 333.5h1M311 335.5h1M311 336.5h1M311 337.5h1M311 338.5h1M311 339.5h1M311 340.5h1M311 341.5h1M311 342.5h1M311 343.5h1M311 344.5h1M311 345.5h1M311 346.5h1M311 347.5h1M311 350.5h1M311 351.5h1M311 352.5h1M311 353.5h1M311 355.5h1M311 356.5h1M311 357.5h1M311 358.5h1M311 359.5h1M311 360.5h1M311 361.5h1M311 363.5h1M311 364.5h1M311 365.5h1M311 366.5h1M311 367.5h1M311 368.5h1M311 369.5h1M311 370.5h1M311 371.5h1M311 374.5h1M311 375.5h1M311 376.5h1M311 378.5h1M311 379.5h1M311 380.5h1M311 381.5h1M311 385.5h1M312 313.5h1M312 315.5h1M312 317.5h1M312 318.5h1M312 319.5h1M312 320.5h1M312 322.5h1M312 323.5h1M312 324.5h1M312 325.5h1M312 326.5h1M312 327.5h1M312 328.5h1M312 329.5h1M312 330.5h1M312 331.5h1M312 332.5h1M312 333.5h1M312 334.5h1M312 335.5h1M312 336.5h1M312 337.5h1M312 338.5h1M312 339.5h1M312 340.5h1M312 341.5h1M312 342.5h1M312 343.5h1M312 345.5h1M312 346.5h1M312 347.5h1M312 349.5h1M312 350.5h1M312 351.5h1M312 353.5h1M312 357.5h1M312 358.5h1M312 359.5h1M312 360.5h1M312 363.5h1M312 365.5h1M312 366.5h1M312 367.5h1M312 369.5h1M312 370.5h1M312 371.5h1M312 372.5h1M312 373.5h1M312 374.5h1M312 375.5h1M312 376.5h1M312 378.5h1M312 379.5h1M312 381.5h1M313 314.5h1M313 315.5h1M313 316.5h1M313 317.5h1M313 320.5h1M313 321.5h1M313 322.5h1M313 324.5h1M313 325.5h1M313 326.5h1M313 327.5h1M313 328.5h1M313 329.5h1M313 330.5h1M313 331.5h1M313 332.5h1M313 333.5h1M313 334.5h1M313 335.5h1M313 336.5h1M313 339.5h1M313 340.5h1M313 341.5h1M313 342.5h1M313 343.5h1M313 344.5h1M313 347.5h1M313 349.5h1M313 350.5h1M313 351.5h1M313 352.5h1M313 355.5h1M313 356.5h1M313 357.5h1M313 358.5h1M313 359.5h1M313 360.5h1M313 361.5h1M313 362.5h1M313 363.5h1M313 364.5h1M313 365.5h1M313 366.5h1M313 367.5h1M313 369.5h1M313 370.5h1M313 371.5h1M313 372.5h1M313 375.5h1M314 313.5h1M314 314.5h1M314 315.5h1M314 316.5h1M314 318.5h1M314 319.5h1M314 321.5h1M314 322.5h1M314 323.5h1M314 324.5h1M314 325.5h1M314 326.5h1M314 327.5h1M314 328.5h1M314 329.5h1M314 330.5h1M314 331.5h1M314 332.5h1M314 333.5h1M314 334.5h1M314 336.5h1M314 337.5h1M314 339.5h1M314 340.5h1M314 341.5h1M314 342.5h1M314 343.5h1M314 344.5h1M314 345.5h1M314 346.5h1M314 347.5h1M314 348.5h1M314 351.5h1M314 352.5h1M314 353.5h1M314 354.5h1M314 359.5h1M314 360.5h1M314 361.5h1M314 362.5h1M314 363.5h1M314 366.5h1M314 369.5h1M314 371.5h1M314 372.5h1M314 374.5h1M314 376.5h1M314 377.5h1M314 378.5h1M314 379.5h1M314 380.5h1M315 316.5h1M315 317.5h1M315 319.5h1M315 320.5h1M315 321.5h1M315 322.5h1M315 323.5h1M315 326.5h1M315 328.5h1M315 329.5h1M315 330.5h1M315 331.5h1M315 334.5h1M315 335.5h1M315 336.5h1M315 337.5h1M315 338.5h1M315 339.5h1M315 340.5h1M315 341.5h1M315 342.5h1M315 343.5h1M315 345.5h1M315 347.5h1M315 351.5h1M315 353.5h1M315 354.5h1M315 356.5h1M315 357.5h1M315 358.5h1M315 360.5h1M315 361.5h1M315 362.5h1M315 363.5h1M315 364.5h1M315 365.5h1M315 366.5h1M315 367.5h1M315 368.5h1M315 369.5h1M315 371.5h1M315 372.5h1M315 373.5h1M315 374.5h1M315 375.5h1M315 376.5h1M315 377.5h1M315 381.5h1M315 382.5h1M316 313.5h1M316 314.5h1M316 316.5h1M316 317.5h1M316 318.5h1M316 320.5h1M316 321.5h1M316 322.5h1M316 323.5h1M316 324.5h1M316 325.5h1M316 326.5h1M316 327.5h1M316 328.5h1M316 329.5h1M316 330.5h1M316 331.5h1M316 333.5h1M316 334.5h1M316 335.5h1M316 336.5h1M316 337.5h1M316 338.5h1M316 339.5h1M316 340.5h1M316 343.5h1M316 344.5h1M316 346.5h1M316 348.5h1M316 351.5h1M316 352.5h1M316 353.5h1M316 358.5h1M316 359.5h1M316 361.5h1M316 362.5h1M316 364.5h1M316 365.5h1M316 366.5h1M316 367.5h1M316 368.5h1M316 369.5h1M316 372.5h1M316 374.5h1M316 375.5h1M316 377.5h1M316 378.5h1M316 379.5h1M316 381.5h1M317 314.5h1M317 315.5h1M317 316.5h1M317 317.5h1M317 318.5h1M317 319.5h1M317 320.5h1M317 322.5h1M317 323.5h1M317 324.5h1M317 325.5h1M317 326.5h1M317 327.5h1M317 328.5h1M317 329.5h1M317 331.5h1M317 334.5h1M317 335.5h1M317 336.5h1M317 338.5h1M317 339.5h1M317 340.5h1M317 345.5h1M317 346.5h1M317 358.5h1M317 359.5h1M317 360.5h1M317 364.5h1M317 365.5h1M317 366.5h1M317 367.5h1M317 368.5h1M317 370.5h1M317 371.5h1M317 373.5h1M317 375.5h1M317 376.5h1M317 377.5h1M317 378.5h1M317 379.5h1M318 316.5h1M318 317.5h1M318 318.5h1M318 323.5h1M318 324.5h1M318 325.5h1M318 326.5h1M318 327.5h1M318 328.5h1M318 329.5h1M318 330.5h1M318 331.5h1M318 332.5h1M318 333.5h1M318 334.5h1M318 336.5h1M318 337.5h1M318 338.5h1M318 339.5h1M318 340.5h1M318 341.5h1M318 342.5h1M318 344.5h1M318 345.5h1M318 346.5h1M318 352.5h1M318 360.5h1M318 362.5h1M318 364.5h1M318 367.5h1M318 368.5h1M318 369.5h1M318 370.5h1M318 371.5h1M318 372.5h1M318 377.5h1M319 314.5h1M319 315.5h1M319 316.5h1M319 317.5h1M319 318.5h1M319 319.5h1M319 320.5h1M319 321.5h1M319 322.5h1M319 323.5h1M319 324.5h1M319 325.5h1M319 326.5h1M319 327.5h1M319 328.5h1M319 329.5h1M319 330.5h1M319 331.5h1M319 332.5h1M319 333.5h1M319 334.5h1M319 335.5h1M319 336.5h1M319 338.5h1M319 339.5h1M319 341.5h1M319 342.5h1M319 344.5h1M319 349.5h1M319 351.5h1M319 353.5h1M319 355.5h1M319 357.5h1M319 360.5h1M319 361.5h1M319 362.5h1M319 365.5h1M319 366.5h1M319 367.5h1M319 371.5h1M319 377.5h1M320 314.5h1M320 316.5h1M320 317.5h1M320 319.5h1M320 321.5h1M320 322.5h1M320 324.5h1M320 325.5h1M320 326.5h1M320 328.5h1M320 329.5h1M320 330.5h1M320 331.5h1M320 332.5h1M320 333.5h1M320 334.5h1M320 335.5h1M320 336.5h1M320 337.5h1M320 338.5h1M320 339.5h1M320 340.5h1M320 342.5h1M320 343.5h1M320 344.5h1M320 349.5h1M320 351.5h1M320 352.5h1M320 353.5h1M320 354.5h1M320 355.5h1M320 356.5h1M320 359.5h1M320 360.5h1M320 361.5h1M320 363.5h1M320 365.5h1M320 366.5h1M320 367.5h1M320 371.5h1M321 314.5h1M321 315.5h1M321 316.5h1M321 317.5h1M321 318.5h1M321 319.5h1M321 320.5h1M321 321.5h1M321 322.5h1M321 323.5h1M321 325.5h1M321 326.5h1M321 328.5h1M321 329.5h1M321 330.5h1M321 332.5h1M321 334.5h1M321 335.5h1M321 336.5h1M321 337.5h1M321 338.5h1M321 341.5h1M321 342.5h1M321 343.5h1M321 344.5h1M321 348.5h1M321 349.5h1M321 350.5h1M321 352.5h1M321 353.5h1M321 354.5h1M321 356.5h1M321 357.5h1M321 358.5h1M321 359.5h1M321 361.5h1M321 363.5h1M321 365.5h1M322 314.5h1M322 318.5h1M322 319.5h1M322 320.5h1M322 321.5h1M322 322.5h1M322 323.5h1M322 324.5h1M322 325.5h1M322 326.5h1M322 327.5h1M322 328.5h1M322 329.5h1M322 330.5h1M322 331.5h1M322 332.5h1M322 333.5h1M322 334.5h1M322 335.5h1M322 336.5h1M322 337.5h1M322 338.5h1M322 340.5h1M322 344.5h1M322 347.5h1M322 349.5h1M322 350.5h1M322 352.5h1M322 355.5h1M322 358.5h1M322 359.5h1M322 363.5h1M322 365.5h1M322 367.5h1M323 311.5h1M323 312.5h1M323 314.5h1M323 316.5h1M323 317.5h1M323 318.5h1M323 319.5h1M323 320.5h1M323 321.5h1M323 322.5h1M323 323.5h1M323 324.5h1M323 325.5h1M323 327.5h1M323 328.5h1M323 329.5h1M323 331.5h1M323 332.5h1M323 333.5h1M323 335.5h1M323 336.5h1M323 338.5h1M323 339.5h1M323 340.5h1M323 341.5h1M323 342.5h1M323 344.5h1M323 346.5h1M323 347.5h1M323 348.5h1M323 359.5h1M323 363.5h1M323 365.5h1M324 312.5h1M324 318.5h1M324 319.5h1M324 321.5h1M324 323.5h1M324 324.5h1M324 325.5h1M324 326.5h1M324 327.5h1M324 328.5h1M324 329.5h1M324 330.5h1M324 331.5h1M324 332.5h1M324 334.5h1M324 335.5h1M324 336.5h1M324 337.5h1M324 339.5h1M324 340.5h1M324 346.5h1M324 347.5h1M324 348.5h1M324 363.5h1M324 365.5h1M324 367.5h1M325 311.5h1M325 312.5h1M325 313.5h1M325 314.5h1M325 316.5h1M325 318.5h1M325 319.5h1M325 320.5h1M325 324.5h1M325 325.5h1M325 327.5h1M325 328.5h1M325 329.5h1M325 330.5h1M325 332.5h1M325 333.5h1M325 339.5h1M325 341.5h1M325 347.5h1M325 348.5h1M326 317.5h1M326 318.5h1M326 319.5h1M326 320.5h1M326 321.5h1M326 322.5h1M326 323.5h1M326 324.5h1M326 325.5h1M326 327.5h1M326 328.5h1M326 330.5h1M326 332.5h1M326 333.5h1M327 318.5h1M327 321.5h1M327 322.5h1M327 323.5h1M327 324.5h1M327 325.5h1M327 326.5h1M327 328.5h1M327 330.5h1M328 317.5h1M328 318.5h1M328 320.5h1M328 322.5h1M328 326.5h1M328 331.5h1M329 320.5h1M329 322.5h1M329 324.5h1M329 332.5h1M329 336.5h1M329 337.5h1M330 316.5h1M330 320.5h1M330 321.5h1M330 322.5h1M330 323.5h1M330 324.5h1M330 326.5h1M331 317.5h1M331 322.5h1M331 324.5h1M331 325.5h1M331 326.5h1M332 315.5h1M332 316.5h1M332 317.5h1M332 318.5h1M332 320.5h1M332 322.5h1M332 324.5h1M332 325.5h1M332 326.5h1M332 327.5h1M333 319.5h1M333 320.5h1M333 326.5h1M334 316.5h1M334 318.5h1M334 319.5h1M334 320.5h1M335 320.5h1M336 316.5h1M336 318.5h1M337 318.5h1M338 316.5h1M338 317.5h1M338 318.5h1" stroke="#41ae32" stroke-width="1.0" stroke-opacity="1.0" clip-path="url(#cd)"/><path d="M310 275.5h1M310 286.5h1M311 240.5h1M317 313.5h1M318 330.5h1M320 288.5h1M322 303.5h1M324 270.5h1M325 287.5h1M325 296.5h1M325 325.5h1M326 300.5h1M326 306.5h1M327 288.5h1M327 295.5h1M328 290.5h1M329 306.5h1M330 273.5h1M330 291.5h1M330 300.5h1M331 276.5h1M331 335.5h1M332 310.5h1M332 313.5h1M333 277.5h1M333 306.5h1M334 292.5h1M334 317.5h1M335 280.5h1M335 282.5h1M335 297.5h1M335 300.5h1M335 305.5h1M336 289.5h1M336 290.5h1M336 291.5h1M336 292.5h1M336 300.5h1M337 277.5h1M337 285.5h1M337 297.5h1M337 309.5h1M337 314.5h1M338 274.5h1M338 283.5h1M338 308.5h1M338 332.5h1M339 277.5h1M339 280.5h1M339 281.5h1M339 289.5h1M339 293.5h1M339 311.5h1M340 280.5h1M340 281.5h1M340 286.5h1M340 293.5h1M340 300.5h1M340 308.5h1M341 285.5h1M341 289.5h1M341 302.5h1M341 308.5h1M341 313.5h1M341 317.5h1M342 265.5h1M342 292.5h1M342 312.5h1M343 260.5h1M343 267.5h1M343 274.5h1M343 303.5h1M343 322.5h1M344 269.5h1M344 282.5h1M344 290.5h1M344 297.5h1M344 308.5h1M344 311.5h1M344 323.5h1M345 271.5h1M345 288.5h1M345 302.5h1M345 312.5h1M345 317.5h1M345 329.5h1M346 256.5h1M346 260.5h1M346 266.5h1M346 269.5h1M346 275.5h1M346 276.5h1M346 278.5h1M346 294.5h1M346 301.5h1M346 304.5h1M346 305.5h1M346 328.5h1M347 271.5h1M347 279.5h1M347 290.5h1M347 294.5h1M347 308.5h1M347 309.5h1M348 254.5h1M348 261.5h1M348 262.5h1M348 289.5h1M348 310.5h1M348 316.5h1M349 267.5h1M349 274.5h1M349 301.5h1M349 311.5h1M350 270.5h1M350 281.5h1M350 312.5h1M350 326.5h1M350 328.5h1M351 308.5h1M352 266.5h1M352 273.5h1M353 250.5h1M353 264.5h1M354 248.5h1M354 260.5h1M354 261.5h1M354 264.5h1M355 234.5h1M355 249.5h1M355 265.5h1M355 327.5h1M356 261.5h1M356 265.5h1M356 320.5h1M356 321.5h1M356 327.5h1M357 255.5h1M357 258.5h1M358 245.5h1M358 246.5h1M358 248.5h1M358 262.5h1M358 332.5h1M359 234.5h1M359 255.5h1M359 324.5h1M360 255.5h1M360 324.5h1M360 330.5h1M361 261.5h1M361 317.5h1M362 253.5h1M362 314.5h1M362 315.5h1M362 321.5h1M363 255.5h1M363 258.5h1M363 318.5h1M363 327.5h1M364 246.5h1M364 319.5h1M365 248.5h1M365 322.5h1M365 333.5h1M366 254.5h1M366 257.5h1M366 318.5h1M366 323.5h1M366 347.5h1M367 242.5h1M367 258.5h1M367 329.5h1M368 237.5h1M368 249.5h1M368 264.5h1M369 252.5h1M369 311.5h1M369 328.5h1M370 255.5h1M370 257.5h1M370 261.5h1M370 310.5h1M370 315.5h1M370 324.5h1M371 244.5h1M371 262.5h1M371 323.5h1M371 335.5h1M372 249.5h1M372 253.5h1M372 259.5h1M373 311.5h1M373 343.5h1M374 263.5h1M374 308.5h1M374 311.5h1M375 245.5h1M375 246.5h1M375 316.5h1M375 318.5h1M376 246.5h1M377 255.5h1M377 259.5h1M377 309.5h1M377 316.5h1M377 324.5h1M378 256.5h1M378 295.5h1M378 302.5h1M379 222.5h1M379 239.5h1M379 305.5h1M379 307.5h1M379 310.5h1M380 253.5h1M380 254.5h1M380 259.5h1M380 306.5h1M380 310.5h1M381 297.5h1M381 302.5h1M381 305.5h1M382 300.5h1M382 301.5h1M382 333.5h1M383 240.5h1M383 268.5h1M384 226.5h1M384 259.5h1M384 282.5h1M384 306.5h1M384 314.5h1M385 261.5h1M385 267.5h1M385 303.5h1M385 304.5h1M385 310.5h1M386 262.5h1M386 268.5h1M386 269.5h1M386 299.5h1M386 300.5h1M386 305.5h1M387 243.5h1M387 296.5h1M388 259.5h1M388 260.5h1M388 272.5h1M388 291.5h1M389 255.5h1M389 259.5h1M389 287.5h1M389 292.5h1M389 294.5h1M389 301.5h1M389 303.5h1M390 287.5h1M390 300.5h1M391 252.5h1M391 265.5h1M391 273.5h1M391 304.5h1M392 248.5h1M392 262.5h1M392 276.5h1M392 284.5h1M392 289.5h1M393 273.5h1M393 277.5h1M393 281.5h1M393 291.5h1M393 294.5h1M393 295.5h1M394 277.5h1M394 280.5h1M394 287.5h1M394 311.5h1M395 262.5h1M395 266.5h1M395 267.5h1M395 274.5h1M395 285.5h1M395 286.5h1M395 289.5h1M396 282.5h1M396 292.5h1M396 299.5h1M396 313.5h1M397 279.5h1M397 286.5h1M397 307.5h1M398 268.5h1M398 272.5h1M398 274.5h1M398 302.5h1M399 269.5h1M400 231.5h1M400 273.5h1M400 295.5h1M401 284.5h1M401 307.5h1M402 280.5h1M402 282.5h1M402 300.5h1M402 301.5h1M403 281.5h1M403 293.5h1M404 266.5h1M404 273.5h1M404 294.5h1M404 307.5h1M407 262.5h1M408 273.5h1M409 271.5h1M411 273.5h1M412 276.5h1M412 282.5h1M416 299.5h1M418 258.5h1" stroke="#9dd5e8" stroke-width="1.0" stroke-opacity="1.0" clip-path="url(#cd)"/><path d="M336 299.5h1M337 298.5h1M337 299.5h1M340 290.5h1M342 288.5h1M342 290.5h1M343 284.5h1M345 282.5h1M345 284.5h1M345 285.5h1M345 310.5h1M345 322.5h1M346 284.5h1M346 287.5h1M346 296.5h1M346 321.5h1M347 278.5h1M347 282.5h1M347 285.5h1M347 296.5h1M347 301.5h1M347 320.5h1M347 322.5h1M348 271.5h1M348 280.5h1M348 285.5h1M348 286.5h1M348 298.5h1M348 321.5h1M349 269.5h1M349 278.5h1M349 284.5h1M349 285.5h1M349 286.5h1M349 290.5h1M349 296.5h1M349 299.5h1M349 303.5h1M349 304.5h1M349 305.5h1M349 318.5h1M349 322.5h1M349 324.5h1M350 269.5h1M350 274.5h1M350 279.5h1M350 292.5h1M350 294.5h1M350 298.5h1M350 299.5h1M350 305.5h1M350 317.5h1M350 320.5h1M351 269.5h1M351 276.5h1M351 277.5h1M351 281.5h1M351 284.5h1M351 290.5h1M351 292.5h1M351 294.5h1M351 295.5h1M351 298.5h1M351 304.5h1M351 306.5h1M351 317.5h1M351 318.5h1M351 319.5h1M351 321.5h1M351 322.5h1M351 324.5h1M352 275.5h1M352 276.5h1M352 277.5h1M352 283.5h1M352 287.5h1M352 288.5h1M352 291.5h1M352 295.5h1M352 297.5h1M352 298.5h1M352 302.5h1M352 303.5h1M352 304.5h1M352 305.5h1M352 309.5h1M352 311.5h1M352 313.5h1M352 317.5h1M352 318.5h1M353 269.5h1M353 278.5h1M353 279.5h1M353 280.5h1M353 283.5h1M353 285.5h1M353 286.5h1M353 295.5h1M353 298.5h1M353 301.5h1M353 305.5h1M353 308.5h1M353 309.5h1M353 312.5h1M353 314.5h1M353 315.5h1M353 317.5h1M353 321.5h1M353 322.5h1M353 324.5h1M354 270.5h1M354 271.5h1M354 275.5h1M354 291.5h1M354 292.5h1M354 294.5h1M354 295.5h1M354 300.5h1M354 304.5h1M354 316.5h1M354 324.5h1M354 326.5h1M355 269.5h1M355 270.5h1M355 272.5h1M355 281.5h1M355 285.5h1M355 296.5h1M355 298.5h1M355 300.5h1M355 304.5h1M355 305.5h1M355 323.5h1M356 275.5h1M356 278.5h1M356 283.5h1M356 284.5h1M356 285.5h1M356 292.5h1M356 299.5h1M356 300.5h1M356 301.5h1M356 304.5h1M356 317.5h1M356 325.5h1M357 264.5h1M357 268.5h1M357 271.5h1M357 272.5h1M357 275.5h1M357 278.5h1M357 292.5h1M357 294.5h1M357 295.5h1M357 296.5h1M357 299.5h1M357 303.5h1M357 317.5h1M357 318.5h1M358 265.5h1M358 268.5h1M358 269.5h1M358 271.5h1M358 293.5h1M358 296.5h1M358 300.5h1M358 317.5h1M358 318.5h1M359 263.5h1M359 265.5h1M359 266.5h1M359 268.5h1M359 271.5h1M359 291.5h1M359 306.5h1M359 310.5h1M359 314.5h1M360 268.5h1M360 290.5h1M360 293.5h1M360 294.5h1M360 297.5h1M360 300.5h1M360 306.5h1M360 307.5h1M360 312.5h1M361 257.5h1M361 265.5h1M361 268.5h1M361 269.5h1M361 291.5h1M361 308.5h1M361 309.5h1M361 311.5h1M362 259.5h1M362 260.5h1M362 264.5h1M362 269.5h1M362 271.5h1M362 272.5h1M362 283.5h1M362 291.5h1M362 293.5h1M362 301.5h1M362 304.5h1M362 306.5h1M362 309.5h1M362 311.5h1M363 262.5h1M363 264.5h1M363 272.5h1M363 283.5h1M363 291.5h1M363 295.5h1M363 298.5h1M363 299.5h1M363 304.5h1M363 305.5h1M363 311.5h1M363 313.5h1M364 261.5h1M364 265.5h1M364 266.5h1M364 292.5h1M364 296.5h1M364 304.5h1M364 305.5h1M364 307.5h1M364 310.5h1M364 311.5h1M364 316.5h1M365 257.5h1M365 263.5h1M365 265.5h1M365 272.5h1M365 276.5h1M365 282.5h1M365 298.5h1M365 299.5h1M365 302.5h1M365 309.5h1M365 312.5h1M366 261.5h1M366 273.5h1M366 283.5h1M366 296.5h1M366 299.5h1M366 309.5h1M366 310.5h1M366 312.5h1M366 314.5h1M366 315.5h1M366 317.5h1M367 259.5h1M367 261.5h1M367 266.5h1M367 267.5h1M367 282.5h1M367 299.5h1M367 305.5h1M367 306.5h1M367 310.5h1M367 314.5h1M368 261.5h1M368 263.5h1M368 269.5h1M368 270.5h1M368 281.5h1M368 299.5h1M368 300.5h1M368 312.5h1M368 315.5h1M369 269.5h1M369 279.5h1M369 282.5h1M369 300.5h1M369 302.5h1M369 307.5h1M370 267.5h1M370 278.5h1M370 280.5h1M370 281.5h1M370 284.5h1M370 286.5h1M370 305.5h1M370 309.5h1M371 265.5h1M371 267.5h1M371 269.5h1M371 276.5h1M371 283.5h1M371 302.5h1M371 305.5h1M372 269.5h1M372 277.5h1M372 287.5h1M372 290.5h1M372 299.5h1M372 307.5h1M372 309.5h1M373 264.5h1M373 266.5h1M373 267.5h1M373 286.5h1M373 287.5h1M373 291.5h1M373 299.5h1M373 300.5h1M373 302.5h1M373 307.5h1M374 266.5h1M374 286.5h1M374 287.5h1M374 290.5h1M374 293.5h1M374 294.5h1M374 303.5h1M374 304.5h1M374 306.5h1M375 265.5h1M375 266.5h1M375 269.5h1M375 294.5h1M375 295.5h1M375 297.5h1M375 300.5h1M375 302.5h1M375 303.5h1M376 262.5h1M376 265.5h1M376 267.5h1M376 269.5h1M376 286.5h1M376 290.5h1M376 297.5h1M376 300.5h1M376 304.5h1M377 260.5h1M377 261.5h1M377 264.5h1M377 265.5h1M377 269.5h1M377 289.5h1M377 290.5h1M377 291.5h1M377 296.5h1M377 298.5h1M377 299.5h1M377 300.5h1M378 258.5h1M378 267.5h1M378 271.5h1M378 274.5h1M378 276.5h1M378 277.5h1M378 290.5h1M378 292.5h1M378 296.5h1M378 299.5h1M379 262.5h1M379 271.5h1M379 273.5h1M379 289.5h1M379 290.5h1M380 260.5h1M380 261.5h1M380 262.5h1M380 265.5h1M380 266.5h1M380 267.5h1M380 270.5h1M380 271.5h1M380 281.5h1M380 283.5h1M380 284.5h1M380 292.5h1M380 296.5h1M380 304.5h1M381 265.5h1M381 271.5h1M381 274.5h1M381 276.5h1M381 277.5h1M381 278.5h1M381 280.5h1M381 281.5h1M381 289.5h1M381 292.5h1M381 296.5h1M382 263.5h1M382 264.5h1M382 265.5h1M382 270.5h1M382 273.5h1M382 274.5h1M382 294.5h1M382 295.5h1M383 270.5h1M383 271.5h1M383 275.5h1M383 278.5h1M383 284.5h1M383 286.5h1M383 287.5h1M383 289.5h1M383 291.5h1M383 295.5h1M384 261.5h1M384 273.5h1M384 285.5h1M384 287.5h1M384 288.5h1M384 291.5h1M384 295.5h1M384 296.5h1M385 274.5h1M385 275.5h1M385 279.5h1M385 283.5h1M385 290.5h1M385 291.5h1M385 292.5h1M385 293.5h1M385 294.5h1M385 296.5h1M386 261.5h1M386 272.5h1M386 274.5h1M386 275.5h1M386 277.5h1M386 281.5h1M386 283.5h1M386 287.5h1M386 288.5h1M386 291.5h1M386 297.5h1M387 273.5h1M387 275.5h1M387 277.5h1M387 278.5h1M387 285.5h1M387 289.5h1M388 267.5h1M388 274.5h1M388 280.5h1M388 301.5h1M389 268.5h1M389 276.5h1M389 278.5h1M389 281.5h1M389 283.5h1M390 267.5h1M390 269.5h1M390 280.5h1M390 281.5h1M390 282.5h1M391 268.5h1M391 269.5h1M391 275.5h1M391 280.5h1M391 281.5h1M391 282.5h1M392 268.5h1M392 269.5h1M393 275.5h1M394 267.5h1M394 268.5h1" stroke="#72c3de" stroke-width="1.0" stroke-opacity="1.0" clip-path="url(#cd)"/><path d="M347 284.5h1M352 292.5h1M352 294.5h1M353 287.5h1M353 290.5h1M354 278.5h1M354 288.5h1M354 289.5h1M354 302.5h1M354 307.5h1M354 308.5h1M354 309.5h1M355 278.5h1M355 279.5h1M355 286.5h1M355 287.5h1M355 288.5h1M355 289.5h1M355 290.5h1M355 293.5h1M355 308.5h1M355 309.5h1M355 310.5h1M355 312.5h1M356 276.5h1M356 279.5h1M356 280.5h1M356 287.5h1M356 291.5h1M356 307.5h1M356 308.5h1M356 309.5h1M356 312.5h1M356 313.5h1M356 314.5h1M356 315.5h1M357 274.5h1M357 276.5h1M357 277.5h1M357 279.5h1M357 281.5h1M357 282.5h1M357 288.5h1M357 289.5h1M357 291.5h1M357 297.5h1M357 305.5h1M357 307.5h1M357 308.5h1M357 310.5h1M357 311.5h1M357 312.5h1M357 313.5h1M357 314.5h1M357 315.5h1M358 270.5h1M358 273.5h1M358 274.5h1M358 275.5h1M358 281.5h1M358 282.5h1M358 283.5h1M358 285.5h1M358 286.5h1M358 287.5h1M358 288.5h1M358 289.5h1M358 298.5h1M358 302.5h1M358 304.5h1M358 306.5h1M358 313.5h1M358 314.5h1M358 315.5h1M359 272.5h1M359 275.5h1M359 280.5h1M359 281.5h1M359 282.5h1M359 283.5h1M359 286.5h1M359 287.5h1M359 288.5h1M359 289.5h1M359 290.5h1M359 296.5h1M359 297.5h1M359 299.5h1M359 302.5h1M359 303.5h1M359 305.5h1M359 313.5h1M359 315.5h1M360 267.5h1M360 272.5h1M360 273.5h1M360 274.5h1M360 275.5h1M360 276.5h1M360 279.5h1M360 282.5h1M360 284.5h1M360 287.5h1M360 288.5h1M360 301.5h1M360 303.5h1M361 274.5h1M361 275.5h1M361 276.5h1M361 278.5h1M361 279.5h1M361 280.5h1M361 281.5h1M361 284.5h1M361 285.5h1M361 286.5h1M361 295.5h1M361 297.5h1M361 298.5h1M361 301.5h1M361 302.5h1M361 303.5h1M362 268.5h1M362 273.5h1M362 274.5h1M362 275.5h1M362 276.5h1M362 277.5h1M362 278.5h1M362 279.5h1M362 280.5h1M362 281.5h1M362 286.5h1M362 288.5h1M362 296.5h1M363 266.5h1M363 270.5h1M363 273.5h1M363 278.5h1M363 279.5h1M363 284.5h1M363 286.5h1M363 287.5h1M363 288.5h1M363 289.5h1M363 296.5h1M363 297.5h1M363 303.5h1M364 267.5h1M364 268.5h1M364 269.5h1M364 275.5h1M364 277.5h1M364 279.5h1M364 284.5h1M364 286.5h1M364 287.5h1M364 288.5h1M364 289.5h1M364 290.5h1M364 295.5h1M365 267.5h1M365 268.5h1M365 269.5h1M365 270.5h1M365 271.5h1M365 277.5h1M365 278.5h1M365 279.5h1M365 280.5h1M365 284.5h1M365 285.5h1M365 286.5h1M365 287.5h1M365 289.5h1M365 292.5h1M365 293.5h1M365 295.5h1M365 301.5h1M365 303.5h1M366 271.5h1M366 275.5h1M366 277.5h1M366 278.5h1M366 280.5h1M366 287.5h1M366 288.5h1M366 289.5h1M366 291.5h1M366 292.5h1M366 293.5h1M366 297.5h1M366 301.5h1M366 302.5h1M367 269.5h1M367 270.5h1M367 272.5h1M367 276.5h1M367 278.5h1M367 279.5h1M367 284.5h1M367 285.5h1M367 286.5h1M367 287.5h1M367 288.5h1M367 289.5h1M367 290.5h1M367 291.5h1M367 292.5h1M367 293.5h1M367 294.5h1M367 295.5h1M367 302.5h1M367 303.5h1M367 304.5h1M368 271.5h1M368 273.5h1M368 274.5h1M368 275.5h1M368 277.5h1M368 280.5h1M368 284.5h1M368 285.5h1M368 286.5h1M368 287.5h1M368 289.5h1M368 292.5h1M368 294.5h1M368 295.5h1M368 302.5h1M368 303.5h1M368 304.5h1M369 273.5h1M369 275.5h1M369 286.5h1M369 289.5h1M369 290.5h1M369 291.5h1M369 292.5h1M369 293.5h1M369 294.5h1M369 296.5h1M369 304.5h1M370 270.5h1M370 272.5h1M370 273.5h1M370 275.5h1M370 287.5h1M370 288.5h1M370 289.5h1M370 290.5h1M370 291.5h1M370 292.5h1M370 296.5h1M370 297.5h1M371 272.5h1M371 273.5h1M371 274.5h1M371 293.5h1M371 294.5h1M371 295.5h1M371 296.5h1M371 297.5h1M371 298.5h1M372 270.5h1M372 271.5h1M372 272.5h1M372 276.5h1M372 279.5h1M372 280.5h1M372 281.5h1M372 282.5h1M372 288.5h1M372 291.5h1M372 293.5h1M372 295.5h1M372 297.5h1M373 270.5h1M373 272.5h1M373 273.5h1M373 274.5h1M373 276.5h1M373 277.5h1M373 279.5h1M373 280.5h1M373 281.5h1M373 282.5h1M373 283.5h1M373 284.5h1M373 293.5h1M373 295.5h1M373 297.5h1M374 270.5h1M374 271.5h1M374 272.5h1M374 274.5h1M374 277.5h1M374 278.5h1M374 281.5h1M374 282.5h1M374 283.5h1M374 284.5h1M374 295.5h1M375 270.5h1M375 272.5h1M375 273.5h1M375 274.5h1M375 275.5h1M375 277.5h1M375 278.5h1M375 279.5h1M375 280.5h1M375 281.5h1M375 282.5h1M375 283.5h1M375 284.5h1M376 271.5h1M376 272.5h1M376 275.5h1M376 277.5h1M376 281.5h1M376 282.5h1M376 284.5h1M377 273.5h1M377 274.5h1M377 275.5h1M377 276.5h1M377 277.5h1M377 280.5h1M377 281.5h1M377 282.5h1M377 283.5h1M377 285.5h1M377 286.5h1M377 288.5h1M378 261.5h1M378 262.5h1M378 263.5h1M378 278.5h1M378 279.5h1M378 280.5h1M378 281.5h1M378 284.5h1M378 287.5h1M379 263.5h1M379 280.5h1M379 284.5h1M379 285.5h1M379 286.5h1M379 287.5h1M380 278.5h1M380 279.5h1M380 280.5h1M380 282.5h1M380 285.5h1M380 286.5h1M381 272.5h1M381 284.5h1M381 287.5h1M382 272.5h1M382 286.5h1M383 293.5h1M385 289.5h1" stroke="#45acd1" stroke-width="1.0" stroke-opacity="1.0" clip-path="url(#cd)"/><path d="M349 340.5h1M352 384.5h1M352 387.5h1M354 356.5h1M354 382.5h1M354 387.5h1M357 330.5h1M358 340.5h1M359 332.5h1M359 352.5h1M360 346.5h1M361 333.5h1M361 356.5h1M361 387.5h1M362 382.5h1M363 343.5h1M363 380.5h1M365 336.5h1M365 387.5h1M367 351.5h1M369 336.5h1M369 367.5h1M370 368.5h1M373 328.5h1M373 358.5h1M374 334.5h1M376 334.5h1M376 342.5h1M377 333.5h1M382 378.5h1M383 330.5h1M385 364.5h1M386 339.5h1M387 329.5h1M387 379.5h1M389 333.5h1M390 344.5h1M390 382.5h1M392 340.5h1M392 369.5h1M393 351.5h1M394 382.5h1M395 356.5h1M396 366.5h1M398 336.5h1" stroke="#9bbbe0" stroke-width="1.0" stroke-opacity="1.0" clip-path="url(#cd)"/><rect x="35.2" y="26" width="174.1" height="173.4" fill="none" stroke="#444" stroke-width="1.2"/><path d="M30.2 199.4h5M30.2 163.5h5M30.2 121.4h5M30.2 80.5h5M30.2 42.5h5M33.2 188.6h2M33.2 182.3h2M33.2 177.8h2M31.7 174.3h3.5M33.2 171.5h2M33.2 169.1h2M33.2 167h2M33.2 165.1h2M33.2 150.8h2M33.2 143.4h2M33.2 138.2h2M31.7 134.1h3.5M33.2 130.7h2M33.2 127.9h2M33.2 125.5h2M33.2 123.3h2M33.2 109.1h2M33.2 101.9h2M33.2 96.8h2M31.7 92.8h3.5M33.2 89.6h2M33.2 86.8h2M33.2 84.5h2M33.2 82.4h2M33.2 69.1h2M33.2 62.4h2M33.2 57.6h2M31.7 53.9h3.5M33.2 50.9h2M33.2 48.4h2M33.2 46.2h2M33.2 44.2h2M33.2 31.1h2" stroke="#2a2a2a" stroke-width="1" fill="none"/><path d="M35.5 199.4v5M52.4 199.4v5M71.6 199.4v5M113.3 199.4v5M154.2 199.4v5M192.4 199.4v5M40.6 199.4v2M43.6 199.4v2M45.7 199.4v2M47.3 199.4v3.5M48.7 199.4v2M49.8 199.4v2M50.8 199.4v2M51.6 199.4v2M58.2 199.4v2M61.6 199.4v2M64 199.4v2M65.8 199.4v3.5M67.3 199.4v2M68.6 199.4v2M69.7 199.4v2M70.7 199.4v2M84.2 199.4v2M91.5 199.4v2M96.7 199.4v2M100.7 199.4v3.5M104 199.4v2M106.8 199.4v2M109.3 199.4v2M111.4 199.4v2M125.6 199.4v2M132.8 199.4v2M137.9 199.4v2M141.9 199.4v3.5M145.1 199.4v2M147.9 199.4v2M150.2 199.4v2M152.3 199.4v2M165.7 199.4v2M172.4 199.4v2M177.2 199.4v2M180.9 199.4v3.5M183.9 199.4v2M186.5 199.4v2M188.7 199.4v2M190.7 199.4v2M203.9 199.4v2" stroke="#2a2a2a" stroke-width="1" fill="none"/><path d="M22.6 25.6V165.2" stroke="#222" stroke-width="1"/><path d="M22.6 23.6l-2.2 4.2h4.4z" fill="#222"/><path d="M75.6 212.8H207" stroke="#222" stroke-width="1"/><path d="M209 212.8l-4.2 -2.2v4.4z" fill="#222"/><text transform="translate(26.6 202.9) rotate(-90)" font-size="11.6" fill="#111">MHCII</text><text x="32.8" y="217" font-size="12" fill="#111" font-weight="normal" text-anchor="start" >CD11c</text><rect x="262" y="25" width="174.5" height="174.3" fill="none" stroke="#444" stroke-width="1.2"/><path d="M257 199.3h5M257 163.4h5M257 119.5h5M257 80.2h5M257 42h5M260 188.5h2M260 182.2h2M260 177.7h2M258.5 174.2h3.5M260 171.4h2M260 169h2M260 166.9h2M260 165h2M260 150.2h2M260 142.5h2M260 137h2M258.5 132.7h3.5M260 129.2h2M260 126.3h2M260 123.8h2M260 121.5h2M260 107.7h2M260 100.7h2M260 95.8h2M258.5 92h3.5M260 88.9h2M260 86.3h2M260 84h2M260 82h2M260 68.7h2M260 62h2M260 57.2h2M258.5 53.5h3.5M260 50.5h2M260 47.9h2M260 45.7h2M260 43.7h2M260 30.5h2" stroke="#2a2a2a" stroke-width="1" fill="none"/><path d="M262.3 199.3v5M279.2 199.3v5M298.4 199.3v5M340.1 199.3v5M381 199.3v5M419.2 199.3v5M267.4 199.3v2M270.4 199.3v2M272.5 199.3v2M274.1 199.3v3.5M275.5 199.3v2M276.6 199.3v2M277.6 199.3v2M278.4 199.3v2M285 199.3v2M288.4 199.3v2M290.8 199.3v2M292.6 199.3v3.5M294.1 199.3v2M295.4 199.3v2M296.5 199.3v2M297.5 199.3v2M311 199.3v2M318.3 199.3v2M323.5 199.3v2M327.5 199.3v3.5M330.8 199.3v2M333.6 199.3v2M336.1 199.3v2M338.2 199.3v2M352.4 199.3v2M359.6 199.3v2M364.7 199.3v2M368.7 199.3v3.5M371.9 199.3v2M374.7 199.3v2M377 199.3v2M379.1 199.3v2M392.5 199.3v2M399.2 199.3v2M404 199.3v2M407.7 199.3v3.5M410.7 199.3v2M413.3 199.3v2M415.5 199.3v2M417.5 199.3v2M430.7 199.3v2" stroke="#2a2a2a" stroke-width="1" fill="none"/><path d="M248.4 25.4V151" stroke="#222" stroke-width="1"/><path d="M248.4 23.4l-2.2 4.2h4.4z" fill="#222"/><path d="M301.9 213.3H431.8" stroke="#222" stroke-width="1"/><path d="M433.8 213.3l-4.2 -2.2v4.4z" fill="#222"/><text transform="translate(251.8 204.3) rotate(-90)" font-size="11.7" fill="#111">Langerin</text><text x="260.6" y="216.9" font-size="12" fill="#111" font-weight="normal" text-anchor="start" >CD11b</text><rect x="481.5" y="24.8" width="173.9" height="174.5" fill="none" stroke="#444" stroke-width="1.2"/><path d="M476.5 199.3h5M476.5 172h5M476.5 145.5h5M476.5 118.5h5M476.5 91.2h5M476.5 63.6h5M476.5 36.4h5M479.5 191.1h2M479.5 186.3h2M479.5 182.9h2M478 180.2h3.5M479.5 178.1h2M479.5 176.2h2M479.5 174.6h2M479.5 173.2h2M479.5 164h2M479.5 159.4h2M479.5 156h2M478 153.5h3.5M479.5 151.4h2M479.5 149.6h2M479.5 148.1h2M479.5 146.7h2M479.5 137.4h2M479.5 132.6h2M479.5 129.2h2M478 126.6h3.5M479.5 124.5h2M479.5 122.7h2M479.5 121.1h2M479.5 119.7h2M479.5 110.3h2M479.5 105.5h2M479.5 102.1h2M478 99.4h3.5M479.5 97.3h2M479.5 95.4h2M479.5 93.8h2M479.5 92.4h2M479.5 82.9h2M479.5 78h2M479.5 74.6h2M478 71.9h3.5M479.5 69.7h2M479.5 67.9h2M479.5 66.3h2M479.5 64.9h2M479.5 55.4h2M479.5 50.6h2M479.5 47.2h2M478 44.6h3.5M479.5 42.4h2M479.5 40.6h2M479.5 39h2M479.5 37.6h2M479.5 28.2h2" stroke="#2a2a2a" stroke-width="1" fill="none"/><path d="M481.8 199.3v5M498.7 199.3v5M517.9 199.3v5M559.6 199.3v5M600.5 199.3v5M638.7 199.3v5M486.9 199.3v2M489.9 199.3v2M492 199.3v2M493.6 199.3v3.5M495 199.3v2M496.1 199.3v2M497.1 199.3v2M497.9 199.3v2M504.5 199.3v2M507.9 199.3v2M510.3 199.3v2M512.1 199.3v3.5M513.6 199.3v2M514.9 199.3v2M516 199.3v2M517 199.3v2M530.5 199.3v2M537.8 199.3v2M543 199.3v2M547 199.3v3.5M550.3 199.3v2M553.1 199.3v2M555.6 199.3v2M557.7 199.3v2M571.9 199.3v2M579.1 199.3v2M584.2 199.3v2M588.2 199.3v3.5M591.4 199.3v2M594.2 199.3v2M596.5 199.3v2M598.6 199.3v2M612 199.3v2M618.7 199.3v2M623.5 199.3v2M627.2 199.3v3.5M630.2 199.3v2M632.8 199.3v2M635 199.3v2M637 199.3v2M650.2 199.3v2" stroke="#2a2a2a" stroke-width="1" fill="none"/><path d="M466.5 23.2V165" stroke="#222" stroke-width="1"/><path d="M466.5 21.2l-2.2 4.2h4.4z" fill="#222"/><path d="M524.3 212.8H651.5" stroke="#222" stroke-width="1"/><path d="M653.5 212.8l-4.2 -2.2v4.4z" fill="#222"/><text transform="translate(470.3 201.8) rotate(-90)" font-size="11.5" fill="#111">CD64</text><text x="484.6" y="216.8" font-size="11.9" fill="#111" font-weight="normal" text-anchor="start" >MMR6</text><rect x="36.8" y="242.5" width="188.7" height="176.1" fill="none" stroke="#444" stroke-width="1.2"/><path d="M31.8 418.6h5M31.8 393.1h5M31.8 366h5M31.8 339.6h5M31.8 309.5h5M31.8 282h5M31.8 254.3h5M34.8 410.9h2M34.8 406.4h2M34.8 403.2h2M33.3 400.8h3.5M34.8 398.8h2M34.8 397h2M34.8 395.6h2M34.8 394.3h2M34.8 384.9h2M34.8 380.2h2M34.8 376.8h2M33.3 374.2h3.5M34.8 372h2M34.8 370.2h2M34.8 368.6h2M34.8 367.2h2M34.8 358.1h2M34.8 353.4h2M34.8 350.1h2M33.3 347.5h3.5M34.8 345.5h2M34.8 343.7h2M34.8 342.2h2M34.8 340.8h2M34.8 330.5h2M34.8 325.2h2M34.8 321.5h2M33.3 318.6h3.5M34.8 316.2h2M34.8 314.2h2M34.8 312.4h2M34.8 310.9h2M34.8 301.2h2M34.8 296.4h2M34.8 292.9h2M33.3 290.3h3.5M34.8 288.1h2M34.8 286.3h2M34.8 284.7h2M34.8 283.3h2M34.8 273.7h2M34.8 268.8h2M34.8 265.3h2M33.3 262.6h3.5M34.8 260.4h2M34.8 258.6h2M34.8 257h2M34.8 255.6h2M34.8 246h2" stroke="#2a2a2a" stroke-width="1" fill="none"/><path d="M37.3 418.6v5M54.8 418.6v5M75.8 418.6v5M121.5 418.6v5M165.8 418.6v5M206.9 418.6v5M42.6 418.6v2M45.6 418.6v2M47.8 418.6v2M49.5 418.6v3.5M50.9 418.6v2M52.1 418.6v2M53.1 418.6v2M54 418.6v2M61.1 418.6v2M64.8 418.6v2M67.4 418.6v2M69.5 418.6v3.5M71.1 418.6v2M72.5 418.6v2M73.8 418.6v2M74.8 418.6v2M89.6 418.6v2M97.6 418.6v2M103.3 418.6v2M107.7 418.6v3.5M111.4 418.6v2M114.4 418.6v2M117.1 418.6v2M119.4 418.6v2M134.8 418.6v2M142.6 418.6v2M148.2 418.6v2M152.5 418.6v3.5M156 418.6v2M158.9 418.6v2M161.5 418.6v2M163.8 418.6v2M178.2 418.6v2M185.4 418.6v2M190.5 418.6v2M194.5 418.6v3.5M197.8 418.6v2M200.5 418.6v2M202.9 418.6v2M205 418.6v2M219.3 418.6v2" stroke="#2a2a2a" stroke-width="1" fill="none"/><rect x="244.9" y="242.3" width="188.9" height="175.4" fill="none" stroke="#444" stroke-width="1.2"/><path d="M239.9 392.7h5M239.9 365.6h5M239.9 339.2h5M239.9 309.1h5M239.9 281.6h5M239.9 253.9h5M242.9 410.5h2M242.9 406h2M242.9 402.8h2M241.4 400.4h3.5M242.9 398.4h2M242.9 396.6h2M242.9 395.2h2M242.9 393.9h2M242.9 384.5h2M242.9 379.8h2M242.9 376.4h2M241.4 373.8h3.5M242.9 371.6h2M242.9 369.8h2M242.9 368.2h2M242.9 366.8h2M242.9 357.7h2M242.9 353h2M242.9 349.7h2M241.4 347.1h3.5M242.9 345.1h2M242.9 343.3h2M242.9 341.8h2M242.9 340.4h2M242.9 330.1h2M242.9 324.8h2M242.9 321.1h2M241.4 318.2h3.5M242.9 315.8h2M242.9 313.8h2M242.9 312h2M242.9 310.5h2M242.9 300.8h2M242.9 296h2M242.9 292.5h2M241.4 289.9h3.5M242.9 287.7h2M242.9 285.9h2M242.9 284.3h2M242.9 282.9h2M242.9 273.3h2M242.9 268.4h2M242.9 264.9h2M241.4 262.2h3.5M242.9 260h2M242.9 258.2h2M242.9 256.6h2M242.9 255.2h2M242.9 245.6h2" stroke="#2a2a2a" stroke-width="1" fill="none"/><path d="M245.4 417.7v5M262.9 417.7v5M283.9 417.7v5M329.6 417.7v5M373.9 417.7v5M415 417.7v5M250.7 417.7v2M253.7 417.7v2M255.9 417.7v2M257.6 417.7v3.5M259 417.7v2M260.2 417.7v2M261.2 417.7v2M262.1 417.7v2M269.2 417.7v2M272.9 417.7v2M275.5 417.7v2M277.6 417.7v3.5M279.2 417.7v2M280.6 417.7v2M281.9 417.7v2M282.9 417.7v2M297.7 417.7v2M305.7 417.7v2M311.4 417.7v2M315.8 417.7v3.5M319.5 417.7v2M322.5 417.7v2M325.2 417.7v2M327.5 417.7v2M342.9 417.7v2M350.7 417.7v2M356.3 417.7v2M360.6 417.7v3.5M364.1 417.7v2M367 417.7v2M369.6 417.7v2M371.9 417.7v2M386.3 417.7v2M393.5 417.7v2M398.6 417.7v2M402.6 417.7v3.5M405.9 417.7v2M408.6 417.7v2M411 417.7v2M413.1 417.7v2M427.4 417.7v2" stroke="#2a2a2a" stroke-width="1" fill="none"/><path d="M22.6 241.8V383.6" stroke="#222" stroke-width="1"/><path d="M22.6 239.8l-2.2 4.2h4.4z" fill="#222"/><path d="M74.5 433.6H432.6" stroke="#222" stroke-width="1"/><path d="M434.6 433.6l-4.2 -2.2v4.4z" fill="#222"/><text transform="translate(27 419.2) rotate(-90)" font-size="11.5" fill="#111">CD64</text><text x="33.4" y="436.4" font-size="11.8" fill="#111" font-weight="normal" text-anchor="start" >MMR6</text><text x="126.1" y="237.7" font-size="14.8" fill="#111" font-weight="normal" text-anchor="middle" >control</text><text x="302.2" y="237.7" font-size="14.8" fill="#111" font-weight="normal" text-anchor="start" >Aldara 36 h</text><text x="267.2" y="41.1" font-size="14.2" fill="#3aa93a" font-weight="normal" text-anchor="start" >Langerin<tspan font-size="8.5" dx="0.4" dy="-3.6">+</tspan></text><text x="382" y="192.4" font-size="13" fill="#23589a" font-weight="normal" text-anchor="start" >CD11b<tspan font-size="8.5" dx="0.7" dy="-3.4">+</tspan></text><text x="576.8" y="37.5" font-size="11.8" fill="#1a98d0" font-weight="normal" text-anchor="start" >CD11b<tspan font-size="7" dx="0.3" dy="-3">+</tspan><tspan dx="0.3" dy="3">CD64</tspan><tspan font-size="7" dx="0.4" dy="-3">+</tspan></text><text x="486.2" y="196.5" font-size="11.6" fill="#3aa93a" font-weight="normal" text-anchor="start" >Langerin<tspan font-size="7" dx="0.5" dy="-3">+</tspan></text><text x="575.5" y="196.6" font-size="11.6" fill="#23589a" font-weight="normal" text-anchor="start" >CD11b<tspan font-size="7" dx="0.3" dy="-3">+</tspan><tspan dx="1.6" dy="3">CD64</tspan><tspan font-size="7" dx="0.4" dy="-3">-</tspan></text><text x="221" y="255.6" font-size="13.7" fill="#1a98d0" font-weight="normal" text-anchor="end" >5.0%</text><text x="38.5" y="413.3" font-size="14.1" fill="#3aa93a" font-weight="normal" text-anchor="start" >78.0%</text><text x="222.6" y="413.1" font-size="13.7" fill="#23589a" font-weight="normal" text-anchor="end" >13.6%</text><text x="429.5" y="255.4" font-size="13.7" fill="#1a98d0" font-weight="normal" text-anchor="end" >31.5%</text><text x="247.8" y="413.1" font-size="13.7" fill="#3aa93a" font-weight="normal" text-anchor="start" >57.6%</text><text x="430.9" y="413.7" font-size="13.7" fill="#23589a" font-weight="normal" text-anchor="end" >6.0%</text></svg></body></html>
